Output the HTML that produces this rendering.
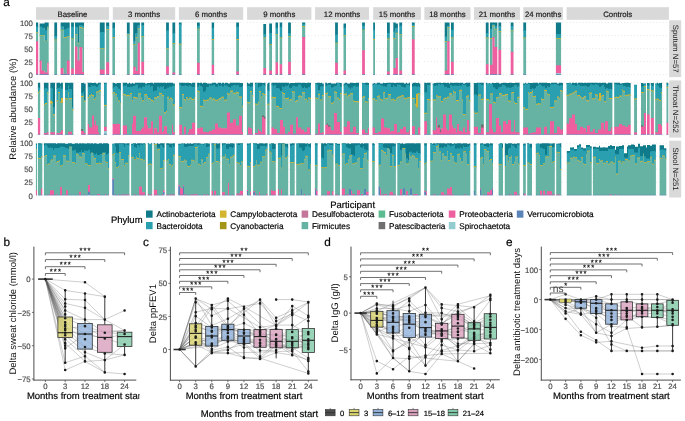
<!DOCTYPE html><html><head><meta charset="utf-8"><style>html,body{margin:0;padding:0;background:#fff;}svg{display:block;will-change:transform;}text{font-family:"Liberation Sans", sans-serif;text-rendering:geometricPrecision;paint-order:stroke;stroke-width:0.18px;}</style></head><body>
<svg width="685" height="421" viewBox="0 0 685 421">
<rect width="685" height="421" fill="#fff"/>
<text x="3.20" y="6.30" font-size="11.80" fill="#000" stroke="#000" text-anchor="start">a</text>
<rect x="36.00" y="7.2" width="73.00" height="12.6" fill="#D9D9D9"/>
<text x="72.50" y="16.60" font-size="7.80" fill="#1A1A1A" stroke="#1A1A1A" text-anchor="middle">Baseline</text>
<rect x="112.80" y="7.2" width="62.40" height="12.6" fill="#D9D9D9"/>
<text x="144.00" y="16.60" font-size="7.80" fill="#1A1A1A" stroke="#1A1A1A" text-anchor="middle">3 months</text>
<rect x="178.90" y="7.2" width="64.30" height="12.6" fill="#D9D9D9"/>
<text x="211.05" y="16.60" font-size="7.80" fill="#1A1A1A" stroke="#1A1A1A" text-anchor="middle">6 months</text>
<rect x="247.10" y="7.2" width="64.30" height="12.6" fill="#D9D9D9"/>
<text x="279.25" y="16.60" font-size="7.80" fill="#1A1A1A" stroke="#1A1A1A" text-anchor="middle">9 months</text>
<rect x="315.10" y="7.2" width="53.90" height="12.6" fill="#D9D9D9"/>
<text x="342.05" y="16.60" font-size="7.80" fill="#1A1A1A" stroke="#1A1A1A" text-anchor="middle">12 months</text>
<rect x="373.20" y="7.2" width="47.70" height="12.6" fill="#D9D9D9"/>
<text x="397.05" y="16.60" font-size="7.80" fill="#1A1A1A" stroke="#1A1A1A" text-anchor="middle">15 months</text>
<rect x="424.40" y="7.2" width="46.10" height="12.6" fill="#D9D9D9"/>
<text x="447.45" y="16.60" font-size="7.80" fill="#1A1A1A" stroke="#1A1A1A" text-anchor="middle">18 months</text>
<rect x="474.00" y="7.2" width="45.90" height="12.6" fill="#D9D9D9"/>
<text x="496.95" y="16.60" font-size="7.80" fill="#1A1A1A" stroke="#1A1A1A" text-anchor="middle">21 months</text>
<rect x="523.30" y="7.2" width="39.60" height="12.6" fill="#D9D9D9"/>
<text x="543.10" y="16.60" font-size="7.80" fill="#1A1A1A" stroke="#1A1A1A" text-anchor="middle">24 months</text>
<rect x="566.60" y="7.2" width="102.30" height="12.6" fill="#D9D9D9"/>
<text x="617.75" y="16.60" font-size="7.80" fill="#1A1A1A" stroke="#1A1A1A" text-anchor="middle">Controls</text>
<path d="M36.0 74.70H109.0M112.8 74.70H175.2M178.9 74.70H243.2M247.1 74.70H311.4M315.1 74.70H369.0M373.2 74.70H420.9M424.4 74.70H470.5M474.0 74.70H519.9M523.3 74.70H562.9M566.6 74.70H668.9M36.0 61.65H109.0M112.8 61.65H175.2M178.9 61.65H243.2M247.1 61.65H311.4M315.1 61.65H369.0M373.2 61.65H420.9M424.4 61.65H470.5M474.0 61.65H519.9M523.3 61.65H562.9M566.6 61.65H668.9M36.0 48.60H109.0M112.8 48.60H175.2M178.9 48.60H243.2M247.1 48.60H311.4M315.1 48.60H369.0M373.2 48.60H420.9M424.4 48.60H470.5M474.0 48.60H519.9M523.3 48.60H562.9M566.6 48.60H668.9M36.0 35.55H109.0M112.8 35.55H175.2M178.9 35.55H243.2M247.1 35.55H311.4M315.1 35.55H369.0M373.2 35.55H420.9M424.4 35.55H470.5M474.0 35.55H519.9M523.3 35.55H562.9M566.6 35.55H668.9M36.0 22.50H109.0M112.8 22.50H175.2M178.9 22.50H243.2M247.1 22.50H311.4M315.1 22.50H369.0M373.2 22.50H420.9M424.4 22.50H470.5M474.0 22.50H519.9M523.3 22.50H562.9M566.6 22.50H668.9M36.0 134.80H109.0M112.8 134.80H175.2M178.9 134.80H243.2M247.1 134.80H311.4M315.1 134.80H369.0M373.2 134.80H420.9M424.4 134.80H470.5M474.0 134.80H519.9M523.3 134.80H562.9M566.6 134.80H668.9M36.0 121.80H109.0M112.8 121.80H175.2M178.9 121.80H243.2M247.1 121.80H311.4M315.1 121.80H369.0M373.2 121.80H420.9M424.4 121.80H470.5M474.0 121.80H519.9M523.3 121.80H562.9M566.6 121.80H668.9M36.0 108.80H109.0M112.8 108.80H175.2M178.9 108.80H243.2M247.1 108.80H311.4M315.1 108.80H369.0M373.2 108.80H420.9M424.4 108.80H470.5M474.0 108.80H519.9M523.3 108.80H562.9M566.6 108.80H668.9M36.0 95.80H109.0M112.8 95.80H175.2M178.9 95.80H243.2M247.1 95.80H311.4M315.1 95.80H369.0M373.2 95.80H420.9M424.4 95.80H470.5M474.0 95.80H519.9M523.3 95.80H562.9M566.6 95.80H668.9M36.0 82.80H109.0M112.8 82.80H175.2M178.9 82.80H243.2M247.1 82.80H311.4M315.1 82.80H369.0M373.2 82.80H420.9M424.4 82.80H470.5M474.0 82.80H519.9M523.3 82.80H562.9M566.6 82.80H668.9M36.0 195.30H109.0M112.8 195.30H175.2M178.9 195.30H243.2M247.1 195.30H311.4M315.1 195.30H369.0M373.2 195.30H420.9M424.4 195.30H470.5M474.0 195.30H519.9M523.3 195.30H562.9M566.6 195.30H668.9M36.0 182.28H109.0M112.8 182.28H175.2M178.9 182.28H243.2M247.1 182.28H311.4M315.1 182.28H369.0M373.2 182.28H420.9M424.4 182.28H470.5M474.0 182.28H519.9M523.3 182.28H562.9M566.6 182.28H668.9M36.0 169.25H109.0M112.8 169.25H175.2M178.9 169.25H243.2M247.1 169.25H311.4M315.1 169.25H369.0M373.2 169.25H420.9M424.4 169.25H470.5M474.0 169.25H519.9M523.3 169.25H562.9M566.6 169.25H668.9M36.0 156.22H109.0M112.8 156.22H175.2M178.9 156.22H243.2M247.1 156.22H311.4M315.1 156.22H369.0M373.2 156.22H420.9M424.4 156.22H470.5M474.0 156.22H519.9M523.3 156.22H562.9M566.6 156.22H668.9M36.0 143.20H109.0M112.8 143.20H175.2M178.9 143.20H243.2M247.1 143.20H311.4M315.1 143.20H369.0M373.2 143.20H420.9M424.4 143.20H470.5M474.0 143.20H519.9M523.3 143.20H562.9M566.6 143.20H668.9" stroke="#D0D0D0" stroke-width="0.6" stroke-dasharray="0.8 2.4" fill="none"/>
<path fill="#0F7B8A" d="M36.00 22.50H38.20V27.28H36.00ZM39.60 23.54H41.70V27.28H39.60ZM41.70 23.54H44.50V28.32H41.70ZM44.50 22.50H47.30V30.93H44.50ZM47.30 22.50H48.70V26.75H47.30ZM54.30 22.50H57.10V36.67H54.30ZM60.60 22.50H63.40V26.75H60.60ZM63.40 22.50H66.90V29.89H63.40ZM66.90 22.50H69.70V28.32H66.90ZM71.10 22.50H73.90V27.28H71.10ZM75.00 22.50H77.40V27.28H75.00ZM77.40 22.50H79.50V42.94H77.40ZM79.50 22.50H82.30V25.71H79.50ZM82.30 22.50H84.00V26.75H82.30ZM99.80 22.50H104.70V32.50H99.80ZM106.10 22.50H109.20V26.75H106.10ZM112.40 22.50H115.00V28.32H112.40ZM126.90 22.50H129.70V33.54H126.90ZM133.20 22.50H135.70V41.37H133.20ZM135.70 22.50H137.80V33.54H135.70ZM137.80 22.50H139.90V25.71H137.80ZM141.30 22.50H144.10V25.71H141.30ZM166.10 22.50H168.90V30.93H166.10ZM172.40 22.50H175.20V33.54H172.40ZM178.90 22.50H181.60V24.67H178.90ZM197.00 22.50H199.80V26.23H197.00ZM211.70 22.50H214.10V28.32H211.70ZM236.20 22.50H239.00V27.28H236.20ZM263.30 24.07H266.10V34.58H263.30ZM269.20 23.54H272.00V33.54H269.20ZM275.50 22.50H278.00V28.32H275.50ZM279.70 22.50H282.20V27.28H279.70ZM288.10 22.50H290.90V33.54H288.10ZM302.10 22.50H305.20V24.67H302.10ZM335.10 22.50H337.90V35.11H335.10ZM343.50 23.54H346.00V28.32H343.50ZM362.10 22.50H364.90V26.23H362.10ZM373.20 22.50H375.00V30.41H373.20ZM387.00 22.50H389.80V33.54H387.00ZM393.30 22.50H395.70V31.97H393.30ZM395.70 23.54H397.90V28.32H395.70ZM399.30 22.50H402.10V26.23H399.30ZM411.90 22.50H414.70V25.19H411.90ZM444.70 22.50H447.20V37.19H444.70ZM447.20 22.50H449.60V26.23H447.20ZM451.00 22.50H453.80V30.41H451.00ZM485.80 22.50H488.60V33.54H485.80ZM490.00 22.50H492.50V29.36H490.00ZM492.50 22.50H494.50V24.67H492.50ZM494.50 22.50H497.30V26.75H494.50ZM498.40 22.50H501.20V26.75H498.40ZM510.70 22.50H513.50V26.75H510.70ZM523.30 22.50H526.10V30.93H523.30ZM555.90 22.50H561.10V34.58H555.90ZM37.90 82.80H39.00V87.95H37.90ZM39.00 82.80H40.20V88.26H39.00ZM43.90 82.80H45.00V89.77H43.90ZM45.00 82.80H47.00V88.72H45.00ZM47.00 82.80H48.50V89.67H47.00ZM50.30 82.80H52.00V88.04H50.30ZM52.00 82.80H53.00V89.05H52.00ZM53.00 82.80H55.00V107.94H53.00ZM56.50 82.80H58.00V88.97H56.50ZM58.00 82.80H60.00V88.27H58.00ZM60.00 83.40H61.00V86.81H60.00ZM61.00 82.80H62.90V89.03H61.00ZM65.00 82.80H66.00V90.35H65.00ZM66.00 82.80H68.00V90.51H66.00ZM68.00 83.10H69.00V85.95H68.00ZM69.00 82.80H71.00V89.80H69.00ZM71.00 82.80H72.00V89.52H71.00ZM72.00 82.80H73.30V107.72H72.00ZM81.10 83.10H83.00V93.51H81.10ZM83.00 82.80H84.00V92.06H83.00ZM84.00 83.40H85.70V100.46H84.00ZM87.70 82.80H89.00V87.32H87.70ZM89.00 82.80H91.00V87.65H89.00ZM91.00 82.80H92.00V85.78H91.00ZM92.00 83.10H94.00V86.71H92.00ZM94.00 82.80H95.00V86.06H94.00ZM95.00 82.80H96.00V86.56H95.00ZM96.00 83.40H98.00V87.51H96.00ZM98.00 82.80H99.00V85.59H98.00ZM99.00 82.80H100.80V84.65H99.00ZM104.00 82.80H105.00V84.72H104.00ZM105.00 82.80H106.80V83.92H105.00ZM112.60 82.80H114.00V88.41H112.60ZM114.00 83.10H115.00V87.38H114.00ZM115.00 83.40H117.00V86.69H115.00ZM117.00 83.10H118.00V87.69H117.00ZM118.00 83.10H120.00V89.27H118.00ZM120.00 83.10H120.90V90.86H120.00ZM122.80 82.80H124.00V86.46H122.80ZM124.00 82.80H126.00V86.31H124.00ZM126.00 82.80H127.00V85.33H126.00ZM127.00 83.40H129.00V87.64H127.00ZM129.00 82.80H130.00V87.53H129.00ZM130.00 83.40H132.00V87.33H130.00ZM132.00 83.10H133.00V87.42H132.00ZM133.00 83.40H135.00V86.58H133.00ZM135.00 82.80H136.00V85.89H135.00ZM136.00 82.80H138.00V85.47H136.00ZM138.00 82.80H139.00V89.09H138.00ZM139.00 82.80H141.00V88.10H139.00ZM141.00 82.80H142.00V89.12H141.00ZM142.00 82.80H144.00V87.05H142.00ZM144.00 82.80H145.00V87.81H144.00ZM145.00 83.40H147.00V85.28H145.00ZM147.00 83.10H148.00V86.04H147.00ZM148.00 83.10H150.00V85.33H148.00ZM150.00 82.80H151.00V87.44H150.00ZM151.00 82.80H153.00V86.84H151.00ZM153.00 83.40H154.00V92.04H153.00ZM154.00 82.80H156.00V91.18H154.00ZM156.00 82.80H157.00V91.10H156.00ZM157.00 82.80H159.00V87.17H157.00ZM159.00 82.80H160.00V88.11H159.00ZM160.00 82.80H162.00V87.05H160.00ZM162.00 82.80H163.00V87.50H162.00ZM163.00 82.80H164.00V86.79H163.00ZM164.00 82.80H166.00V89.51H164.00ZM166.00 83.10H167.00V89.29H166.00ZM167.00 82.80H169.00V88.45H167.00ZM169.00 82.80H170.00V87.19H169.00ZM170.00 82.80H172.00V87.42H170.00ZM172.00 82.80H173.00V86.39H172.00ZM173.00 83.40H174.90V86.07H173.00ZM179.20 82.80H181.00V85.20H179.20ZM181.00 82.80H182.00V86.74H181.00ZM182.00 82.80H184.00V86.78H182.00ZM184.00 82.80H185.00V86.41H184.00ZM185.00 83.10H186.00V85.96H185.00ZM186.00 82.80H188.00V86.76H186.00ZM188.00 82.80H189.00V87.00H188.00ZM189.00 83.10H191.00V86.02H189.00ZM191.00 83.40H192.00V87.15H191.00ZM192.00 82.80H194.00V87.60H192.00ZM194.00 82.80H195.20V87.15H194.00ZM197.10 82.80H199.00V87.07H197.10ZM199.00 83.10H200.00V85.44H199.00ZM200.00 82.80H202.00V86.86H200.00ZM202.00 83.40H203.00V87.68H202.00ZM203.00 82.80H205.00V92.36H203.00ZM205.00 82.80H206.00V91.30H205.00ZM206.00 83.10H207.00V87.50H206.00ZM207.00 83.40H209.00V87.72H207.00ZM209.00 83.40H210.00V85.34H209.00ZM210.00 83.40H212.00V85.98H210.00ZM212.00 82.80H213.00V86.03H212.00ZM213.00 82.80H215.00V85.37H213.00ZM215.00 82.80H216.00V87.11H215.00ZM216.00 83.40H218.00V87.45H216.00ZM218.00 82.80H219.00V85.14H218.00ZM219.00 82.80H221.00V86.71H219.00ZM221.00 83.40H222.00V85.76H221.00ZM222.00 82.80H224.00V87.05H222.00ZM224.00 83.40H225.00V85.45H224.00ZM225.00 82.80H227.00V86.19H225.00ZM227.00 83.10H228.00V86.25H227.00ZM228.00 83.40H230.00V87.78H228.00ZM230.00 82.80H231.00V88.36H230.00ZM231.00 82.80H233.00V86.69H231.00ZM233.00 82.80H234.00V85.71H233.00ZM234.00 82.80H236.00V85.48H234.00ZM236.00 82.80H237.00V86.30H236.00ZM237.00 82.80H239.00V85.74H237.00ZM239.00 82.80H240.00V87.65H239.00ZM240.00 83.10H242.00V87.80H240.00ZM242.00 83.10H243.00V86.75H242.00ZM246.90 82.80H248.00V86.65H246.90ZM248.00 83.40H250.00V86.63H248.00ZM250.00 82.80H252.00V87.29H250.00ZM252.00 82.80H253.10V86.71H252.00ZM254.90 82.80H256.00V84.77H254.90ZM256.00 82.80H258.00V83.77H256.00ZM258.00 82.80H259.00V88.00H258.00ZM259.00 82.80H261.00V87.01H259.00ZM261.00 82.80H262.00V86.67H261.00ZM262.00 83.10H264.00V85.12H262.00ZM264.00 82.80H265.50V86.19H264.00ZM267.20 83.40H268.00V90.69H267.20ZM268.00 82.80H269.60V90.91H268.00ZM271.40 82.80H273.00V85.17H271.40ZM273.00 82.80H274.00V86.78H273.00ZM274.00 82.80H276.00V85.50H274.00ZM276.00 82.80H277.00V88.77H276.00ZM277.00 82.80H279.00V88.69H277.00ZM279.00 82.80H280.00V89.24H279.00ZM280.00 82.80H282.00V91.28H280.00ZM282.00 82.80H283.00V86.83H282.00ZM283.00 82.80H285.00V87.56H283.00ZM285.00 82.80H286.00V86.11H285.00ZM286.00 82.80H288.00V86.78H286.00ZM288.00 82.80H289.00V85.05H288.00ZM289.00 83.40H290.00V88.18H289.00ZM290.00 83.10H292.00V88.75H290.00ZM292.00 83.10H293.00V86.90H292.00ZM293.00 83.10H295.00V86.38H293.00ZM295.00 82.80H296.00V87.14H295.00ZM296.00 82.80H298.00V87.15H296.00ZM298.00 82.80H299.00V85.04H298.00ZM299.00 82.80H301.00V85.13H299.00ZM301.00 83.10H302.00V86.49H301.00ZM302.00 82.80H304.00V88.60H302.00ZM304.00 82.80H305.00V87.42H304.00ZM305.00 83.10H307.00V88.57H305.00ZM307.00 82.80H308.00V88.97H307.00ZM308.00 82.80H310.00V87.64H308.00ZM310.00 82.80H311.00V85.70H310.00ZM315.20 83.10H317.00V84.25H315.20ZM317.00 82.80H318.00V85.34H317.00ZM318.00 82.80H320.00V90.72H318.00ZM320.00 83.10H321.00V87.26H320.00ZM321.00 82.80H322.00V86.90H321.00ZM322.00 83.40H323.80V86.89H322.00ZM325.20 82.80H327.00V86.59H325.20ZM327.00 83.40H328.00V85.73H327.00ZM328.00 83.10H330.00V85.23H328.00ZM330.00 82.80H331.00V85.47H330.00ZM331.00 83.40H333.00V88.01H331.00ZM333.00 83.40H334.00V87.54H333.00ZM334.00 83.40H336.00V86.80H334.00ZM336.00 82.80H337.00V86.30H336.00ZM337.00 82.80H339.00V83.72H337.00ZM339.00 82.80H340.00V84.46H339.00ZM340.00 83.10H341.80V87.08H340.00ZM343.60 83.40H345.00V86.09H343.60ZM345.00 82.80H347.00V85.16H345.00ZM347.00 83.40H348.00V86.59H347.00ZM348.00 83.40H350.00V88.01H348.00ZM350.00 82.80H351.00V89.63H350.00ZM351.00 82.80H353.00V88.22H351.00ZM353.00 83.10H354.00V86.54H353.00ZM354.00 83.10H356.00V86.33H354.00ZM356.00 82.80H357.00V87.81H356.00ZM357.00 82.80H359.00V87.12H357.00ZM362.00 82.80H363.00V83.93H362.00ZM363.00 83.10H365.00V84.22H363.00ZM365.00 82.80H366.00V85.12H365.00ZM366.00 82.80H368.00V85.64H366.00ZM368.00 83.10H369.00V85.27H368.00ZM372.50 83.40H374.00V85.79H372.50ZM374.00 83.10H375.00V84.64H374.00ZM375.00 83.40H377.00V84.62H375.00ZM377.00 82.80H378.00V85.65H377.00ZM378.00 82.80H380.00V85.21H378.00ZM380.00 83.40H381.00V85.80H380.00ZM381.00 83.40H383.00V86.13H381.00ZM383.00 82.80H384.00V86.90H383.00ZM384.00 83.10H385.00V86.74H384.00ZM385.00 83.10H387.00V87.28H385.00ZM387.00 82.80H388.00V85.15H387.00ZM388.00 82.80H390.00V84.32H388.00ZM390.00 82.80H391.00V84.59H390.00ZM391.00 82.80H393.00V87.69H391.00ZM393.00 82.80H394.00V85.84H393.00ZM394.00 83.10H396.00V87.00H394.00ZM396.00 82.80H397.00V87.37H396.00ZM397.00 82.80H398.00V85.12H397.00ZM398.00 82.80H400.00V85.34H398.00ZM400.00 82.80H401.00V85.71H400.00ZM401.00 82.80H403.00V87.33H401.00ZM403.00 82.80H404.00V87.78H403.00ZM404.00 83.40H406.00V87.98H404.00ZM406.00 82.80H407.00V85.23H406.00ZM407.00 83.40H409.00V85.74H407.00ZM409.00 82.80H410.00V86.33H409.00ZM412.00 83.40H413.00V87.43H412.00ZM413.00 82.80H415.00V86.95H413.00ZM415.00 82.80H416.00V86.91H415.00ZM416.00 83.10H418.00V87.26H416.00ZM418.00 82.80H419.00V86.55H418.00ZM419.00 83.40H420.30V87.48H419.00ZM424.20 82.80H426.00V92.63H424.20ZM426.00 83.10H427.00V93.11H426.00ZM427.00 82.80H429.00V85.76H427.00ZM429.00 82.80H430.60V85.82H429.00ZM432.70 83.40H434.00V85.05H432.70ZM434.00 83.10H436.00V86.65H434.00ZM436.00 82.80H437.00V85.76H436.00ZM437.00 82.80H438.00V86.28H437.00ZM438.00 82.80H440.00V84.74H438.00ZM440.00 82.80H441.00V85.61H440.00ZM441.00 83.10H443.00V84.62H441.00ZM443.00 82.80H444.00V85.56H443.00ZM444.00 82.80H446.00V87.33H444.00ZM446.00 83.10H447.00V87.47H446.00ZM447.00 82.80H449.00V88.43H447.00ZM449.00 83.40H450.00V88.53H449.00ZM450.00 82.80H452.00V85.50H450.00ZM452.00 82.80H453.00V86.51H452.00ZM453.00 83.10H454.00V86.72H453.00ZM454.00 82.80H456.00V86.21H454.00ZM456.00 82.80H457.00V86.37H456.00ZM457.00 82.80H459.00V86.86H457.00ZM459.00 83.10H460.00V85.95H459.00ZM460.00 82.80H462.00V86.40H460.00ZM462.00 82.80H463.00V84.81H462.00ZM463.00 83.40H465.00V85.51H463.00ZM465.00 83.10H466.00V85.02H465.00ZM466.00 82.80H467.00V86.91H466.00ZM467.00 82.80H469.00V87.30H467.00ZM469.00 82.80H470.30V86.82H469.00ZM473.80 83.10H475.00V95.16H473.80ZM475.00 83.10H477.00V95.16H475.00ZM477.00 82.80H478.00V96.24H477.00ZM478.00 82.80H480.00V84.07H478.00ZM480.00 82.80H481.00V84.75H480.00ZM481.00 82.80H482.00V85.45H481.00ZM482.00 82.80H483.80V85.50H482.00ZM485.90 82.80H487.00V85.01H485.90ZM487.00 83.40H489.00V84.30H487.00ZM489.00 83.10H490.00V84.00H489.00ZM490.00 83.40H492.00V84.50H490.00ZM492.00 82.80H493.00V84.95H492.00ZM493.00 83.10H495.00V87.90H493.00ZM495.00 83.10H496.00V89.34H495.00ZM496.00 82.80H498.00V89.97H496.00ZM498.00 82.80H499.00V88.18H498.00ZM499.00 83.40H501.00V87.84H499.00ZM501.00 83.10H502.00V87.18H501.00ZM502.00 83.10H503.00V85.02H502.00ZM503.00 82.80H505.00V85.94H503.00ZM505.00 82.80H506.00V86.68H505.00ZM506.00 83.10H508.00V88.20H506.00ZM508.00 83.10H509.00V87.94H508.00ZM509.00 82.80H511.00V88.42H509.00ZM511.00 82.80H512.00V88.01H511.00ZM512.00 83.10H514.00V87.29H512.00ZM514.00 83.10H515.00V85.78H514.00ZM515.00 82.80H517.00V85.84H515.00ZM517.00 82.80H518.00V87.68H517.00ZM518.00 82.80H519.60V86.44H518.00ZM523.10 83.40H525.00V85.28H523.10ZM525.00 82.80H526.00V84.29H525.00ZM526.00 83.40H528.00V85.03H526.00ZM528.00 82.80H529.00V84.15H528.00ZM529.00 83.10H530.00V84.66H529.00ZM530.00 83.10H532.00V89.78H530.00ZM532.00 83.10H533.00V88.86H532.00ZM533.00 82.80H535.00V89.39H533.00ZM535.00 82.80H536.00V88.49H535.00ZM536.00 82.80H538.00V86.74H536.00ZM538.00 83.40H539.00V85.45H538.00ZM539.00 82.80H541.00V85.15H539.00ZM541.00 82.80H542.00V86.21H541.00ZM542.00 82.80H544.00V86.96H542.00ZM544.00 82.80H545.00V86.57H544.00ZM545.00 82.80H547.00V88.57H545.00ZM547.00 83.10H548.00V86.68H547.00ZM548.00 83.10H550.00V87.87H548.00ZM550.00 83.40H551.00V85.79H550.00ZM551.00 82.80H553.00V84.97H551.00ZM553.00 82.80H554.00V85.14H553.00ZM554.00 82.80H556.00V84.87H554.00ZM556.00 82.80H557.00V84.94H556.00ZM557.00 83.40H559.00V85.84H557.00ZM559.00 82.80H560.00V86.82H559.00ZM560.00 82.80H562.00V85.92H560.00ZM562.00 83.10H563.00V85.92H562.00ZM566.50 83.10H568.00V84.14H566.50ZM568.00 83.10H569.00V84.00H568.00ZM569.00 82.80H571.00V83.74H569.00ZM571.00 83.40H572.00V84.92H571.00ZM572.00 82.80H574.00V85.54H572.00ZM574.00 83.10H575.00V85.34H574.00ZM575.00 82.80H577.00V86.32H575.00ZM577.00 83.40H578.00V85.09H577.00ZM578.00 82.80H580.00V85.46H578.00ZM580.00 82.80H581.00V86.62H580.00ZM581.00 82.80H583.00V86.82H581.00ZM583.00 83.10H584.00V86.80H583.00ZM584.00 82.80H586.00V86.46H584.00ZM586.00 83.10H587.00V86.53H586.00ZM587.00 82.80H589.00V87.85H587.00ZM589.00 82.80H590.00V86.59H589.00ZM590.00 82.80H592.00V84.92H590.00ZM592.00 82.80H593.00V85.24H592.00ZM593.00 82.80H595.00V85.57H593.00ZM595.00 82.80H596.00V84.36H595.00ZM596.00 82.80H598.00V85.18H596.00ZM598.00 83.10H599.00V85.71H598.00ZM599.00 82.80H601.00V87.51H599.00ZM601.00 83.10H602.00V86.50H601.00ZM602.00 82.80H604.00V85.81H602.00ZM604.00 82.80H605.00V87.71H604.00ZM605.00 82.80H606.00V89.81H605.00ZM606.00 83.40H608.00V88.53H606.00ZM608.00 82.80H609.00V89.81H608.00ZM609.00 82.80H611.00V89.43H609.00ZM611.00 82.80H612.40V89.61H611.00ZM614.20 82.80H616.00V84.70H614.20ZM616.00 82.80H617.00V85.04H616.00ZM617.00 82.80H619.00V85.00H617.00ZM619.00 82.80H620.00V85.52H619.00ZM620.00 83.40H622.00V85.50H620.00ZM622.00 83.10H623.00V84.11H622.00ZM623.00 83.10H625.00V86.73H623.00ZM625.00 82.80H626.00V86.93H625.00ZM626.00 82.80H628.00V87.63H626.00ZM628.00 82.80H629.00V87.10H628.00ZM629.00 83.10H630.70V87.60H629.00ZM634.10 84.82H636.00V85.72H634.10ZM636.00 84.82H637.00V85.72H636.00ZM641.00 83.10H643.00V87.20H641.00ZM643.00 83.40H644.00V86.44H643.00ZM644.00 83.40H646.00V84.30H644.00ZM647.00 83.10H648.00V86.04H647.00ZM648.00 83.10H649.70V86.11H648.00ZM650.80 83.10H652.00V85.29H650.80ZM652.00 83.10H653.90V86.78H652.00ZM655.20 83.40H657.00V84.41H655.20ZM657.00 82.80H658.00V85.94H657.00ZM658.00 83.40H659.00V85.98H658.00ZM659.00 83.10H661.00V88.12H659.00ZM661.00 82.80H662.10V88.58H661.00ZM666.50 82.80H668.30V85.11H666.50ZM35.90 143.50H37.00V145.42H35.90ZM37.90 143.20H39.00V144.40H37.90ZM39.00 143.20H41.00V144.98H39.00ZM41.00 143.50H42.30V144.74H41.00ZM43.90 143.20H45.00V146.36H43.90ZM45.00 143.20H47.00V145.41H45.00ZM47.00 143.20H48.00V146.98H47.00ZM48.00 143.20H50.00V148.24H48.00ZM50.00 143.20H51.00V148.07H50.00ZM51.00 143.20H53.00V148.25H51.00ZM53.00 143.20H54.00V150.63H53.00ZM54.00 143.20H56.00V148.63H54.00ZM56.00 143.80H57.00V148.56H56.00ZM57.00 143.20H59.00V148.51H57.00ZM59.00 143.20H60.00V148.03H59.00ZM60.00 143.20H62.00V147.34H60.00ZM62.00 143.20H63.00V146.89H62.00ZM63.00 143.20H65.00V147.63H63.00ZM65.00 143.80H66.00V148.26H65.00ZM66.00 143.80H68.00V148.57H66.00ZM68.00 143.20H69.00V149.83H68.00ZM69.00 143.20H71.00V147.41H69.00ZM71.00 143.20H72.00V147.32H71.00ZM72.00 143.80H74.00V151.14H72.00ZM74.00 143.80H75.00V150.76H74.00ZM75.00 143.20H76.00V150.31H75.00ZM76.00 143.20H78.00V153.22H76.00ZM78.00 143.80H79.00V153.28H78.00ZM79.00 143.20H81.00V152.62H79.00ZM81.00 143.50H82.00V150.90H81.00ZM82.00 143.20H84.00V152.71H82.00ZM84.00 143.50H85.00V150.53H84.00ZM85.00 143.50H87.00V151.27H85.00ZM87.00 143.20H88.00V151.25H87.00ZM88.00 143.20H90.00V150.41H88.00ZM90.00 143.50H91.00V153.92H90.00ZM91.00 143.20H93.00V153.23H91.00ZM93.00 143.80H94.00V153.85H93.00ZM94.00 143.20H96.00V154.92H94.00ZM96.00 143.50H97.00V153.80H96.00ZM97.00 143.80H99.00V155.81H97.00ZM99.00 143.20H100.00V155.56H99.00ZM100.00 143.20H102.00V154.82H100.00ZM102.00 143.80H103.00V152.90H102.00ZM103.00 143.20H105.00V152.94H103.00ZM105.00 143.20H106.00V152.89H105.00ZM106.00 143.20H108.00V154.90H106.00ZM108.00 143.80H109.10V153.71H108.00ZM112.20 143.80H114.00V144.70H112.20ZM114.00 143.50H115.00V144.40H114.00ZM115.00 143.20H116.00V147.02H115.00ZM116.00 143.20H118.00V153.29H116.00ZM118.00 143.20H119.00V153.64H118.00ZM119.00 143.20H121.00V144.56H119.00ZM121.00 143.20H122.00V144.10H121.00ZM122.00 143.20H124.00V144.96H122.00ZM124.00 143.20H125.00V147.83H124.00ZM125.00 143.50H127.00V145.22H125.00ZM127.00 143.20H128.00V145.49H127.00ZM128.00 143.20H129.40V145.64H128.00ZM131.10 143.80H133.00V145.31H131.10ZM133.00 143.20H134.00V144.10H133.00ZM134.00 143.20H136.00V147.69H134.00ZM136.00 143.80H137.00V148.47H136.00ZM137.00 143.20H139.00V145.52H137.00ZM139.00 143.20H140.00V147.19H139.00ZM140.00 143.20H142.00V145.10H140.00ZM142.00 143.50H143.00V145.96H142.00ZM143.00 143.20H145.00V144.30H143.00ZM145.00 143.80H146.00V144.70H145.00ZM147.80 143.20H149.00V144.10H147.80ZM149.00 143.80H151.00V144.70H149.00ZM151.00 143.20H152.20V144.62H151.00ZM153.80 143.20H155.00V144.10H153.80ZM155.00 143.80H157.00V144.70H155.00ZM157.00 143.20H158.00V148.35H157.00ZM158.00 143.80H160.00V148.11H158.00ZM160.00 143.20H162.00V145.78H160.00ZM162.00 143.20H163.00V147.11H162.00ZM163.00 143.20H164.60V147.99H163.00ZM166.20 143.20H168.00V145.25H166.20ZM168.00 143.20H169.00V145.64H168.00ZM169.00 143.50H171.00V147.79H169.00ZM171.00 143.50H172.00V148.87H171.00ZM172.00 143.50H173.00V145.57H172.00ZM173.00 143.20H174.90V147.01H173.00ZM178.20 143.80H180.00V145.06H178.20ZM180.00 143.80H181.00V145.13H180.00ZM181.00 143.50H183.00V144.40H181.00ZM183.00 143.50H184.00V144.51H183.00ZM184.00 143.20H185.00V147.32H184.00ZM185.00 143.80H187.00V147.53H185.00ZM187.00 143.20H188.00V147.11H187.00ZM188.00 143.50H190.00V146.62H188.00ZM190.00 143.20H191.00V146.73H190.00ZM191.00 143.80H193.00V146.87H191.00ZM193.00 143.20H194.00V146.14H193.00ZM194.00 143.20H195.00V145.22H194.00ZM195.00 143.20H197.00V144.72H195.00ZM197.00 143.20H198.00V145.67H197.00ZM198.00 143.20H200.00V145.20H198.00ZM200.00 143.50H201.00V145.02H200.00ZM201.00 143.80H203.00V144.70H201.00ZM203.00 143.80H204.00V145.82H203.00ZM204.00 143.50H206.00V144.40H204.00ZM206.00 143.20H207.00V147.62H206.00ZM207.00 143.20H208.00V147.79H207.00ZM208.00 143.50H209.90V147.03H208.00ZM211.50 143.20H213.00V144.66H211.50ZM213.00 143.20H214.00V144.46H213.00ZM214.00 143.50H216.00V144.69H214.00ZM216.00 143.20H217.00V149.20H216.00ZM217.00 143.50H219.00V149.17H217.00ZM219.00 143.20H220.20V148.43H219.00ZM221.90 143.20H223.00V146.32H221.90ZM223.00 143.20H225.00V145.08H223.00ZM225.00 143.20H226.00V144.48H225.00ZM226.00 143.80H228.00V149.45H226.00ZM228.00 143.50H229.00V149.48H228.00ZM229.00 143.80H230.00V147.66H229.00ZM230.00 143.20H232.00V147.67H230.00ZM232.00 143.20H233.00V148.60H232.00ZM233.00 143.50H234.70V147.33H233.00ZM236.40 143.50H238.00V144.40H236.40ZM238.00 143.20H240.00V145.63H238.00ZM240.00 143.20H241.00V144.82H240.00ZM241.00 143.20H243.00V144.34H241.00ZM246.90 143.50H248.00V145.48H246.90ZM248.00 143.50H250.00V145.12H248.00ZM250.00 143.20H251.00V144.10H250.00ZM253.10 143.20H255.00V144.10H253.10ZM255.00 143.20H256.00V145.21H255.00ZM256.00 143.20H257.00V145.08H256.00ZM257.00 143.80H259.00V149.77H257.00ZM259.00 143.20H260.00V148.98H259.00ZM260.00 143.20H262.00V146.78H260.00ZM262.00 143.20H263.00V146.46H262.00ZM263.00 143.50H265.00V146.43H263.00ZM265.00 143.20H266.00V147.15H265.00ZM266.00 143.20H267.60V146.23H266.00ZM269.20 143.80H271.00V144.70H269.20ZM271.00 143.20H272.00V144.68H271.00ZM272.00 143.20H274.00V149.77H272.00ZM274.00 143.80H275.80V149.25H274.00ZM277.90 143.20H279.00V145.10H277.90ZM279.00 143.20H281.00V144.10H279.00ZM281.00 143.20H282.00V156.09H281.00ZM282.00 143.20H284.00V145.21H282.00ZM284.00 143.20H285.00V144.21H284.00ZM285.00 143.80H287.00V147.07H285.00ZM287.00 143.80H288.20V148.20H287.00ZM289.90 143.50H292.00V146.34H289.90ZM292.00 143.20H293.00V145.63H292.00ZM293.00 143.20H294.70V145.23H293.00ZM296.20 143.50H298.00V144.40H296.20ZM298.00 143.20H299.00V144.42H298.00ZM299.00 143.20H301.00V148.03H299.00ZM301.00 143.20H302.00V148.30H301.00ZM302.00 143.20H304.00V151.32H302.00ZM304.00 143.20H305.00V150.70H304.00ZM305.00 143.50H307.00V147.06H305.00ZM307.00 143.20H308.00V145.03H307.00ZM308.00 143.80H310.00V147.07H308.00ZM310.00 143.20H311.00V148.23H310.00ZM314.90 143.20H316.00V144.90H314.90ZM316.00 143.20H317.60V145.39H316.00ZM321.10 143.20H323.00V158.33H321.10ZM323.00 143.50H324.00V159.13H323.00ZM324.00 143.20H326.00V146.38H324.00ZM326.00 143.80H327.00V146.34H326.00ZM327.00 143.20H329.00V144.31H327.00ZM329.00 143.20H330.00V145.14H329.00ZM330.00 143.20H332.00V145.63H330.00ZM332.00 143.20H333.50V145.35H332.00ZM335.10 143.20H337.00V144.10H335.10ZM337.00 143.80H338.00V145.78H337.00ZM338.00 143.80H340.00V145.64H338.00ZM341.80 143.20H343.00V144.70H341.80ZM343.00 143.20H345.00V144.10H343.00ZM345.00 143.20H346.00V144.92H345.00ZM346.00 143.50H348.00V147.96H346.00ZM348.00 143.20H349.00V149.04H348.00ZM349.00 143.80H351.00V148.88H349.00ZM351.00 143.20H352.00V155.05H351.00ZM352.00 143.20H354.00V155.44H352.00ZM354.00 143.20H355.00V156.68H354.00ZM355.00 143.20H357.00V146.03H355.00ZM357.00 143.20H358.00V145.77H357.00ZM358.00 143.20H360.00V145.46H358.00ZM360.00 143.80H361.00V147.64H360.00ZM361.00 143.20H363.00V148.47H361.00ZM363.00 143.80H364.00V146.94H363.00ZM364.00 143.20H366.00V149.97H364.00ZM366.00 143.20H367.00V151.06H366.00ZM367.00 143.20H368.60V150.55H367.00ZM372.20 143.20H374.00V145.56H372.20ZM374.00 143.80H374.80V145.31H374.00ZM378.50 143.20H380.00V144.12H378.50ZM380.00 143.20H381.00V144.10H380.00ZM381.00 143.20H383.00V144.10H381.00ZM383.00 143.50H384.00V148.08H383.00ZM384.00 143.20H386.00V148.42H384.00ZM386.00 143.20H387.00V148.58H386.00ZM387.00 143.20H389.00V148.83H387.00ZM389.00 143.20H390.00V149.55H389.00ZM390.00 143.20H392.00V153.62H390.00ZM392.00 143.20H393.00V146.92H392.00ZM393.00 143.20H394.00V147.12H393.00ZM394.00 143.50H395.90V146.39H394.00ZM397.30 143.20H399.00V144.15H397.30ZM399.00 143.20H400.00V144.12H399.00ZM400.00 143.50H402.00V150.84H400.00ZM402.00 143.20H403.00V148.73H402.00ZM403.00 143.80H405.00V148.50H403.00ZM405.00 143.50H406.00V148.77H405.00ZM406.00 143.20H408.00V158.91H406.00ZM408.00 143.20H409.00V160.62H408.00ZM409.00 143.20H410.00V152.85H409.00ZM410.00 143.20H412.00V152.11H410.00ZM412.00 143.20H413.00V153.50H412.00ZM413.00 143.20H415.00V153.01H413.00ZM415.00 143.50H416.00V153.73H415.00ZM416.00 143.20H418.00V151.98H416.00ZM418.00 143.20H419.00V153.58H418.00ZM419.00 143.20H420.70V153.71H419.00ZM424.20 143.20H426.00V145.93H424.20ZM426.00 143.20H426.90V145.67H426.00ZM430.20 143.20H432.00V144.10H430.20ZM432.00 143.80H433.00V145.22H432.00ZM433.00 143.20H435.00V145.49H433.00ZM435.00 143.50H436.00V144.53H435.00ZM436.00 143.20H438.00V144.22H436.00ZM438.00 143.20H439.00V145.18H438.00ZM439.00 143.20H441.00V148.44H439.00ZM441.00 143.20H442.00V147.96H441.00ZM442.00 143.20H444.00V148.30H442.00ZM444.00 143.20H445.00V146.62H444.00ZM445.00 143.50H447.00V147.55H445.00ZM447.00 143.20H448.00V145.20H447.00ZM448.00 143.20H450.00V145.56H448.00ZM450.00 143.20H451.00V147.05H450.00ZM451.00 143.20H452.00V146.33H451.00ZM452.00 143.80H454.00V145.99H452.00ZM454.00 143.20H455.00V145.11H454.00ZM455.00 143.50H457.00V149.44H455.00ZM457.00 143.20H458.00V148.06H457.00ZM458.00 143.20H460.00V149.02H458.00ZM460.00 143.20H461.00V147.80H460.00ZM461.00 143.50H463.00V149.09H461.00ZM463.00 143.20H464.00V146.44H463.00ZM464.00 143.20H466.00V147.55H464.00ZM466.00 143.20H467.00V147.56H466.00ZM467.00 143.80H469.00V147.20H467.00ZM469.00 143.50H470.30V145.72H469.00ZM473.80 143.20H475.00V145.27H473.80ZM475.00 143.20H476.50V145.25H475.00ZM480.00 143.50H481.00V145.41H480.00ZM481.00 143.20H483.00V145.04H481.00ZM483.00 143.80H484.00V144.83H483.00ZM484.00 143.80H486.00V146.65H484.00ZM486.00 143.20H487.00V147.02H486.00ZM487.00 143.20H489.00V147.69H487.00ZM489.00 143.80H490.00V145.19H489.00ZM490.00 143.20H492.00V146.14H490.00ZM492.00 143.50H493.00V145.61H492.00ZM498.60 143.80H500.00V144.70H498.60ZM500.00 143.20H502.00V144.10H500.00ZM502.00 143.50H503.00V148.43H502.00ZM504.80 143.20H506.00V155.38H504.80ZM506.00 143.80H508.00V155.94H506.00ZM508.00 143.20H509.00V149.86H508.00ZM509.00 143.20H511.00V148.39H509.00ZM511.00 143.20H512.00V145.06H511.00ZM512.00 143.80H514.00V145.98H512.00ZM514.00 143.50H515.00V147.17H514.00ZM515.00 143.80H517.00V148.50H515.00ZM517.00 143.20H518.00V145.10H517.00ZM518.00 143.20H519.60V145.50H518.00ZM523.10 143.80H524.00V146.21H523.10ZM524.00 143.50H525.80V145.71H524.00ZM527.20 143.20H529.00V144.10H527.20ZM529.00 143.80H530.00V144.73H529.00ZM530.00 143.80H532.00V148.26H530.00ZM535.80 143.80H537.00V144.70H535.80ZM537.00 143.50H539.00V144.41H537.00ZM539.00 143.80H540.00V144.70H539.00ZM540.00 143.50H542.00V148.42H540.00ZM542.00 143.20H543.00V148.59H542.00ZM543.00 143.20H545.00V149.62H543.00ZM545.00 143.20H546.00V155.59H545.00ZM546.00 143.20H547.00V155.21H546.00ZM547.00 143.20H549.00V146.71H547.00ZM549.00 143.50H550.00V146.15H549.00ZM550.00 143.50H552.00V145.10H550.00ZM552.00 143.50H553.00V147.88H552.00ZM553.00 143.20H554.80V147.49H553.00ZM556.20 143.80H558.00V144.70H556.20ZM558.00 143.50H560.00V145.01H558.00ZM560.00 143.20H561.30V147.34H560.00ZM566.80 151.02H568.00V153.46H566.80ZM568.00 151.02H570.00V153.33H568.00ZM570.00 147.44H571.00V149.86H570.00ZM571.00 147.44H573.00V150.28H571.00ZM573.00 147.16H574.00V149.90H573.00ZM574.00 148.95H576.00V151.42H574.00ZM576.00 148.95H577.00V151.22H576.00ZM577.00 145.23H579.00V147.91H577.00ZM579.00 144.13H580.00V146.33H579.00ZM580.00 144.13H581.00V146.94H580.00ZM581.00 147.44H583.00V149.65H581.00ZM583.00 148.26H584.00V150.97H583.00ZM584.00 148.26H586.00V151.05H584.00ZM586.00 144.96H587.00V147.29H586.00ZM587.00 144.96H589.00V147.50H587.00ZM589.00 144.96H590.00V147.21H589.00ZM590.00 146.34H591.70V148.84H590.00ZM592.90 146.75H594.00V149.65H592.90ZM594.00 146.75H596.00V149.32H594.00ZM596.00 147.16H597.00V149.24H596.00ZM597.00 147.16H599.00V149.85H597.00ZM599.00 145.65H600.00V151.84H599.00ZM600.00 147.44H602.00V151.69H600.00ZM602.00 147.44H603.00V151.46H602.00ZM603.00 147.16H605.00V151.53H603.00ZM605.00 147.44H606.00V151.43H605.00ZM606.00 147.44H608.00V151.70H606.00ZM608.00 146.06H609.00V149.87H608.00ZM609.00 146.06H610.00V149.67H609.00ZM610.00 145.23H612.00V149.49H610.00ZM612.00 146.06H613.00V149.80H612.00ZM613.00 146.06H615.00V149.47H613.00ZM615.00 149.64H616.00V154.58H615.00ZM616.00 146.47H618.00V154.90H616.00ZM618.00 146.47H619.00V154.95H618.00ZM619.00 146.06H621.00V149.59H619.00ZM621.00 146.06H622.00V149.45H621.00ZM622.00 145.23H624.00V149.24H622.00ZM624.00 153.36H625.00V157.99H624.00ZM625.00 153.36H627.00V158.42H625.00ZM627.00 146.47H628.00V158.43H627.00ZM628.00 145.23H630.00V149.37H628.00ZM630.00 145.23H631.00V149.61H630.00ZM631.00 144.55H632.00V149.36H631.00ZM632.00 144.55H634.00V149.85H632.00ZM634.00 144.96H635.00V153.09H634.00ZM635.00 146.75H637.00V153.07H635.00ZM637.00 146.75H638.00V153.30H637.00ZM638.00 143.86H640.00V148.27H638.00ZM640.00 146.34H641.00V156.54H640.00ZM641.00 146.34H643.00V156.53H641.00ZM643.00 145.23H644.00V154.33H643.00ZM644.00 145.23H646.00V157.11H644.00ZM646.00 147.44H647.00V159.26H646.00ZM647.00 144.96H649.00V159.20H647.00ZM649.00 144.96H650.00V159.27H649.00ZM650.00 145.65H652.00V151.98H650.00ZM652.00 144.55H653.00V151.84H652.00ZM653.00 144.55H654.00V151.54H653.00ZM654.00 144.55H655.90V151.88H654.00ZM659.60 145.23H661.00V150.38H659.60ZM661.00 145.23H662.00V150.18H661.00ZM662.00 145.23H664.00V150.10H662.00ZM664.00 148.26H665.00V150.74H664.00ZM665.00 148.26H666.30V151.00H665.00Z"/>
<path fill="#2A9FB0" d="M36.00 26.68H38.20V32.91H36.00ZM39.60 26.68H41.70V35.52H39.60ZM41.70 27.72H44.50V35.52H41.70ZM44.50 30.33H47.30V41.27H44.50ZM47.30 26.15H48.70V28.22H47.30ZM54.30 36.07H57.10V40.22H54.30ZM60.60 26.15H63.40V30.30H60.60ZM63.40 29.29H66.90V37.61H63.40ZM66.90 27.72H69.70V36.57H66.90ZM71.10 26.68H73.90V39.18H71.10ZM75.00 26.68H77.40V34.48H75.00ZM77.40 42.34H79.50V43.35H77.40ZM79.50 25.11H82.30V27.69H79.50ZM82.30 26.15H84.00V28.74H82.30ZM99.80 31.90H104.70V48.57H99.80ZM106.10 26.15H109.20V29.78H106.10ZM112.40 27.72H115.00V37.61H112.40ZM126.90 32.94H129.70V34.48H126.90ZM133.20 40.77H135.70V44.92H133.20ZM135.70 32.94H137.80V37.61H135.70ZM137.80 25.11H139.90V28.74H137.80ZM141.30 25.11H144.10V36.57H141.30ZM166.10 30.33H168.90V48.57H166.10ZM172.40 32.94H175.20V43.88H172.40ZM178.90 24.07H181.60V44.40H178.90ZM197.00 25.63H199.80V29.26H197.00ZM211.70 27.72H214.10V39.70H211.70ZM236.20 26.68H239.00V39.70H236.20ZM263.30 33.98H266.10V38.13H263.30ZM269.20 32.94H272.00V44.92H269.20ZM275.50 27.72H278.00V34.48H275.50ZM279.70 26.68H282.20V38.13H279.70ZM288.10 32.94H290.90V36.57H288.10ZM302.10 24.07H305.20V26.65H302.10ZM335.10 34.51H337.90V43.35H335.10ZM343.50 27.72H346.00V35.52H343.50ZM362.10 25.63H364.90V30.30H362.10ZM373.20 29.81H375.00V39.70H373.20ZM387.00 32.94H389.80V39.18H387.00ZM393.30 31.37H395.70V38.66H393.30ZM395.70 27.72H397.90V33.44H395.70ZM399.30 25.63H402.10V34.48H399.30ZM411.90 24.59H414.70V26.65H411.90ZM444.70 36.59H447.20V41.79H444.70ZM447.20 25.63H449.60V27.69H447.20ZM451.00 29.81H453.80V38.13H451.00ZM485.80 32.94H488.60V38.13H485.80ZM490.00 28.76H492.50V38.66H490.00ZM492.50 24.07H494.50V26.13H492.50ZM494.50 26.15H497.30V29.26H494.50ZM498.40 26.15H501.20V31.87H498.40ZM510.70 26.15H513.50V30.83H510.70ZM523.30 30.33H526.10V38.13H523.30ZM555.90 33.98H561.10V38.66H555.90ZM37.90 87.35H39.00V92.74H37.90ZM39.00 87.66H40.20V91.30H39.00ZM43.90 89.17H45.00V104.54H43.90ZM45.00 88.12H47.00V103.64H45.00ZM47.00 89.07H48.50V92.95H47.00ZM50.30 87.44H52.00V101.27H50.30ZM52.00 88.45H53.00V102.56H52.00ZM53.00 107.34H55.00V114.87H53.00ZM56.50 88.37H58.00V100.90H56.50ZM58.00 87.67H60.00V92.56H58.00ZM60.00 86.21H61.00V102.02H60.00ZM61.00 88.43H62.90V98.52H61.00ZM65.00 89.75H66.00V98.68H65.00ZM66.00 89.91H68.00V99.00H66.00ZM68.00 85.35H69.00V92.99H68.00ZM69.00 89.20H71.00V98.84H69.00ZM71.00 88.92H72.00V98.56H71.00ZM72.00 107.12H73.30V109.92H72.00ZM81.10 92.91H83.00V96.48H81.10ZM83.00 91.46H84.00V96.04H83.00ZM84.00 99.86H85.70V101.10H84.00ZM87.70 86.72H89.00V97.54H87.70ZM89.00 87.05H91.00V95.89H89.00ZM91.00 85.18H92.00V94.50H91.00ZM92.00 86.11H94.00V95.58H92.00ZM94.00 85.46H95.00V99.63H94.00ZM95.00 85.96H96.00V98.17H95.00ZM96.00 86.91H98.00V92.13H96.00ZM98.00 84.99H99.00V91.67H98.00ZM99.00 84.05H100.80V90.52H99.00ZM104.00 84.12H105.00V105.28H104.00ZM105.00 83.32H106.80V105.54H105.00ZM112.60 87.81H114.00V93.21H112.60ZM114.00 86.78H115.00V92.69H114.00ZM115.00 86.09H117.00V94.39H115.00ZM117.00 87.09H118.00V98.12H117.00ZM118.00 88.67H120.00V101.08H118.00ZM120.00 90.26H120.90V103.79H120.00ZM122.80 85.86H124.00V94.18H122.80ZM124.00 85.71H126.00V94.73H124.00ZM126.00 84.73H127.00V95.78H126.00ZM127.00 87.04H129.00V95.23H127.00ZM129.00 86.93H130.00V95.76H129.00ZM130.00 86.73H132.00V93.64H130.00ZM132.00 86.82H133.00V100.93H132.00ZM133.00 85.98H135.00V97.34H133.00ZM135.00 85.29H136.00V97.49H135.00ZM136.00 84.87H138.00V98.18H136.00ZM138.00 88.49H139.00V94.11H138.00ZM139.00 87.50H141.00V93.93H139.00ZM141.00 88.52H142.00V98.26H141.00ZM142.00 86.45H144.00V100.89H142.00ZM144.00 87.21H145.00V94.98H144.00ZM145.00 84.68H147.00V94.54H145.00ZM147.00 85.44H148.00V96.95H147.00ZM148.00 84.73H150.00V98.58H148.00ZM150.00 86.84H151.00V99.29H150.00ZM151.00 86.24H153.00V100.30H151.00ZM153.00 91.44H154.00V101.42H153.00ZM154.00 90.58H156.00V97.94H154.00ZM156.00 90.50H157.00V97.84H156.00ZM157.00 86.57H159.00V96.81H157.00ZM159.00 87.51H160.00V93.44H159.00ZM160.00 86.45H162.00V93.61H160.00ZM162.00 86.90H163.00V95.27H162.00ZM163.00 86.19H164.00V95.64H163.00ZM164.00 88.91H166.00V112.80H164.00ZM166.00 88.69H167.00V111.59H166.00ZM167.00 87.85H169.00V97.43H167.00ZM169.00 86.59H170.00V99.65H169.00ZM170.00 86.82H172.00V98.24H170.00ZM172.00 85.79H173.00V99.78H172.00ZM173.00 85.47H174.90V104.97H173.00ZM179.20 84.60H181.00V107.66H179.20ZM181.00 86.14H182.00V107.84H181.00ZM182.00 86.18H184.00V94.72H182.00ZM184.00 85.81H185.00V99.59H184.00ZM185.00 85.36H186.00V100.21H185.00ZM186.00 86.16H188.00V97.89H186.00ZM188.00 86.40H189.00V99.49H188.00ZM189.00 85.42H191.00V98.02H189.00ZM191.00 86.55H192.00V98.31H191.00ZM192.00 87.00H194.00V99.70H192.00ZM194.00 86.55H195.20V98.09H194.00ZM197.10 86.47H199.00V91.36H197.10ZM199.00 84.84H200.00V92.12H199.00ZM200.00 86.26H202.00V106.38H200.00ZM202.00 87.08H203.00V106.73H202.00ZM203.00 91.76H205.00V100.35H203.00ZM205.00 90.70H206.00V100.95H205.00ZM206.00 86.90H207.00V100.54H206.00ZM207.00 87.12H209.00V100.14H207.00ZM209.00 84.74H210.00V98.28H209.00ZM210.00 85.38H212.00V98.10H210.00ZM212.00 85.43H213.00V99.76H212.00ZM213.00 84.77H215.00V99.04H213.00ZM215.00 86.51H216.00V100.37H215.00ZM216.00 86.85H218.00V100.32H216.00ZM218.00 84.54H219.00V99.53H218.00ZM219.00 86.11H221.00V98.53H219.00ZM221.00 85.16H222.00V97.44H221.00ZM222.00 86.45H224.00V97.42H222.00ZM224.00 84.85H225.00V100.45H224.00ZM225.00 85.59H227.00V100.19H225.00ZM227.00 85.65H228.00V93.39H227.00ZM228.00 87.18H230.00V94.00H228.00ZM230.00 87.76H231.00V91.32H230.00ZM231.00 86.09H233.00V91.19H231.00ZM233.00 85.11H234.00V93.20H233.00ZM234.00 84.88H236.00V93.26H234.00ZM236.00 85.70H237.00V92.47H236.00ZM237.00 85.14H239.00V92.73H237.00ZM239.00 87.05H240.00V96.93H239.00ZM240.00 87.20H242.00V97.05H240.00ZM242.00 86.15H243.00V106.42H242.00ZM246.90 86.05H248.00V102.47H246.90ZM248.00 86.03H250.00V102.87H248.00ZM250.00 86.69H252.00V91.70H250.00ZM252.00 86.11H253.10V95.87H252.00ZM254.90 84.17H256.00V104.22H254.90ZM256.00 83.17H258.00V104.43H256.00ZM258.00 87.40H259.00V102.43H258.00ZM259.00 86.41H261.00V91.63H259.00ZM261.00 86.07H262.00V97.14H261.00ZM262.00 84.52H264.00V93.96H262.00ZM264.00 85.59H265.50V94.60H264.00ZM267.20 90.09H268.00V104.52H267.20ZM268.00 90.31H269.60V104.04H268.00ZM271.40 84.57H273.00V97.39H271.40ZM273.00 86.18H274.00V97.74H273.00ZM274.00 84.90H276.00V97.70H274.00ZM276.00 88.17H277.00V106.39H276.00ZM277.00 88.09H279.00V106.60H277.00ZM279.00 88.64H280.00V108.05H279.00ZM280.00 90.68H282.00V108.58H280.00ZM282.00 86.23H283.00V92.64H282.00ZM283.00 86.96H285.00V93.59H283.00ZM285.00 85.51H286.00V98.55H285.00ZM286.00 86.18H288.00V98.51H286.00ZM288.00 84.45H289.00V98.13H288.00ZM289.00 87.58H290.00V100.36H289.00ZM290.00 88.15H292.00V99.85H290.00ZM292.00 86.30H293.00V91.57H292.00ZM293.00 85.78H295.00V92.09H293.00ZM295.00 86.54H296.00V101.76H295.00ZM296.00 86.55H298.00V100.80H296.00ZM298.00 84.44H299.00V96.70H298.00ZM299.00 84.53H301.00V96.02H299.00ZM301.00 85.89H302.00V96.75H301.00ZM302.00 88.00H304.00V92.86H302.00ZM304.00 86.82H305.00V92.63H304.00ZM305.00 87.97H307.00V99.45H305.00ZM307.00 88.37H308.00V101.05H307.00ZM308.00 87.04H310.00V98.12H308.00ZM310.00 85.10H311.00V98.66H310.00ZM315.20 83.65H317.00V98.21H315.20ZM317.00 84.74H318.00V98.48H317.00ZM318.00 90.12H320.00V94.37H318.00ZM320.00 86.66H321.00V100.42H320.00ZM321.00 86.30H322.00V99.95H321.00ZM322.00 86.29H323.80V95.52H322.00ZM325.20 85.99H327.00V93.64H325.20ZM327.00 85.13H328.00V93.20H327.00ZM328.00 84.63H330.00V96.94H328.00ZM330.00 84.87H331.00V96.76H330.00ZM331.00 87.41H333.00V103.24H331.00ZM333.00 86.94H334.00V102.43H333.00ZM334.00 86.20H336.00V92.12H334.00ZM336.00 85.70H337.00V92.54H336.00ZM337.00 83.12H339.00V98.21H337.00ZM339.00 83.86H340.00V99.65H339.00ZM340.00 86.48H341.80V93.48H340.00ZM343.60 85.49H345.00V94.37H343.60ZM345.00 84.56H347.00V94.00H345.00ZM347.00 85.99H348.00V96.80H347.00ZM348.00 87.41H350.00V95.42H348.00ZM350.00 89.03H351.00V93.89H350.00ZM351.00 87.62H353.00V93.76H351.00ZM353.00 85.94H354.00V100.95H353.00ZM354.00 85.73H356.00V101.64H354.00ZM356.00 87.21H357.00V101.84H356.00ZM357.00 86.52H359.00V101.82H357.00ZM362.00 83.33H363.00V97.72H362.00ZM363.00 83.62H365.00V96.79H363.00ZM365.00 84.52H366.00V101.97H365.00ZM366.00 85.04H368.00V102.00H366.00ZM368.00 84.67H369.00V98.84H368.00ZM372.50 85.19H374.00V99.09H372.50ZM374.00 84.04H375.00V98.79H374.00ZM375.00 84.02H377.00V100.36H375.00ZM377.00 85.05H378.00V96.64H377.00ZM378.00 84.61H380.00V96.12H378.00ZM380.00 85.20H381.00V99.19H380.00ZM381.00 85.53H383.00V100.11H381.00ZM383.00 86.30H384.00V93.03H383.00ZM384.00 86.14H385.00V92.52H384.00ZM385.00 86.68H387.00V98.51H385.00ZM387.00 84.55H388.00V98.07H387.00ZM388.00 83.72H390.00V94.63H388.00ZM390.00 83.99H391.00V94.63H390.00ZM391.00 87.09H393.00V99.94H391.00ZM393.00 85.24H394.00V99.18H393.00ZM394.00 86.40H396.00V100.41H394.00ZM396.00 86.77H397.00V98.91H396.00ZM397.00 84.52H398.00V97.84H397.00ZM398.00 84.74H400.00V97.05H398.00ZM400.00 85.11H401.00V96.72H400.00ZM401.00 86.73H403.00V95.92H401.00ZM403.00 87.18H404.00V95.96H403.00ZM404.00 87.38H406.00V98.29H404.00ZM406.00 84.63H407.00V98.92H406.00ZM407.00 85.14H409.00V97.93H407.00ZM409.00 85.73H410.00V97.49H409.00ZM412.00 86.83H413.00V98.28H412.00ZM413.00 86.35H415.00V98.53H413.00ZM415.00 86.31H416.00V104.25H415.00ZM416.00 86.66H418.00V94.38H416.00ZM418.00 85.95H419.00V93.62H418.00ZM419.00 86.88H420.30V94.05H419.00ZM424.20 92.03H426.00V113.29H424.20ZM426.00 92.51H427.00V113.25H426.00ZM427.00 85.16H429.00V99.60H427.00ZM429.00 85.22H430.60V99.97H429.00ZM432.70 84.45H434.00V99.78H432.70ZM434.00 86.05H436.00V100.08H434.00ZM436.00 85.16H437.00V95.93H436.00ZM437.00 85.68H438.00V96.13H437.00ZM438.00 84.14H440.00V96.90H438.00ZM440.00 85.01H441.00V96.84H440.00ZM441.00 84.02H443.00V101.48H441.00ZM443.00 84.96H444.00V99.47H443.00ZM444.00 86.73H446.00V98.28H444.00ZM446.00 86.87H447.00V98.29H446.00ZM447.00 87.83H449.00V97.34H447.00ZM449.00 87.93H450.00V93.97H449.00ZM450.00 84.90H452.00V93.85H450.00ZM452.00 85.91H453.00V96.18H452.00ZM453.00 86.12H454.00V91.32H453.00ZM454.00 85.61H456.00V92.47H454.00ZM456.00 85.77H457.00V100.51H456.00ZM457.00 86.26H459.00V100.48H457.00ZM459.00 85.35H460.00V90.95H459.00ZM460.00 85.80H462.00V90.30H460.00ZM462.00 84.21H463.00V100.09H462.00ZM463.00 84.91H465.00V114.61H463.00ZM465.00 84.42H466.00V115.07H465.00ZM466.00 86.31H467.00V96.79H466.00ZM467.00 86.70H469.00V96.05H467.00ZM469.00 86.22H470.30V100.92H469.00ZM473.80 94.56H475.00V111.98H473.80ZM475.00 94.56H477.00V113.38H475.00ZM477.00 95.64H478.00V113.00H477.00ZM478.00 83.47H480.00V95.06H478.00ZM480.00 84.15H481.00V95.16H480.00ZM481.00 84.85H482.00V99.58H481.00ZM482.00 84.90H483.80V99.14H482.00ZM485.90 84.41H487.00V99.63H485.90ZM487.00 83.70H489.00V99.76H487.00ZM489.00 83.40H490.00V100.95H489.00ZM490.00 83.90H492.00V94.18H490.00ZM492.00 84.35H493.00V93.97H492.00ZM493.00 87.30H495.00V102.29H493.00ZM495.00 88.74H496.00V102.95H495.00ZM496.00 89.37H498.00V97.90H496.00ZM498.00 87.58H499.00V97.23H498.00ZM499.00 87.24H501.00V93.79H499.00ZM501.00 86.58H502.00V93.94H501.00ZM502.00 84.42H503.00V95.59H502.00ZM503.00 85.34H505.00V95.44H503.00ZM505.00 86.08H506.00V94.86H505.00ZM506.00 87.60H508.00V94.52H506.00ZM508.00 87.34H509.00V100.97H508.00ZM509.00 87.82H511.00V101.44H509.00ZM511.00 87.41H512.00V93.09H511.00ZM512.00 86.69H514.00V92.60H512.00ZM514.00 85.18H515.00V102.27H514.00ZM515.00 85.24H517.00V103.53H515.00ZM517.00 87.08H518.00V97.93H517.00ZM518.00 85.84H519.60V97.29H518.00ZM523.10 84.68H525.00V107.79H523.10ZM525.00 83.69H526.00V109.24H525.00ZM526.00 84.43H528.00V109.23H526.00ZM528.00 83.55H529.00V92.59H528.00ZM529.00 84.06H530.00V93.74H529.00ZM530.00 89.18H532.00V92.48H530.00ZM532.00 88.26H533.00V91.40H532.00ZM533.00 88.79H535.00V96.64H533.00ZM535.00 87.89H536.00V96.32H535.00ZM536.00 86.14H538.00V104.34H536.00ZM538.00 84.85H539.00V103.71H538.00ZM539.00 84.55H541.00V103.99H539.00ZM541.00 85.61H542.00V98.86H541.00ZM542.00 86.36H544.00V99.69H542.00ZM544.00 85.97H545.00V90.24H544.00ZM545.00 87.97H547.00V90.49H545.00ZM547.00 86.08H548.00V94.22H547.00ZM548.00 87.27H550.00V94.96H548.00ZM550.00 85.19H551.00V107.74H550.00ZM551.00 84.37H553.00V107.63H551.00ZM553.00 84.54H554.00V107.27H553.00ZM554.00 84.27H556.00V101.15H554.00ZM556.00 84.34H557.00V101.21H556.00ZM557.00 85.24H559.00V97.00H557.00ZM559.00 86.22H560.00V98.33H559.00ZM560.00 85.32H562.00V90.87H560.00ZM562.00 85.32H563.00V91.44H562.00ZM566.50 83.54H568.00V95.39H566.50ZM568.00 83.40H569.00V95.45H568.00ZM569.00 83.14H571.00V94.32H569.00ZM571.00 84.32H572.00V94.16H571.00ZM572.00 84.94H574.00V93.17H572.00ZM574.00 84.74H575.00V92.17H574.00ZM575.00 85.72H577.00V91.35H575.00ZM577.00 84.49H578.00V95.89H577.00ZM578.00 84.86H580.00V95.54H578.00ZM580.00 86.02H581.00V96.75H580.00ZM581.00 86.22H583.00V98.04H581.00ZM583.00 86.20H584.00V97.81H583.00ZM584.00 85.86H586.00V96.82H584.00ZM586.00 85.93H587.00V100.35H586.00ZM587.00 87.25H589.00V100.76H587.00ZM589.00 85.99H590.00V93.61H589.00ZM590.00 84.32H592.00V93.21H590.00ZM592.00 84.64H593.00V99.17H592.00ZM593.00 84.97H595.00V98.58H593.00ZM595.00 83.76H596.00V94.62H595.00ZM596.00 84.58H598.00V95.00H596.00ZM598.00 85.11H599.00V99.78H598.00ZM599.00 86.91H601.00V93.69H599.00ZM601.00 85.90H602.00V96.27H601.00ZM602.00 85.21H604.00V95.53H602.00ZM604.00 87.11H605.00V101.88H604.00ZM605.00 89.21H606.00V101.77H605.00ZM606.00 87.93H608.00V91.46H606.00ZM608.00 89.21H609.00V92.04H608.00ZM609.00 88.83H611.00V98.70H609.00ZM611.00 89.01H612.40V98.57H611.00ZM614.20 84.10H616.00V97.61H614.20ZM616.00 84.44H617.00V97.01H616.00ZM617.00 84.40H619.00V97.50H617.00ZM619.00 84.92H620.00V96.37H619.00ZM620.00 84.90H622.00V95.98H620.00ZM622.00 83.51H623.00V90.10H622.00ZM623.00 86.13H625.00V91.35H623.00ZM625.00 86.33H626.00V95.51H625.00ZM626.00 87.03H628.00V95.38H626.00ZM628.00 86.50H629.00V95.04H628.00ZM629.00 87.00H630.70V94.92H629.00ZM634.10 85.12H636.00V99.10H634.10ZM636.00 85.12H637.00V98.76H636.00ZM641.00 86.60H643.00V92.51H641.00ZM643.00 85.84H644.00V92.59H643.00ZM644.00 83.70H646.00V86.61H644.00ZM647.00 85.44H648.00V89.68H647.00ZM648.00 85.51H649.70V89.80H648.00ZM650.80 84.69H652.00V90.66H650.80ZM652.00 86.18H653.90V91.09H652.00ZM655.20 83.81H657.00V99.60H655.20ZM657.00 85.34H658.00V98.89H657.00ZM658.00 85.38H659.00V99.58H658.00ZM659.00 87.52H661.00V100.53H659.00ZM661.00 87.98H662.10V92.59H661.00ZM666.50 84.51H668.30V87.36H666.50ZM35.90 144.82H37.00V149.83H35.90ZM37.90 143.80H39.00V158.42H37.90ZM39.00 144.38H41.00V158.84H39.00ZM41.00 144.14H42.30V157.17H41.00ZM43.90 145.76H45.00V156.53H43.90ZM45.00 144.81H47.00V155.61H45.00ZM47.00 146.38H48.00V164.94H47.00ZM48.00 147.64H50.00V164.01H48.00ZM50.00 147.47H51.00V161.28H50.00ZM51.00 147.65H53.00V160.10H51.00ZM53.00 150.03H54.00V155.99H53.00ZM54.00 148.03H56.00V156.10H54.00ZM56.00 147.96H57.00V162.29H56.00ZM57.00 147.91H59.00V161.57H57.00ZM59.00 147.43H60.00V160.90H59.00ZM60.00 146.74H62.00V166.21H60.00ZM62.00 146.29H63.00V165.41H62.00ZM63.00 147.03H65.00V155.64H63.00ZM65.00 147.66H66.00V156.14H65.00ZM66.00 147.97H68.00V161.28H66.00ZM68.00 149.23H69.00V161.28H68.00ZM69.00 146.81H71.00V147.41H69.00ZM71.00 146.72H72.00V147.32H71.00ZM72.00 150.54H74.00V162.54H72.00ZM74.00 150.16H75.00V162.61H74.00ZM75.00 149.71H76.00V163.89H75.00ZM76.00 152.62H78.00V154.44H76.00ZM78.00 152.68H79.00V155.09H78.00ZM79.00 152.02H81.00V157.10H79.00ZM81.00 150.30H82.00V157.59H81.00ZM82.00 152.11H84.00V153.83H82.00ZM84.00 149.93H85.00V153.98H84.00ZM85.00 150.67H87.00V163.95H85.00ZM87.00 150.65H88.00V164.25H87.00ZM88.00 149.81H90.00V165.68H88.00ZM90.00 153.32H91.00V165.64H90.00ZM91.00 152.63H93.00V153.23H91.00ZM93.00 153.25H94.00V156.96H93.00ZM94.00 154.32H96.00V158.49H94.00ZM96.00 153.20H97.00V163.67H96.00ZM97.00 155.21H99.00V163.90H97.00ZM99.00 154.96H100.00V163.16H99.00ZM100.00 154.22H102.00V163.74H100.00ZM102.00 152.30H103.00V154.30H102.00ZM103.00 152.34H105.00V153.83H103.00ZM105.00 152.29H106.00V161.80H105.00ZM106.00 154.30H108.00V162.90H106.00ZM108.00 153.11H109.10V168.52H108.00ZM112.20 144.10H114.00V154.96H112.20ZM114.00 143.80H115.00V153.66H114.00ZM115.00 146.42H116.00V162.63H115.00ZM116.00 152.69H118.00V167.94H116.00ZM118.00 153.04H119.00V166.79H118.00ZM119.00 143.96H121.00V152.64H119.00ZM121.00 143.50H122.00V159.84H121.00ZM122.00 144.36H124.00V159.58H122.00ZM124.00 147.23H125.00V165.53H124.00ZM125.00 144.62H127.00V163.30H125.00ZM127.00 144.89H128.00V163.33H127.00ZM128.00 145.04H129.40V155.81H128.00ZM131.10 144.71H133.00V157.26H131.10ZM133.00 143.50H134.00V157.50H133.00ZM134.00 147.09H136.00V159.91H134.00ZM136.00 147.87H137.00V157.36H136.00ZM137.00 144.92H139.00V158.48H137.00ZM139.00 146.59H140.00V153.61H139.00ZM140.00 144.50H142.00V159.35H140.00ZM142.00 145.36H143.00V159.78H142.00ZM143.00 143.70H145.00V160.30H143.00ZM145.00 144.10H146.00V145.36H145.00ZM147.80 143.50H149.00V164.69H147.80ZM149.00 144.10H151.00V164.20H149.00ZM151.00 144.02H152.20V164.56H151.00ZM153.80 143.50H155.00V144.81H153.80ZM155.00 144.10H157.00V144.92H155.00ZM157.00 147.75H158.00V150.19H157.00ZM158.00 147.51H160.00V149.61H158.00ZM160.00 145.18H162.00V168.95H160.00ZM162.00 146.51H163.00V168.38H162.00ZM163.00 147.39H164.60V160.59H163.00ZM166.20 144.65H168.00V161.00H166.20ZM168.00 145.04H169.00V159.87H168.00ZM169.00 147.19H171.00V164.58H169.00ZM171.00 148.27H172.00V166.34H171.00ZM172.00 144.97H173.00V165.23H172.00ZM173.00 146.41H174.90V155.40H173.00ZM178.20 144.46H180.00V156.52H178.20ZM180.00 144.53H181.00V156.96H180.00ZM181.00 143.80H183.00V161.78H181.00ZM183.00 143.91H184.00V161.46H183.00ZM184.00 146.72H185.00V160.10H184.00ZM185.00 146.93H187.00V161.10H185.00ZM187.00 146.51H188.00V165.98H187.00ZM188.00 146.02H190.00V166.70H188.00ZM190.00 146.13H191.00V165.46H190.00ZM191.00 146.27H193.00V160.26H191.00ZM193.00 145.54H194.00V160.87H193.00ZM194.00 144.62H195.00V161.24H194.00ZM195.00 144.12H197.00V147.55H195.00ZM197.00 145.07H198.00V147.12H197.00ZM198.00 144.60H200.00V164.27H198.00ZM200.00 144.42H201.00V165.33H200.00ZM201.00 144.10H203.00V160.12H201.00ZM203.00 145.22H204.00V164.05H203.00ZM204.00 143.80H206.00V162.79H204.00ZM206.00 147.02H207.00V157.71H206.00ZM207.00 147.19H208.00V157.51H207.00ZM208.00 146.43H209.90V154.26H208.00ZM211.50 144.06H213.00V163.73H211.50ZM213.00 143.86H214.00V162.88H213.00ZM214.00 144.09H216.00V144.97H214.00ZM216.00 148.60H217.00V161.65H216.00ZM217.00 148.57H219.00V161.77H217.00ZM219.00 147.83H220.20V162.69H219.00ZM221.90 145.72H223.00V157.61H221.90ZM223.00 144.48H225.00V157.12H223.00ZM225.00 143.88H226.00V155.21H225.00ZM226.00 148.85H228.00V159.16H226.00ZM228.00 148.88H229.00V159.57H228.00ZM229.00 147.06H230.00V164.78H229.00ZM230.00 147.07H232.00V157.35H230.00ZM232.00 148.00H233.00V156.57H232.00ZM233.00 146.73H234.70V155.28H233.00ZM236.40 143.80H238.00V162.83H236.40ZM238.00 145.03H240.00V163.24H238.00ZM240.00 144.22H241.00V166.02H240.00ZM241.00 143.74H243.00V162.02H241.00ZM246.90 144.88H248.00V166.29H246.90ZM248.00 144.52H250.00V166.85H248.00ZM250.00 143.50H251.00V162.80H250.00ZM253.10 143.50H255.00V166.53H253.10ZM255.00 144.61H256.00V165.25H255.00ZM256.00 144.48H257.00V161.22H256.00ZM257.00 149.17H259.00V165.42H257.00ZM259.00 148.38H260.00V165.20H259.00ZM260.00 146.18H262.00V162.34H260.00ZM262.00 145.86H263.00V157.00H262.00ZM263.00 145.83H265.00V156.86H263.00ZM265.00 146.55H266.00V150.94H265.00ZM266.00 145.63H267.60V149.32H266.00ZM269.20 144.10H271.00V152.19H269.20ZM271.00 144.08H272.00V153.47H271.00ZM272.00 149.17H274.00V161.68H272.00ZM274.00 148.65H275.80V161.99H274.00ZM277.90 144.50H279.00V158.66H277.90ZM279.00 143.50H281.00V158.47H279.00ZM281.00 155.49H282.00V168.08H281.00ZM282.00 144.61H284.00V145.21H282.00ZM284.00 143.61H285.00V144.21H284.00ZM285.00 146.47H287.00V157.99H285.00ZM287.00 147.60H288.20V156.42H287.00ZM289.90 145.74H292.00V162.70H289.90ZM292.00 145.03H293.00V162.87H292.00ZM293.00 144.63H294.70V162.54H293.00ZM296.20 143.80H298.00V164.86H296.20ZM298.00 143.82H299.00V164.52H298.00ZM299.00 147.43H301.00V164.18H299.00ZM301.00 147.70H302.00V163.63H301.00ZM302.00 150.72H304.00V163.96H302.00ZM304.00 150.10H305.00V159.51H304.00ZM305.00 146.46H307.00V156.31H305.00ZM307.00 144.43H308.00V156.74H307.00ZM308.00 146.47H310.00V170.15H308.00ZM310.00 147.63H311.00V164.71H310.00ZM314.90 144.30H316.00V165.80H314.90ZM316.00 144.79H317.60V165.43H316.00ZM321.10 157.73H323.00V167.61H321.10ZM323.00 158.53H324.00V168.13H323.00ZM324.00 145.78H326.00V167.72H324.00ZM326.00 145.74H327.00V167.81H326.00ZM327.00 143.71H329.00V151.04H327.00ZM329.00 144.54H330.00V149.98H329.00ZM330.00 145.03H332.00V150.69H330.00ZM332.00 144.75H333.50V155.31H332.00ZM335.10 143.50H337.00V164.29H335.10ZM337.00 145.18H338.00V164.06H337.00ZM338.00 145.04H340.00V165.64H338.00ZM341.80 144.10H343.00V154.38H341.80ZM343.00 143.50H345.00V154.00H343.00ZM345.00 144.32H346.00V164.66H345.00ZM346.00 147.36H348.00V163.89H346.00ZM348.00 148.44H349.00V160.07H348.00ZM349.00 148.28H351.00V156.08H349.00ZM351.00 154.45H352.00V155.87H351.00ZM352.00 154.84H354.00V164.08H352.00ZM354.00 156.08H355.00V163.54H354.00ZM355.00 145.43H357.00V163.05H355.00ZM357.00 145.17H358.00V159.29H357.00ZM358.00 144.86H360.00V158.46H358.00ZM360.00 147.04H361.00V168.75H360.00ZM361.00 147.87H363.00V168.65H361.00ZM363.00 146.34H364.00V158.52H363.00ZM364.00 149.37H366.00V153.75H364.00ZM366.00 150.46H367.00V153.03H366.00ZM367.00 149.95H368.60V160.42H367.00ZM372.20 144.96H374.00V161.49H372.20ZM374.00 144.71H374.80V161.71H374.00ZM378.50 143.52H380.00V165.46H378.50ZM380.00 143.50H381.00V165.37H380.00ZM381.00 143.50H383.00V150.74H381.00ZM383.00 147.48H384.00V151.51H383.00ZM384.00 147.82H386.00V152.54H384.00ZM386.00 147.98H387.00V155.64H386.00ZM387.00 148.23H389.00V148.83H387.00ZM389.00 148.95H390.00V149.55H389.00ZM390.00 153.02H392.00V166.51H390.00ZM392.00 146.32H393.00V155.72H392.00ZM393.00 146.52H394.00V155.46H393.00ZM394.00 145.79H395.90V166.59H394.00ZM397.30 143.55H399.00V165.73H397.30ZM399.00 143.52H400.00V165.43H399.00ZM400.00 150.24H402.00V161.98H400.00ZM402.00 148.13H403.00V148.73H402.00ZM403.00 147.90H405.00V148.68H403.00ZM405.00 148.17H406.00V154.36H405.00ZM406.00 158.31H408.00V164.06H406.00ZM408.00 160.02H409.00V163.37H408.00ZM409.00 152.25H410.00V154.40H409.00ZM410.00 151.51H412.00V157.08H410.00ZM412.00 152.90H413.00V155.65H412.00ZM413.00 152.41H415.00V156.28H413.00ZM415.00 153.13H416.00V158.31H415.00ZM416.00 151.38H418.00V158.90H416.00ZM418.00 152.98H419.00V168.89H418.00ZM419.00 153.11H420.70V161.55H419.00ZM424.20 145.33H426.00V163.91H424.20ZM426.00 145.07H426.90V162.78H426.00ZM430.20 143.50H432.00V161.34H430.20ZM432.00 144.62H433.00V161.05H432.00ZM433.00 144.89H435.00V152.66H433.00ZM435.00 143.93H436.00V152.95H435.00ZM436.00 143.62H438.00V146.66H436.00ZM438.00 144.58H439.00V145.28H438.00ZM439.00 147.84H441.00V152.01H439.00ZM441.00 147.36H442.00V160.57H441.00ZM442.00 147.70H444.00V154.09H442.00ZM444.00 146.02H445.00V156.72H444.00ZM445.00 146.95H447.00V157.09H445.00ZM447.00 144.60H448.00V151.82H447.00ZM448.00 144.96H450.00V160.54H448.00ZM450.00 146.45H451.00V153.52H450.00ZM451.00 145.73H452.00V153.52H451.00ZM452.00 145.39H454.00V156.64H452.00ZM454.00 144.51H455.00V162.25H454.00ZM455.00 148.84H457.00V163.41H455.00ZM457.00 147.46H458.00V154.85H457.00ZM458.00 148.42H460.00V154.42H458.00ZM460.00 147.20H461.00V158.50H460.00ZM461.00 148.49H463.00V162.05H461.00ZM463.00 145.84H464.00V152.02H463.00ZM464.00 146.95H466.00V151.91H464.00ZM466.00 146.96H467.00V154.83H466.00ZM467.00 146.60H469.00V164.75H467.00ZM469.00 145.12H470.30V151.83H469.00ZM473.80 144.67H475.00V166.69H473.80ZM475.00 144.65H476.50V166.94H475.00ZM480.00 144.81H481.00V158.67H480.00ZM481.00 144.44H483.00V157.68H481.00ZM483.00 144.23H484.00V164.96H483.00ZM484.00 146.05H486.00V149.52H484.00ZM486.00 146.42H487.00V150.93H486.00ZM487.00 147.09H489.00V151.62H487.00ZM489.00 144.59H490.00V160.49H489.00ZM490.00 145.54H492.00V159.72H490.00ZM492.00 145.01H493.00V164.08H492.00ZM498.60 144.10H500.00V164.29H498.60ZM500.00 143.50H502.00V164.89H500.00ZM502.00 147.83H503.00V148.76H502.00ZM504.80 154.78H506.00V166.62H504.80ZM506.00 155.34H508.00V156.19H506.00ZM508.00 149.26H509.00V161.33H508.00ZM509.00 147.79H511.00V157.74H509.00ZM511.00 144.46H512.00V156.34H511.00ZM512.00 145.38H514.00V164.57H512.00ZM514.00 146.57H515.00V162.44H514.00ZM515.00 147.90H517.00V157.30H515.00ZM517.00 144.50H518.00V156.93H517.00ZM518.00 144.90H519.60V164.15H518.00ZM523.10 145.61H524.00V165.35H523.10ZM524.00 145.11H525.80V165.64H524.00ZM527.20 143.50H529.00V163.12H527.20ZM529.00 144.13H530.00V163.41H529.00ZM530.00 147.66H532.00V164.75H530.00ZM535.80 144.10H537.00V153.80H535.80ZM537.00 143.81H539.00V153.27H537.00ZM539.00 144.10H540.00V155.78H539.00ZM540.00 147.82H542.00V165.82H540.00ZM542.00 147.99H543.00V165.91H542.00ZM543.00 149.02H545.00V163.66H543.00ZM545.00 154.99H546.00V157.27H545.00ZM546.00 154.61H547.00V156.97H546.00ZM547.00 146.11H549.00V157.07H547.00ZM549.00 145.55H550.00V146.77H549.00ZM550.00 144.50H552.00V146.68H550.00ZM552.00 147.28H553.00V162.63H552.00ZM553.00 146.89H554.80V161.74H553.00ZM556.20 144.10H558.00V152.36H556.20ZM558.00 144.41H560.00V152.84H558.00ZM560.00 146.74H561.30V169.78H560.00ZM566.80 152.86H568.00V163.20H566.80ZM568.00 152.73H570.00V163.17H568.00ZM570.00 149.26H571.00V158.21H570.00ZM571.00 149.68H573.00V158.31H571.00ZM573.00 149.30H574.00V157.22H573.00ZM574.00 150.82H576.00V157.95H574.00ZM576.00 150.62H577.00V157.79H576.00ZM577.00 147.31H579.00V160.30H577.00ZM579.00 145.73H580.00V161.37H579.00ZM580.00 146.34H581.00V161.64H580.00ZM581.00 149.05H583.00V157.56H581.00ZM583.00 150.37H584.00V164.21H583.00ZM584.00 150.45H586.00V164.55H584.00ZM586.00 146.69H587.00V155.10H586.00ZM587.00 146.90H589.00V151.24H587.00ZM589.00 146.61H590.00V151.19H589.00ZM590.00 148.24H591.70V162.71H590.00ZM592.90 149.05H594.00V157.35H592.90ZM594.00 148.72H596.00V157.24H594.00ZM596.00 148.64H597.00V163.29H596.00ZM597.00 149.25H599.00V163.58H597.00ZM599.00 151.24H600.00V159.53H599.00ZM600.00 151.09H602.00V161.06H600.00ZM602.00 150.86H603.00V160.97H602.00ZM603.00 150.93H605.00V163.27H603.00ZM605.00 150.83H606.00V163.24H605.00ZM606.00 151.10H608.00V161.59H606.00ZM608.00 149.27H609.00V164.28H608.00ZM609.00 149.07H610.00V164.18H609.00ZM610.00 148.89H612.00V162.26H610.00ZM612.00 149.20H613.00V162.06H612.00ZM613.00 148.87H615.00V163.24H613.00ZM615.00 153.98H616.00V157.39H615.00ZM616.00 154.30H618.00V174.04H616.00ZM618.00 154.35H619.00V161.27H618.00ZM619.00 148.99H621.00V161.40H619.00ZM621.00 148.85H622.00V163.39H621.00ZM622.00 148.64H624.00V162.19H622.00ZM624.00 157.39H625.00V162.17H624.00ZM625.00 157.82H627.00V159.71H625.00ZM627.00 157.83H628.00V159.67H627.00ZM628.00 148.77H630.00V161.13H628.00ZM630.00 149.01H631.00V156.17H630.00ZM631.00 148.76H632.00V156.09H631.00ZM632.00 149.25H634.00V155.50H632.00ZM634.00 152.49H635.00V155.46H634.00ZM635.00 152.47H637.00V164.11H635.00ZM637.00 152.70H638.00V158.12H637.00ZM638.00 147.67H640.00V158.10H638.00ZM640.00 155.94H641.00V161.74H640.00ZM641.00 155.93H643.00V161.44H641.00ZM643.00 153.73H644.00V154.33H643.00ZM644.00 156.51H646.00V162.56H644.00ZM646.00 158.66H647.00V162.92H646.00ZM647.00 158.60H649.00V161.74H647.00ZM649.00 158.67H650.00V161.78H649.00ZM650.00 151.38H652.00V157.41H650.00ZM652.00 151.24H653.00V164.16H652.00ZM653.00 150.94H654.00V164.31H653.00ZM654.00 151.28H655.90V160.25H654.00ZM659.60 149.78H661.00V158.07H659.60ZM661.00 149.58H662.00V158.56H661.00ZM662.00 149.50H664.00V156.18H662.00ZM664.00 150.14H665.00V156.43H664.00ZM665.00 150.40H666.30V159.22H665.00Z"/>
<path fill="#D2B42E" d="M36.00 32.31H38.20V33.54H36.00ZM39.60 34.92H41.70V36.15H39.60ZM41.70 34.92H44.50V36.15H41.70ZM44.50 40.67H47.30V41.89H44.50ZM47.30 27.62H48.70V28.84H47.30ZM54.30 39.62H57.10V40.85H54.30ZM60.60 29.70H63.40V30.93H60.60ZM63.40 37.01H66.90V38.24H63.40ZM66.90 35.97H69.70V37.19H66.90ZM71.10 38.58H73.90V39.80H71.10ZM75.00 33.88H77.40V35.11H75.00ZM77.40 42.75H79.50V43.98H77.40ZM79.50 27.09H82.30V28.32H79.50ZM82.30 28.14H84.00V29.36H82.30ZM99.80 47.97H104.70V49.20H99.80ZM106.10 29.18H109.20V30.41H106.10ZM112.40 37.01H115.00V38.24H112.40ZM126.90 33.88H129.70V35.11H126.90ZM133.20 44.32H135.70V45.55H133.20ZM135.70 37.01H137.80V38.24H135.70ZM137.80 28.14H139.90V29.36H137.80ZM141.30 35.97H144.10V37.19H141.30ZM166.10 47.97H168.90V49.20H166.10ZM172.40 43.28H175.20V44.50H172.40ZM178.90 43.80H181.60V45.02H178.90ZM197.00 28.66H199.80V29.89H197.00ZM211.70 39.10H214.10V40.33H211.70ZM236.20 39.10H239.00V40.33H236.20ZM263.30 37.53H266.10V38.76H263.30ZM269.20 44.32H272.00V45.55H269.20ZM275.50 33.88H278.00V35.11H275.50ZM279.70 37.53H282.20V38.76H279.70ZM288.10 35.97H290.90V37.19H288.10ZM302.10 26.05H305.20V27.28H302.10ZM335.10 42.75H337.90V43.98H335.10ZM343.50 34.92H346.00V36.15H343.50ZM362.10 29.70H364.90V30.93H362.10ZM373.20 39.10H375.00V40.33H373.20ZM387.00 38.58H389.80V39.80H387.00ZM393.30 38.06H395.70V39.28H393.30ZM395.70 32.84H397.90V34.06H395.70ZM399.30 33.88H402.10V35.11H399.30ZM411.90 26.05H414.70V27.28H411.90ZM444.70 41.19H447.20V42.41H444.70ZM447.20 27.09H449.60V28.32H447.20ZM451.00 37.53H453.80V38.76H451.00ZM485.80 37.53H488.60V38.76H485.80ZM490.00 38.06H492.50V39.28H490.00ZM492.50 25.53H494.50V26.75H492.50ZM494.50 28.66H497.30V29.89H494.50ZM498.40 31.27H501.20V32.50H498.40ZM510.70 30.23H513.50V31.45H510.70ZM523.30 37.53H526.10V38.76H523.30ZM555.90 38.06H561.10V39.28H555.90ZM37.90 92.14H39.00V93.74H37.90ZM39.00 90.70H40.20V92.30H39.00ZM43.90 103.94H45.00V105.54H43.90ZM45.00 103.04H47.00V104.64H45.00ZM47.00 92.35H48.50V93.95H47.00ZM50.30 100.67H52.00V104.30H50.30ZM52.00 101.96H53.00V103.56H52.00ZM53.00 114.27H55.00V115.87H53.00ZM56.50 100.30H58.00V101.90H56.50ZM58.00 91.96H60.00V93.56H58.00ZM60.00 101.42H61.00V103.02H60.00ZM61.00 97.92H62.90V103.34H61.00ZM65.00 98.08H66.00V99.68H65.00ZM66.00 98.40H68.00V100.00H66.00ZM68.00 92.39H69.00V93.99H68.00ZM69.00 98.24H71.00V99.84H69.00ZM71.00 97.96H72.00V99.56H71.00ZM72.00 109.32H73.30V110.92H72.00ZM81.10 95.88H83.00V97.48H81.10ZM83.00 95.44H84.00V97.04H83.00ZM84.00 100.50H85.70V102.10H84.00ZM87.70 96.94H89.00V98.54H87.70ZM89.00 95.29H91.00V96.89H89.00ZM91.00 93.90H92.00V95.50H91.00ZM92.00 94.98H94.00V96.58H92.00ZM94.00 99.03H95.00V100.63H94.00ZM95.00 97.57H96.00V99.17H95.00ZM96.00 91.53H98.00V93.13H96.00ZM98.00 91.07H99.00V92.67H98.00ZM99.00 89.92H100.80V91.52H99.00ZM104.00 104.68H105.00V106.28H104.00ZM105.00 104.94H106.80V106.54H105.00ZM112.60 92.61H114.00V94.21H112.60ZM114.00 92.09H115.00V93.69H114.00ZM115.00 93.79H117.00V95.39H115.00ZM117.00 97.52H118.00V99.12H117.00ZM118.00 100.48H120.00V102.08H118.00ZM120.00 103.19H120.90V104.79H120.00ZM122.80 93.58H124.00V95.18H122.80ZM124.00 94.13H126.00V95.73H124.00ZM126.00 95.18H127.00V96.78H126.00ZM127.00 94.63H129.00V96.23H127.00ZM129.00 95.16H130.00V96.76H129.00ZM130.00 93.04H132.00V94.64H130.00ZM132.00 100.33H133.00V101.93H132.00ZM133.00 96.74H135.00V98.34H133.00ZM135.00 96.89H136.00V98.49H135.00ZM136.00 97.58H138.00V99.18H136.00ZM138.00 93.51H139.00V95.11H138.00ZM139.00 93.33H141.00V94.93H139.00ZM141.00 97.66H142.00V99.26H141.00ZM142.00 100.29H144.00V101.89H142.00ZM144.00 94.38H145.00V95.98H144.00ZM145.00 93.94H147.00V95.54H145.00ZM147.00 96.35H148.00V97.95H147.00ZM148.00 97.98H150.00V99.58H148.00ZM150.00 98.69H151.00V100.29H150.00ZM151.00 99.70H153.00V101.30H151.00ZM153.00 100.82H154.00V102.42H153.00ZM154.00 97.34H156.00V98.94H154.00ZM156.00 97.24H157.00V98.84H156.00ZM157.00 96.21H159.00V97.81H157.00ZM159.00 92.84H160.00V94.44H159.00ZM160.00 93.01H162.00V94.61H160.00ZM162.00 94.67H163.00V96.27H162.00ZM163.00 95.04H164.00V96.64H163.00ZM164.00 112.20H166.00V113.80H164.00ZM166.00 110.99H167.00V112.59H166.00ZM167.00 96.83H169.00V98.43H167.00ZM169.00 99.05H170.00V100.65H169.00ZM170.00 97.64H172.00V99.24H170.00ZM172.00 99.18H173.00V100.78H172.00ZM173.00 104.37H174.90V105.97H173.00ZM179.20 107.06H181.00V108.66H179.20ZM181.00 107.24H182.00V108.84H181.00ZM182.00 94.12H184.00V95.72H182.00ZM184.00 98.99H185.00V100.59H184.00ZM185.00 99.61H186.00V101.21H185.00ZM186.00 97.29H188.00V98.89H186.00ZM188.00 98.89H189.00V100.49H188.00ZM189.00 97.42H191.00V99.02H189.00ZM191.00 97.71H192.00V99.31H191.00ZM192.00 99.10H194.00V100.70H192.00ZM194.00 97.49H195.20V99.09H194.00ZM197.10 90.76H199.00V92.36H197.10ZM199.00 91.52H200.00V93.12H199.00ZM200.00 105.78H202.00V107.38H200.00ZM202.00 106.13H203.00V107.73H202.00ZM203.00 99.75H205.00V101.35H203.00ZM205.00 100.35H206.00V101.95H205.00ZM206.00 99.94H207.00V101.54H206.00ZM207.00 99.54H209.00V101.14H207.00ZM209.00 97.68H210.00V99.28H209.00ZM210.00 97.50H212.00V99.10H210.00ZM212.00 99.16H213.00V100.76H212.00ZM213.00 98.44H215.00V100.04H213.00ZM215.00 99.77H216.00V101.37H215.00ZM216.00 99.72H218.00V101.32H216.00ZM218.00 98.93H219.00V100.53H218.00ZM219.00 97.93H221.00V99.53H219.00ZM221.00 96.84H222.00V98.44H221.00ZM222.00 96.82H224.00V98.42H222.00ZM224.00 99.85H225.00V101.45H224.00ZM225.00 99.59H227.00V101.19H225.00ZM227.00 92.79H228.00V94.39H227.00ZM228.00 93.40H230.00V95.00H228.00ZM230.00 90.72H231.00V92.32H230.00ZM231.00 90.59H233.00V92.19H231.00ZM233.00 92.60H234.00V94.20H233.00ZM234.00 92.66H236.00V94.26H234.00ZM236.00 91.87H237.00V93.47H236.00ZM237.00 92.13H239.00V93.73H237.00ZM239.00 96.33H240.00V97.93H239.00ZM240.00 96.45H242.00V98.05H240.00ZM242.00 105.82H243.00V107.42H242.00ZM246.90 101.87H248.00V103.47H246.90ZM248.00 102.27H250.00V103.87H248.00ZM250.00 91.10H252.00V92.70H250.00ZM252.00 95.27H253.10V96.87H252.00ZM254.90 103.62H256.00V105.22H254.90ZM256.00 103.83H258.00V105.43H256.00ZM258.00 101.83H259.00V103.43H258.00ZM259.00 91.03H261.00V92.63H259.00ZM261.00 96.54H262.00V98.14H261.00ZM262.00 93.36H264.00V94.96H262.00ZM264.00 94.00H265.50V95.60H264.00ZM267.20 103.92H268.00V105.52H267.20ZM268.00 103.44H269.60V105.04H268.00ZM271.40 96.79H273.00V98.39H271.40ZM273.00 97.14H274.00V98.74H273.00ZM274.00 97.10H276.00V98.70H274.00ZM276.00 105.79H277.00V107.39H276.00ZM277.00 106.00H279.00V107.60H277.00ZM279.00 107.45H280.00V109.05H279.00ZM280.00 107.98H282.00V109.58H280.00ZM282.00 92.04H283.00V93.64H282.00ZM283.00 92.99H285.00V94.59H283.00ZM285.00 97.95H286.00V99.55H285.00ZM286.00 97.91H288.00V99.51H286.00ZM288.00 97.53H289.00V99.13H288.00ZM289.00 99.76H290.00V101.36H289.00ZM290.00 99.25H292.00V100.85H290.00ZM292.00 90.97H293.00V92.57H292.00ZM293.00 91.49H295.00V93.09H293.00ZM295.00 101.16H296.00V102.76H295.00ZM296.00 100.20H298.00V101.80H296.00ZM298.00 96.10H299.00V97.70H298.00ZM299.00 95.42H301.00V97.02H299.00ZM301.00 96.15H302.00V97.75H301.00ZM302.00 92.26H304.00V93.86H302.00ZM304.00 92.03H305.00V93.63H304.00ZM305.00 98.85H307.00V100.45H305.00ZM307.00 100.45H308.00V102.05H307.00ZM308.00 97.52H310.00V99.12H308.00ZM310.00 98.06H311.00V99.66H310.00ZM315.20 97.61H317.00V99.21H315.20ZM317.00 97.88H318.00V99.48H317.00ZM318.00 93.77H320.00V95.37H318.00ZM320.00 99.82H321.00V101.42H320.00ZM321.00 99.35H322.00V100.95H321.00ZM322.00 94.92H323.80V96.52H322.00ZM325.20 93.04H327.00V94.64H325.20ZM327.00 92.60H328.00V94.20H327.00ZM328.00 96.34H330.00V97.94H328.00ZM330.00 96.16H331.00V97.76H330.00ZM331.00 102.64H333.00V104.24H331.00ZM333.00 101.83H334.00V103.43H333.00ZM334.00 91.52H336.00V93.12H334.00ZM336.00 91.94H337.00V93.54H336.00ZM337.00 97.61H339.00V99.21H337.00ZM339.00 99.05H340.00V100.65H339.00ZM340.00 92.88H341.80V94.48H340.00ZM343.60 93.77H345.00V95.37H343.60ZM345.00 93.40H347.00V95.00H345.00ZM347.00 96.20H348.00V97.80H347.00ZM348.00 94.82H350.00V96.42H348.00ZM350.00 93.29H351.00V94.89H350.00ZM351.00 93.16H353.00V94.76H351.00ZM353.00 100.35H354.00V101.95H353.00ZM354.00 101.04H356.00V102.64H354.00ZM356.00 101.24H357.00V102.84H356.00ZM357.00 101.22H359.00V102.82H357.00ZM362.00 97.12H363.00V98.72H362.00ZM363.00 96.19H365.00V97.79H363.00ZM365.00 101.37H366.00V102.97H365.00ZM366.00 101.40H368.00V103.00H366.00ZM368.00 98.24H369.00V99.84H368.00ZM372.50 98.49H374.00V100.09H372.50ZM374.00 98.19H375.00V99.79H374.00ZM375.00 99.76H377.00V101.36H375.00ZM377.00 96.04H378.00V97.64H377.00ZM378.00 95.52H380.00V97.12H378.00ZM380.00 98.59H381.00V100.19H380.00ZM381.00 99.51H383.00V101.11H381.00ZM383.00 92.43H384.00V94.03H383.00ZM384.00 91.92H385.00V93.52H384.00ZM385.00 97.91H387.00V99.51H385.00ZM387.00 97.47H388.00V99.07H387.00ZM388.00 94.03H390.00V95.63H388.00ZM390.00 94.03H391.00V95.63H390.00ZM391.00 99.34H393.00V100.94H391.00ZM393.00 98.58H394.00V100.18H393.00ZM394.00 99.81H396.00V101.41H394.00ZM396.00 98.31H397.00V99.91H396.00ZM397.00 97.24H398.00V98.84H397.00ZM398.00 96.45H400.00V98.05H398.00ZM400.00 96.12H401.00V97.72H400.00ZM401.00 95.32H403.00V96.92H401.00ZM403.00 95.36H404.00V96.96H403.00ZM404.00 97.69H406.00V99.29H404.00ZM406.00 98.32H407.00V99.92H406.00ZM407.00 97.33H409.00V98.93H407.00ZM409.00 96.89H410.00V98.49H409.00ZM412.00 97.68H413.00V99.28H412.00ZM413.00 97.93H415.00V99.53H413.00ZM415.00 103.65H416.00V105.25H415.00ZM416.00 93.78H418.00V108.16H416.00ZM418.00 93.02H419.00V94.62H418.00ZM419.00 93.45H420.30V95.05H419.00ZM424.20 112.69H426.00V114.29H424.20ZM426.00 112.65H427.00V114.25H426.00ZM427.00 99.00H429.00V100.60H427.00ZM429.00 99.37H430.60V100.97H429.00ZM432.70 99.18H434.00V100.78H432.70ZM434.00 99.48H436.00V101.08H434.00ZM436.00 95.33H437.00V96.93H436.00ZM437.00 95.53H438.00V97.13H437.00ZM438.00 96.30H440.00V97.90H438.00ZM440.00 96.24H441.00V97.84H440.00ZM441.00 100.88H443.00V102.48H441.00ZM443.00 98.87H444.00V100.47H443.00ZM444.00 97.68H446.00V99.28H444.00ZM446.00 97.69H447.00V99.29H446.00ZM447.00 96.74H449.00V98.34H447.00ZM449.00 93.37H450.00V94.97H449.00ZM450.00 93.25H452.00V94.85H450.00ZM452.00 95.58H453.00V97.18H452.00ZM453.00 90.72H454.00V92.32H453.00ZM454.00 91.87H456.00V93.47H454.00ZM456.00 99.91H457.00V101.51H456.00ZM457.00 99.88H459.00V101.48H457.00ZM459.00 90.35H460.00V91.95H459.00ZM460.00 89.70H462.00V91.30H460.00ZM462.00 99.49H463.00V101.09H462.00ZM463.00 114.01H465.00V115.61H463.00ZM465.00 114.47H466.00V116.07H465.00ZM466.00 96.19H467.00V97.79H466.00ZM467.00 95.45H469.00V97.05H467.00ZM469.00 100.32H470.30V101.92H469.00ZM473.80 111.38H475.00V112.98H473.80ZM475.00 112.78H477.00V114.38H475.00ZM477.00 112.40H478.00V114.00H477.00ZM478.00 94.46H480.00V96.06H478.00ZM480.00 94.56H481.00V96.16H480.00ZM481.00 98.98H482.00V100.58H481.00ZM482.00 98.54H483.80V100.14H482.00ZM485.90 99.03H487.00V100.63H485.90ZM487.00 99.16H489.00V100.76H487.00ZM489.00 100.35H490.00V101.95H489.00ZM490.00 93.58H492.00V95.18H490.00ZM492.00 93.37H493.00V94.97H492.00ZM493.00 101.69H495.00V103.29H493.00ZM495.00 102.35H496.00V103.95H495.00ZM496.00 97.30H498.00V98.90H496.00ZM498.00 96.63H499.00V98.23H498.00ZM499.00 93.19H501.00V94.79H499.00ZM501.00 93.34H502.00V94.94H501.00ZM502.00 94.99H503.00V96.59H502.00ZM503.00 94.84H505.00V96.44H503.00ZM505.00 94.26H506.00V95.86H505.00ZM506.00 93.92H508.00V95.52H506.00ZM508.00 100.37H509.00V101.97H508.00ZM509.00 100.84H511.00V102.44H509.00ZM511.00 92.49H512.00V94.09H511.00ZM512.00 92.00H514.00V93.60H512.00ZM514.00 101.67H515.00V103.27H514.00ZM515.00 102.93H517.00V104.53H515.00ZM517.00 97.33H518.00V98.93H517.00ZM518.00 96.69H519.60V98.29H518.00ZM523.10 107.19H525.00V108.79H523.10ZM525.00 108.64H526.00V110.24H525.00ZM526.00 108.63H528.00V110.23H526.00ZM528.00 91.99H529.00V93.59H528.00ZM529.00 93.14H530.00V94.74H529.00ZM530.00 91.88H532.00V93.48H530.00ZM532.00 90.80H533.00V92.40H532.00ZM533.00 96.04H535.00V97.64H533.00ZM535.00 95.72H536.00V97.32H535.00ZM536.00 103.74H538.00V105.34H536.00ZM538.00 103.11H539.00V104.71H538.00ZM539.00 103.39H541.00V104.99H539.00ZM541.00 98.26H542.00V99.86H541.00ZM542.00 99.09H544.00V100.69H542.00ZM544.00 89.64H545.00V91.24H544.00ZM545.00 89.89H547.00V91.49H545.00ZM547.00 93.62H548.00V95.22H547.00ZM548.00 94.36H550.00V95.96H548.00ZM550.00 107.14H551.00V108.74H550.00ZM551.00 107.03H553.00V108.63H551.00ZM553.00 106.67H554.00V108.27H553.00ZM554.00 100.55H556.00V102.15H554.00ZM556.00 100.61H557.00V102.21H556.00ZM557.00 96.40H559.00V98.00H557.00ZM559.00 97.73H560.00V99.33H559.00ZM560.00 90.27H562.00V91.87H560.00ZM562.00 90.84H563.00V92.44H562.00ZM566.50 94.79H568.00V96.39H566.50ZM568.00 94.85H569.00V96.45H568.00ZM569.00 93.72H571.00V95.32H569.00ZM571.00 93.56H572.00V95.16H571.00ZM572.00 92.57H574.00V94.17H572.00ZM574.00 91.57H575.00V93.17H574.00ZM575.00 90.75H577.00V92.35H575.00ZM577.00 95.29H578.00V96.89H577.00ZM578.00 94.94H580.00V96.54H578.00ZM580.00 96.15H581.00V97.75H580.00ZM581.00 97.44H583.00V99.04H581.00ZM583.00 97.21H584.00V98.81H583.00ZM584.00 96.22H586.00V97.82H584.00ZM586.00 99.75H587.00V101.35H586.00ZM587.00 100.16H589.00V101.76H587.00ZM589.00 93.01H590.00V94.61H589.00ZM590.00 92.61H592.00V94.21H590.00ZM592.00 98.57H593.00V100.17H592.00ZM593.00 97.98H595.00V99.58H593.00ZM595.00 94.02H596.00V95.62H595.00ZM596.00 94.40H598.00V96.00H596.00ZM598.00 99.18H599.00V100.78H598.00ZM599.00 93.09H601.00V101.27H599.00ZM601.00 95.67H602.00V97.27H601.00ZM602.00 94.93H604.00V96.53H602.00ZM604.00 101.28H605.00V102.88H604.00ZM605.00 101.17H606.00V102.77H605.00ZM606.00 90.86H608.00V92.46H606.00ZM608.00 91.44H609.00V93.04H608.00ZM609.00 98.10H611.00V99.70H609.00ZM611.00 97.97H612.40V99.57H611.00ZM614.20 97.01H616.00V98.61H614.20ZM616.00 96.41H617.00V98.01H616.00ZM617.00 96.90H619.00V98.50H617.00ZM619.00 95.77H620.00V97.37H619.00ZM620.00 95.38H622.00V96.98H620.00ZM622.00 89.50H623.00V91.10H622.00ZM623.00 90.75H625.00V92.35H623.00ZM625.00 94.91H626.00V96.51H625.00ZM626.00 94.78H628.00V96.38H626.00ZM628.00 94.44H629.00V96.04H628.00ZM629.00 94.32H630.70V95.92H629.00ZM634.10 98.50H636.00V100.10H634.10ZM636.00 98.16H637.00V99.76H636.00ZM641.00 91.91H643.00V93.51H641.00ZM643.00 91.99H644.00V93.59H643.00ZM644.00 86.01H646.00V87.61H644.00ZM647.00 89.08H648.00V90.68H647.00ZM648.00 89.20H649.70V90.80H648.00ZM650.80 90.06H652.00V91.66H650.80ZM652.00 90.49H653.90V92.09H652.00ZM655.20 99.00H657.00V100.60H655.20ZM657.00 98.29H658.00V99.89H657.00ZM658.00 98.98H659.00V100.58H658.00ZM659.00 99.93H661.00V101.53H659.00ZM661.00 91.99H662.10V93.59H661.00ZM666.50 86.76H668.30V88.36H666.50ZM35.90 149.23H37.00V150.58H35.90ZM37.90 157.82H39.00V159.17H37.90ZM39.00 158.24H41.00V159.59H39.00ZM41.00 156.57H42.30V157.92H41.00ZM43.90 155.93H45.00V157.28H43.90ZM45.00 155.01H47.00V156.36H45.00ZM47.00 164.34H48.00V165.69H47.00ZM48.00 163.41H50.00V164.76H48.00ZM50.00 160.68H51.00V162.03H50.00ZM51.00 159.50H53.00V160.85H51.00ZM53.00 155.39H54.00V156.74H53.00ZM54.00 155.50H56.00V156.85H54.00ZM56.00 161.69H57.00V163.04H56.00ZM57.00 160.97H59.00V162.32H57.00ZM59.00 160.30H60.00V161.65H59.00ZM60.00 165.61H62.00V166.96H60.00ZM62.00 164.81H63.00V166.16H62.00ZM63.00 155.04H65.00V156.39H63.00ZM65.00 155.54H66.00V156.89H65.00ZM66.00 160.68H68.00V162.03H66.00ZM68.00 160.68H69.00V162.03H68.00ZM69.00 146.81H71.00V147.41H69.00ZM71.00 146.72H72.00V147.32H71.00ZM72.00 161.94H74.00V163.29H72.00ZM74.00 162.01H75.00V163.36H74.00ZM75.00 163.29H76.00V164.64H75.00ZM76.00 153.84H78.00V155.19H76.00ZM78.00 154.49H79.00V155.84H78.00ZM79.00 156.50H81.00V157.85H79.00ZM81.00 156.99H82.00V158.34H81.00ZM82.00 153.23H84.00V154.58H82.00ZM84.00 153.38H85.00V154.73H84.00ZM85.00 163.35H87.00V164.70H85.00ZM87.00 163.65H88.00V165.00H87.00ZM88.00 165.08H90.00V166.43H88.00ZM90.00 165.04H91.00V166.39H90.00ZM91.00 152.63H93.00V153.23H91.00ZM93.00 156.36H94.00V157.71H93.00ZM94.00 157.89H96.00V159.24H94.00ZM96.00 163.07H97.00V164.42H96.00ZM97.00 163.30H99.00V164.65H97.00ZM99.00 162.56H100.00V163.91H99.00ZM100.00 163.14H102.00V164.49H100.00ZM102.00 153.70H103.00V155.05H102.00ZM103.00 153.23H105.00V154.58H103.00ZM105.00 161.20H106.00V162.55H105.00ZM106.00 162.30H108.00V163.65H106.00ZM108.00 167.92H109.10V169.27H108.00ZM112.20 154.36H114.00V155.71H112.20ZM114.00 153.06H115.00V154.41H114.00ZM115.00 162.03H116.00V163.38H115.00ZM116.00 167.34H118.00V168.69H116.00ZM118.00 166.19H119.00V167.54H118.00ZM119.00 152.04H121.00V153.39H119.00ZM121.00 159.24H122.00V160.59H121.00ZM122.00 158.98H124.00V160.33H122.00ZM124.00 164.93H125.00V166.28H124.00ZM125.00 162.70H127.00V164.05H125.00ZM127.00 162.73H128.00V164.08H127.00ZM128.00 155.21H129.40V156.56H128.00ZM131.10 156.66H133.00V158.01H131.10ZM133.00 156.90H134.00V158.25H133.00ZM134.00 159.31H136.00V160.66H134.00ZM136.00 156.76H137.00V158.11H136.00ZM137.00 157.88H139.00V159.23H137.00ZM139.00 153.01H140.00V154.36H139.00ZM140.00 158.75H142.00V160.10H140.00ZM142.00 159.18H143.00V160.53H142.00ZM143.00 159.70H145.00V161.05H143.00ZM145.00 144.76H146.00V146.11H145.00ZM147.80 164.09H149.00V165.44H147.80ZM149.00 163.60H151.00V164.95H149.00ZM151.00 163.96H152.20V165.31H151.00ZM153.80 144.21H155.00V145.56H153.80ZM155.00 144.32H157.00V145.67H155.00ZM157.00 149.59H158.00V150.94H157.00ZM158.00 149.01H160.00V150.36H158.00ZM160.00 168.35H162.00V169.70H160.00ZM162.00 167.78H163.00V169.13H162.00ZM163.00 159.99H164.60V161.34H163.00ZM166.20 160.40H168.00V161.75H166.20ZM168.00 159.27H169.00V160.62H168.00ZM169.00 163.98H171.00V165.33H169.00ZM171.00 165.74H172.00V167.09H171.00ZM172.00 164.63H173.00V165.98H172.00ZM173.00 154.80H174.90V156.15H173.00ZM178.20 155.92H180.00V157.27H178.20ZM180.00 156.36H181.00V157.71H180.00ZM181.00 161.18H183.00V162.53H181.00ZM183.00 160.86H184.00V162.21H183.00ZM184.00 159.50H185.00V160.85H184.00ZM185.00 160.50H187.00V161.85H185.00ZM187.00 165.38H188.00V166.73H187.00ZM188.00 166.10H190.00V167.45H188.00ZM190.00 164.86H191.00V166.21H190.00ZM191.00 159.66H193.00V161.01H191.00ZM193.00 160.27H194.00V161.62H193.00ZM194.00 160.64H195.00V161.99H194.00ZM195.00 146.95H197.00V148.30H195.00ZM197.00 146.52H198.00V147.87H197.00ZM198.00 163.67H200.00V165.02H198.00ZM200.00 164.73H201.00V166.08H200.00ZM201.00 159.52H203.00V160.87H201.00ZM203.00 163.45H204.00V164.80H203.00ZM204.00 162.19H206.00V163.54H204.00ZM206.00 157.11H207.00V158.46H206.00ZM207.00 156.91H208.00V158.26H207.00ZM208.00 153.66H209.90V155.01H208.00ZM211.50 163.13H213.00V164.48H211.50ZM213.00 162.28H214.00V163.63H213.00ZM214.00 144.37H216.00V145.72H214.00ZM216.00 161.05H217.00V162.40H216.00ZM217.00 161.17H219.00V162.52H217.00ZM219.00 162.09H220.20V163.44H219.00ZM221.90 157.01H223.00V158.36H221.90ZM223.00 156.52H225.00V157.87H223.00ZM225.00 154.61H226.00V155.96H225.00ZM226.00 158.56H228.00V159.91H226.00ZM228.00 158.97H229.00V160.32H228.00ZM229.00 164.18H230.00V165.53H229.00ZM230.00 156.75H232.00V158.10H230.00ZM232.00 155.97H233.00V157.32H232.00ZM233.00 154.68H234.70V156.03H233.00ZM236.40 162.23H238.00V163.58H236.40ZM238.00 162.64H240.00V163.99H238.00ZM240.00 165.42H241.00V166.77H240.00ZM241.00 161.42H243.00V162.77H241.00ZM246.90 165.69H248.00V167.04H246.90ZM248.00 166.25H250.00V167.60H248.00ZM250.00 162.20H251.00V163.55H250.00ZM253.10 165.93H255.00V167.28H253.10ZM255.00 164.65H256.00V166.00H255.00ZM256.00 160.62H257.00V161.97H256.00ZM257.00 164.82H259.00V166.17H257.00ZM259.00 164.60H260.00V165.95H259.00ZM260.00 161.74H262.00V163.09H260.00ZM262.00 156.40H263.00V157.75H262.00ZM263.00 156.26H265.00V157.61H263.00ZM265.00 150.34H266.00V151.69H265.00ZM266.00 148.72H267.60V150.07H266.00ZM269.20 151.59H271.00V152.94H269.20ZM271.00 152.87H272.00V154.22H271.00ZM272.00 161.08H274.00V162.43H272.00ZM274.00 161.39H275.80V162.74H274.00ZM277.90 158.06H279.00V159.41H277.90ZM279.00 157.87H281.00V159.22H279.00ZM281.00 167.48H282.00V168.83H281.00ZM282.00 144.61H284.00V145.21H282.00ZM284.00 143.61H285.00V144.21H284.00ZM285.00 157.39H287.00V158.74H285.00ZM287.00 155.82H288.20V157.17H287.00ZM289.90 162.10H292.00V163.45H289.90ZM292.00 162.27H293.00V163.62H292.00ZM293.00 161.94H294.70V163.29H293.00ZM296.20 164.26H298.00V165.61H296.20ZM298.00 163.92H299.00V165.27H298.00ZM299.00 163.58H301.00V164.93H299.00ZM301.00 163.03H302.00V164.38H301.00ZM302.00 163.36H304.00V164.71H302.00ZM304.00 158.91H305.00V160.26H304.00ZM305.00 155.71H307.00V157.06H305.00ZM307.00 156.14H308.00V157.49H307.00ZM308.00 169.55H310.00V170.90H308.00ZM310.00 164.11H311.00V165.46H310.00ZM314.90 165.20H316.00V166.55H314.90ZM316.00 164.83H317.60V166.18H316.00ZM321.10 167.01H323.00V168.36H321.10ZM323.00 167.53H324.00V168.88H323.00ZM324.00 167.12H326.00V168.47H324.00ZM326.00 167.21H327.00V168.56H326.00ZM327.00 150.44H329.00V151.79H327.00ZM329.00 149.38H330.00V150.73H329.00ZM330.00 150.09H332.00V151.44H330.00ZM332.00 154.71H333.50V156.06H332.00ZM335.10 163.69H337.00V165.04H335.10ZM337.00 163.46H338.00V164.81H337.00ZM338.00 165.04H340.00V166.39H338.00ZM341.80 153.78H343.00V155.13H341.80ZM343.00 153.40H345.00V154.75H343.00ZM345.00 164.06H346.00V165.41H345.00ZM346.00 163.29H348.00V164.64H346.00ZM348.00 159.47H349.00V160.82H348.00ZM349.00 155.48H351.00V156.83H349.00ZM351.00 155.27H352.00V156.62H351.00ZM352.00 163.48H354.00V164.83H352.00ZM354.00 162.94H355.00V164.29H354.00ZM355.00 162.45H357.00V163.80H355.00ZM357.00 158.69H358.00V160.04H357.00ZM358.00 157.86H360.00V159.21H358.00ZM360.00 168.15H361.00V169.50H360.00ZM361.00 168.05H363.00V169.40H361.00ZM363.00 157.92H364.00V159.27H363.00ZM364.00 153.15H366.00V154.50H364.00ZM366.00 152.43H367.00V153.78H366.00ZM367.00 159.82H368.60V161.17H367.00ZM372.20 160.89H374.00V162.24H372.20ZM374.00 161.11H374.80V162.46H374.00ZM378.50 164.86H380.00V166.21H378.50ZM380.00 164.77H381.00V166.12H380.00ZM381.00 150.14H383.00V151.49H381.00ZM383.00 150.91H384.00V152.26H383.00ZM384.00 151.94H386.00V153.29H384.00ZM386.00 155.04H387.00V156.39H386.00ZM387.00 148.23H389.00V148.83H387.00ZM389.00 148.95H390.00V149.55H389.00ZM390.00 165.91H392.00V167.26H390.00ZM392.00 155.12H393.00V156.47H392.00ZM393.00 154.86H394.00V156.21H393.00ZM394.00 165.99H395.90V167.34H394.00ZM397.30 165.13H399.00V166.48H397.30ZM399.00 164.83H400.00V166.18H399.00ZM400.00 161.38H402.00V162.73H400.00ZM402.00 148.13H403.00V148.73H402.00ZM403.00 148.08H405.00V149.43H403.00ZM405.00 153.76H406.00V155.11H405.00ZM406.00 163.46H408.00V164.81H406.00ZM408.00 162.77H409.00V164.12H408.00ZM409.00 153.80H410.00V155.15H409.00ZM410.00 156.48H412.00V157.83H410.00ZM412.00 155.05H413.00V156.40H412.00ZM413.00 155.68H415.00V157.03H413.00ZM415.00 157.71H416.00V159.06H415.00ZM416.00 158.30H418.00V159.65H416.00ZM418.00 168.29H419.00V169.64H418.00ZM419.00 160.95H420.70V162.30H419.00ZM424.20 163.31H426.00V164.66H424.20ZM426.00 162.18H426.90V163.53H426.00ZM430.20 160.74H432.00V162.09H430.20ZM432.00 160.45H433.00V161.80H432.00ZM433.00 152.06H435.00V153.41H433.00ZM435.00 152.35H436.00V153.70H435.00ZM436.00 146.06H438.00V147.41H436.00ZM438.00 144.68H439.00V146.03H438.00ZM439.00 151.41H441.00V152.76H439.00ZM441.00 159.97H442.00V161.32H441.00ZM442.00 153.49H444.00V154.84H442.00ZM444.00 156.12H445.00V157.47H444.00ZM445.00 156.49H447.00V157.84H445.00ZM447.00 151.22H448.00V152.57H447.00ZM448.00 159.94H450.00V161.29H448.00ZM450.00 152.92H451.00V154.27H450.00ZM451.00 152.92H452.00V154.27H451.00ZM452.00 156.04H454.00V157.39H452.00ZM454.00 161.65H455.00V163.00H454.00ZM455.00 162.81H457.00V164.16H455.00ZM457.00 154.25H458.00V155.60H457.00ZM458.00 153.82H460.00V155.17H458.00ZM460.00 157.90H461.00V159.25H460.00ZM461.00 161.45H463.00V162.80H461.00ZM463.00 151.42H464.00V152.77H463.00ZM464.00 151.31H466.00V152.66H464.00ZM466.00 154.23H467.00V155.58H466.00ZM467.00 164.15H469.00V165.50H467.00ZM469.00 151.23H470.30V152.58H469.00ZM473.80 166.09H475.00V167.44H473.80ZM475.00 166.34H476.50V167.69H475.00ZM480.00 158.07H481.00V159.42H480.00ZM481.00 157.08H483.00V158.43H481.00ZM483.00 164.36H484.00V165.71H483.00ZM484.00 148.92H486.00V150.27H484.00ZM486.00 150.33H487.00V151.68H486.00ZM487.00 151.02H489.00V152.37H487.00ZM489.00 159.89H490.00V161.24H489.00ZM490.00 159.12H492.00V160.47H490.00ZM492.00 163.48H493.00V164.83H492.00ZM498.60 163.69H500.00V165.04H498.60ZM500.00 164.29H502.00V165.64H500.00ZM502.00 148.16H503.00V149.51H502.00ZM504.80 166.02H506.00V167.37H504.80ZM506.00 155.59H508.00V156.94H506.00ZM508.00 160.73H509.00V162.08H508.00ZM509.00 157.14H511.00V158.49H509.00ZM511.00 155.74H512.00V157.09H511.00ZM512.00 163.97H514.00V165.32H512.00ZM514.00 161.84H515.00V163.19H514.00ZM515.00 156.70H517.00V158.05H515.00ZM517.00 156.33H518.00V157.68H517.00ZM518.00 163.55H519.60V164.90H518.00ZM523.10 164.75H524.00V166.10H523.10ZM524.00 165.04H525.80V166.39H524.00ZM527.20 162.52H529.00V163.87H527.20ZM529.00 162.81H530.00V164.16H529.00ZM530.00 164.15H532.00V165.50H530.00ZM535.80 153.20H537.00V154.55H535.80ZM537.00 152.67H539.00V154.02H537.00ZM539.00 155.18H540.00V156.53H539.00ZM540.00 165.22H542.00V166.57H540.00ZM542.00 165.31H543.00V166.66H542.00ZM543.00 163.06H545.00V164.41H543.00ZM545.00 156.67H546.00V158.02H545.00ZM546.00 156.37H547.00V157.72H546.00ZM547.00 156.47H549.00V157.82H547.00ZM549.00 146.17H550.00V147.52H549.00ZM550.00 146.08H552.00V147.43H550.00ZM552.00 162.03H553.00V163.38H552.00ZM553.00 161.14H554.80V162.49H553.00ZM556.20 151.76H558.00V153.11H556.20ZM558.00 152.24H560.00V153.59H558.00ZM560.00 169.18H561.30V170.53H560.00ZM566.80 162.60H568.00V163.95H566.80ZM568.00 162.57H570.00V163.92H568.00ZM570.00 157.61H571.00V158.96H570.00ZM571.00 157.71H573.00V159.06H571.00ZM573.00 156.62H574.00V157.97H573.00ZM574.00 157.35H576.00V158.70H574.00ZM576.00 157.19H577.00V158.54H576.00ZM577.00 159.70H579.00V161.05H577.00ZM579.00 160.77H580.00V162.12H579.00ZM580.00 161.04H581.00V162.39H580.00ZM581.00 156.96H583.00V158.31H581.00ZM583.00 163.61H584.00V164.96H583.00ZM584.00 163.95H586.00V165.30H584.00ZM586.00 154.50H587.00V155.85H586.00ZM587.00 150.64H589.00V151.99H587.00ZM589.00 150.59H590.00V151.94H589.00ZM590.00 162.11H591.70V163.46H590.00ZM592.90 156.75H594.00V158.10H592.90ZM594.00 156.64H596.00V157.99H594.00ZM596.00 162.69H597.00V164.04H596.00ZM597.00 162.98H599.00V164.33H597.00ZM599.00 158.93H600.00V160.28H599.00ZM600.00 160.46H602.00V161.81H600.00ZM602.00 160.37H603.00V161.72H602.00ZM603.00 162.67H605.00V164.02H603.00ZM605.00 162.64H606.00V163.99H605.00ZM606.00 160.99H608.00V162.34H606.00ZM608.00 163.68H609.00V165.03H608.00ZM609.00 163.58H610.00V164.93H609.00ZM610.00 161.66H612.00V163.01H610.00ZM612.00 161.46H613.00V162.81H612.00ZM613.00 162.64H615.00V163.99H613.00ZM615.00 156.79H616.00V158.14H615.00ZM616.00 173.44H618.00V175.04H616.00ZM618.00 160.67H619.00V162.02H618.00ZM619.00 160.80H621.00V162.15H619.00ZM621.00 162.79H622.00V164.14H621.00ZM622.00 161.59H624.00V162.94H622.00ZM624.00 161.57H625.00V162.92H624.00ZM625.00 159.11H627.00V160.46H625.00ZM627.00 159.07H628.00V160.42H627.00ZM628.00 160.53H630.00V161.88H628.00ZM630.00 155.57H631.00V156.92H630.00ZM631.00 155.49H632.00V156.84H631.00ZM632.00 154.90H634.00V156.25H632.00ZM634.00 154.86H635.00V156.21H634.00ZM635.00 163.51H637.00V164.86H635.00ZM637.00 157.52H638.00V158.87H637.00ZM638.00 157.50H640.00V158.85H638.00ZM640.00 161.14H641.00V162.49H640.00ZM641.00 160.84H643.00V162.19H641.00ZM643.00 153.73H644.00V154.33H643.00ZM644.00 161.96H646.00V163.31H644.00ZM646.00 162.32H647.00V163.67H646.00ZM647.00 161.14H649.00V162.49H647.00ZM649.00 161.18H650.00V162.53H649.00ZM650.00 156.81H652.00V158.16H650.00ZM652.00 163.56H653.00V164.91H652.00ZM653.00 163.71H654.00V165.06H653.00ZM654.00 159.65H655.90V161.00H654.00ZM659.60 157.47H661.00V158.82H659.60ZM661.00 157.96H662.00V159.31H661.00ZM662.00 155.58H664.00V156.93H662.00ZM664.00 155.83H665.00V157.18H664.00ZM665.00 158.62H666.30V159.97H665.00Z"/>
<path fill="#A39517" d="M50.30 103.70H52.00V104.30H50.30ZM61.00 102.74H62.90V103.34H61.00ZM416.00 107.56H418.00V108.16H416.00ZM599.00 100.67H601.00V101.27H599.00Z"/>
<path fill="#67B3A3" d="M36.00 32.94H38.20V41.89H36.00ZM39.60 35.55H41.70V61.21H39.60ZM41.70 35.55H44.50V71.12H41.70ZM44.50 41.29H47.30V73.21H44.50ZM47.30 28.24H48.70V63.29H47.30ZM54.30 40.25H57.10V74.67H54.30ZM60.60 30.33H63.40V68.51H60.60ZM63.40 37.64H66.90V74.26H63.40ZM66.90 36.59H69.70V61.21H66.90ZM71.10 39.20H73.90V69.04H71.10ZM75.00 34.51H77.40V47.11H75.00ZM77.40 43.38H79.50V61.21H77.40ZM79.50 27.72H82.30V47.63H79.50ZM82.30 28.76H84.00V72.69H82.30ZM99.80 48.60H104.70V70.08H99.80ZM106.10 29.81H109.20V62.77H106.10ZM112.40 37.64H115.00V74.67H112.40ZM126.90 34.51H129.70V74.70H126.90ZM133.20 44.95H135.70V67.47H133.20ZM135.70 37.64H137.80V71.65H135.70ZM137.80 28.76H139.90V43.46H137.80ZM141.30 36.59H144.10V62.25H141.30ZM166.10 48.60H168.90V66.95H166.10ZM172.40 43.90H175.20V73.21H172.40ZM178.90 44.42H181.60V74.67H178.90ZM197.00 29.29H199.80V63.29H197.00ZM211.70 39.73H214.10V65.38H211.70ZM236.20 39.73H239.00V72.17H236.20ZM263.30 38.16H266.10V68.51H263.30ZM269.20 44.95H272.00V71.12H269.20ZM275.50 34.51H278.00V62.77H275.50ZM279.70 38.16H282.20V64.86H279.70ZM288.10 36.59H290.90V62.25H288.10ZM302.10 26.68H305.20V37.72H302.10ZM335.10 43.38H337.90V63.29H335.10ZM343.50 35.55H346.00V71.12H343.50ZM362.10 30.33H364.90V50.77H362.10ZM373.20 39.73H375.00V74.67H373.20ZM387.00 39.20H389.80V72.17H387.00ZM393.30 38.68H395.70V68.51H393.30ZM395.70 33.46H397.90V58.60H395.70ZM399.30 34.51H402.10V71.12H399.30ZM411.90 26.68H414.70V39.80H411.90ZM444.70 41.81H447.20V71.12H444.70ZM447.20 27.72H449.60V41.89H447.20ZM451.00 38.16H453.80V62.25H451.00ZM485.80 38.16H488.60V64.86H485.80ZM490.00 38.68H492.50V65.38H490.00ZM492.50 26.15H494.50V37.72H492.50ZM494.50 29.29H497.30V47.63H494.50ZM498.40 31.90H501.20V50.24H498.40ZM510.70 30.85H513.50V52.33H510.70ZM523.30 38.16H526.10V74.67H523.30ZM555.90 38.68H561.10V65.90H555.90ZM37.90 93.14H39.00V118.50H37.90ZM39.00 91.70H40.20V118.50H39.00ZM43.90 104.94H45.00V133.66H43.90ZM45.00 104.04H47.00V133.66H45.00ZM47.00 93.35H48.50V132.97H47.00ZM50.30 103.70H52.00V132.97H50.30ZM52.00 102.96H53.00V132.97H52.00ZM53.00 115.27H55.00V132.97H53.00ZM56.50 101.30H58.00V133.66H56.50ZM58.00 92.96H60.00V133.66H58.00ZM60.00 102.42H61.00V132.97H60.00ZM61.00 102.74H62.90V130.90H61.00ZM65.00 99.08H66.00V134.80H65.00ZM66.00 99.40H68.00V134.80H66.00ZM68.00 93.39H69.00V132.28H68.00ZM69.00 99.24H71.00V132.28H69.00ZM71.00 98.96H72.00V132.28H71.00ZM72.00 110.32H73.30V134.80H72.00ZM81.10 96.88H83.00V129.59H81.10ZM83.00 96.44H84.00V131.59H83.00ZM84.00 101.50H85.70V133.66H84.00ZM87.70 97.94H89.00V124.70H87.70ZM89.00 96.29H91.00V128.15H89.00ZM91.00 94.90H92.00V128.15H91.00ZM92.00 95.98H94.00V116.16H92.00ZM94.00 100.03H95.00V125.39H94.00ZM95.00 98.57H96.00V121.26H95.00ZM96.00 92.53H98.00V126.08H96.00ZM98.00 92.07H99.00V132.97H98.00ZM99.00 90.92H100.80V134.80H99.00ZM104.00 105.68H105.00V127.46H104.00ZM105.00 105.94H106.80V127.46H105.00ZM112.60 93.61H114.00V124.70H112.60ZM114.00 93.09H115.00V124.70H114.00ZM115.00 94.79H117.00V124.70H115.00ZM117.00 98.52H118.00V124.01H117.00ZM118.00 101.48H120.00V124.70H118.00ZM120.00 104.19H120.90V134.80H120.00ZM122.80 94.58H124.00V126.08H122.80ZM124.00 95.13H126.00V126.08H124.00ZM126.00 96.18H127.00V126.08H126.00ZM127.00 95.63H129.00V134.80H127.00ZM129.00 96.16H130.00V134.80H129.00ZM130.00 94.04H132.00V134.80H130.00ZM132.00 101.33H133.00V124.01H132.00ZM133.00 97.74H135.00V116.43H133.00ZM135.00 97.89H136.00V116.43H135.00ZM136.00 98.58H138.00V131.59H136.00ZM138.00 94.51H139.00V131.59H138.00ZM139.00 94.33H141.00V131.59H139.00ZM141.00 98.66H142.00V129.53H141.00ZM142.00 101.29H144.00V128.15H142.00ZM144.00 95.38H145.00V117.81H144.00ZM145.00 94.94H147.00V117.81H145.00ZM147.00 97.35H148.00V126.08H147.00ZM148.00 98.98H150.00V128.84H148.00ZM150.00 99.69H151.00V128.84H150.00ZM151.00 100.70H153.00V121.95H151.00ZM153.00 101.82H154.00V134.35H153.00ZM154.00 98.34H156.00V128.84H154.00ZM156.00 98.24H157.00V128.84H156.00ZM157.00 97.21H159.00V132.97H157.00ZM159.00 93.84H160.00V116.43H159.00ZM160.00 94.01H162.00V116.43H160.00ZM162.00 95.67H163.00V132.97H162.00ZM163.00 96.04H164.00V131.59H163.00ZM164.00 113.20H166.00V126.77H164.00ZM166.00 111.99H167.00V126.77H166.00ZM167.00 97.83H169.00V134.35H167.00ZM169.00 100.05H170.00V134.80H169.00ZM170.00 98.64H172.00V134.80H170.00ZM172.00 100.18H173.00V125.39H172.00ZM173.00 105.37H174.90V132.97H173.00ZM179.20 108.06H181.00V125.39H179.20ZM181.00 108.24H182.00V125.39H181.00ZM182.00 95.12H184.00V134.80H182.00ZM184.00 99.99H185.00V127.46H184.00ZM185.00 100.61H186.00V127.46H185.00ZM186.00 98.29H188.00V134.80H186.00ZM188.00 99.89H189.00V132.97H188.00ZM189.00 98.42H191.00V129.53H189.00ZM191.00 98.71H192.00V129.53H191.00ZM192.00 100.10H194.00V123.32H192.00ZM194.00 98.49H195.20V123.32H194.00ZM197.10 91.76H199.00V128.84H197.10ZM199.00 92.52H200.00V128.84H199.00ZM200.00 106.78H202.00V128.15H200.00ZM202.00 107.13H203.00V128.15H202.00ZM203.00 100.75H205.00V132.28H203.00ZM205.00 101.35H206.00V132.28H205.00ZM206.00 100.94H207.00V132.97H206.00ZM207.00 100.54H209.00V132.97H207.00ZM209.00 98.68H210.00V131.59H209.00ZM210.00 98.50H212.00V131.59H210.00ZM212.00 100.16H213.00V130.21H212.00ZM213.00 99.44H215.00V130.21H213.00ZM215.00 100.77H216.00V124.01H215.00ZM216.00 100.72H218.00V124.01H216.00ZM218.00 99.93H219.00V128.15H218.00ZM219.00 98.93H221.00V128.15H219.00ZM221.00 97.84H222.00V128.84H221.00ZM222.00 97.82H224.00V128.84H222.00ZM224.00 100.85H225.00V128.84H224.00ZM225.00 100.59H227.00V128.84H225.00ZM227.00 93.79H228.00V112.99H227.00ZM228.00 94.40H230.00V112.99H228.00ZM230.00 91.72H231.00V123.32H230.00ZM231.00 91.59H233.00V123.32H231.00ZM233.00 93.60H234.00V119.88H233.00ZM234.00 93.66H236.00V119.88H234.00ZM236.00 92.87H237.00V126.08H236.00ZM237.00 93.13H239.00V126.08H237.00ZM239.00 97.33H240.00V116.43H239.00ZM240.00 97.45H242.00V116.43H240.00ZM242.00 106.82H243.00V132.97H242.00ZM246.90 102.87H248.00V134.80H246.90ZM248.00 103.27H250.00V128.15H248.00ZM250.00 92.10H252.00V128.84H250.00ZM252.00 96.27H253.10V134.35H252.00ZM254.90 104.62H256.00V133.66H254.90ZM256.00 104.83H258.00V133.66H256.00ZM258.00 102.83H259.00V129.53H258.00ZM259.00 92.03H261.00V131.59H259.00ZM261.00 97.54H262.00V132.97H261.00ZM262.00 94.36H264.00V115.81H262.00ZM264.00 95.00H265.50V117.19H264.00ZM267.20 104.92H268.00V134.80H267.20ZM268.00 104.44H269.60V134.80H268.00ZM271.40 97.79H273.00V128.15H271.40ZM273.00 98.14H274.00V128.15H273.00ZM274.00 98.10H276.00V129.53H274.00ZM276.00 106.79H277.00V129.53H276.00ZM277.00 107.00H279.00V133.66H277.00ZM279.00 108.45H280.00V133.66H279.00ZM280.00 108.98H282.00V120.57H280.00ZM282.00 93.04H283.00V120.57H282.00ZM283.00 93.99H285.00V127.46H283.00ZM285.00 98.95H286.00V134.35H285.00ZM286.00 98.91H288.00V134.35H286.00ZM288.00 98.53H289.00V132.28H288.00ZM289.00 100.76H290.00V132.28H289.00ZM290.00 100.25H292.00V125.39H290.00ZM292.00 91.97H293.00V125.39H292.00ZM293.00 92.49H295.00V134.35H293.00ZM295.00 102.16H296.00V134.35H295.00ZM296.00 101.20H298.00V117.81H296.00ZM298.00 97.10H299.00V128.15H298.00ZM299.00 96.42H301.00V128.15H299.00ZM301.00 97.15H302.00V130.21H301.00ZM302.00 93.26H304.00V130.21H302.00ZM304.00 93.03H305.00V132.28H304.00ZM305.00 99.85H307.00V132.28H305.00ZM307.00 101.45H308.00V128.15H307.00ZM308.00 98.52H310.00V128.15H308.00ZM310.00 99.06H311.00V134.35H310.00ZM315.20 98.61H317.00V134.35H315.20ZM317.00 98.88H318.00V134.35H317.00ZM318.00 94.77H320.00V124.01H318.00ZM320.00 100.82H321.00V133.66H320.00ZM321.00 100.35H322.00V133.66H321.00ZM322.00 95.92H323.80V132.97H322.00ZM325.20 94.04H327.00V125.39H325.20ZM327.00 93.60H328.00V123.89H327.00ZM328.00 97.34H330.00V125.96H328.00ZM330.00 97.16H331.00V127.46H330.00ZM331.00 103.64H333.00V130.90H331.00ZM333.00 102.83H334.00V130.90H333.00ZM334.00 92.52H336.00V113.68H334.00ZM336.00 92.94H337.00V113.68H336.00ZM337.00 98.61H339.00V122.63H337.00ZM339.00 100.05H340.00V122.63H339.00ZM340.00 93.88H341.80V132.28H340.00ZM343.60 94.77H345.00V127.46H343.60ZM345.00 94.40H347.00V127.46H345.00ZM347.00 97.20H348.00V121.95H347.00ZM348.00 95.82H350.00V121.95H348.00ZM350.00 94.29H351.00V132.97H350.00ZM351.00 94.16H353.00V132.97H351.00ZM353.00 101.35H354.00V127.46H353.00ZM354.00 102.04H356.00V127.46H354.00ZM356.00 102.24H357.00V133.66H356.00ZM357.00 102.22H359.00V133.66H357.00ZM362.00 98.12H363.00V130.21H362.00ZM363.00 97.19H365.00V130.21H363.00ZM365.00 102.37H366.00V133.66H365.00ZM366.00 102.40H368.00V133.66H366.00ZM368.00 99.24H369.00V128.84H368.00ZM372.50 99.49H374.00V128.15H372.50ZM374.00 99.19H375.00V128.15H374.00ZM375.00 100.76H377.00V133.66H375.00ZM377.00 97.04H378.00V133.66H377.00ZM378.00 96.52H380.00V132.28H378.00ZM380.00 99.59H381.00V132.28H380.00ZM381.00 100.51H383.00V119.19H381.00ZM383.00 93.43H384.00V119.19H383.00ZM384.00 92.92H385.00V128.15H384.00ZM385.00 98.91H387.00V128.15H385.00ZM387.00 98.47H388.00V128.84H387.00ZM388.00 95.03H390.00V128.84H388.00ZM390.00 95.03H391.00V132.28H390.00ZM391.00 100.34H393.00V131.59H391.00ZM393.00 99.58H394.00V131.59H393.00ZM394.00 100.81H396.00V124.70H394.00ZM396.00 99.31H397.00V124.70H396.00ZM397.00 98.24H398.00V132.97H397.00ZM398.00 97.45H400.00V132.97H398.00ZM400.00 97.12H401.00V129.53H400.00ZM401.00 96.32H403.00V129.53H401.00ZM403.00 96.36H404.00V127.46H403.00ZM404.00 98.69H406.00V127.46H404.00ZM406.00 99.32H407.00V132.97H406.00ZM407.00 98.33H409.00V132.97H407.00ZM409.00 97.89H410.00V130.90H409.00ZM412.00 98.68H413.00V126.77H412.00ZM413.00 98.93H415.00V126.77H413.00ZM415.00 104.65H416.00V134.80H415.00ZM416.00 107.56H418.00V134.80H416.00ZM418.00 94.02H419.00V128.15H418.00ZM419.00 94.45H420.30V128.15H419.00ZM424.20 113.69H426.00V121.95H424.20ZM426.00 113.65H427.00V121.95H426.00ZM427.00 100.00H429.00V134.80H427.00ZM429.00 100.37H430.60V134.80H429.00ZM432.70 100.18H434.00V130.90H432.70ZM434.00 100.48H436.00V130.90H434.00ZM436.00 96.33H437.00V117.81H436.00ZM437.00 96.53H438.00V128.15H437.00ZM438.00 97.30H440.00V125.65H438.00ZM440.00 97.24H441.00V130.47H440.00ZM441.00 101.88H443.00V128.84H441.00ZM443.00 99.87H444.00V115.05H443.00ZM444.00 98.68H446.00V115.05H444.00ZM446.00 98.69H447.00V128.84H446.00ZM447.00 97.74H449.00V130.90H447.00ZM449.00 94.37H450.00V115.05H449.00ZM450.00 94.25H452.00V115.05H450.00ZM452.00 96.58H453.00V126.08H452.00ZM453.00 91.72H454.00V128.84H453.00ZM454.00 92.87H456.00V128.84H454.00ZM456.00 100.91H457.00V132.97H456.00ZM457.00 100.88H459.00V124.70H457.00ZM459.00 91.35H460.00V131.59H459.00ZM460.00 90.70H462.00V131.59H460.00ZM462.00 100.49H463.00V132.97H462.00ZM463.00 115.01H465.00V128.15H463.00ZM465.00 115.47H466.00V132.97H465.00ZM466.00 97.19H467.00V132.97H466.00ZM467.00 96.45H469.00V120.57H467.00ZM469.00 101.32H470.30V131.59H469.00ZM473.80 112.38H475.00V127.46H473.80ZM475.00 113.78H477.00V127.46H475.00ZM477.00 113.40H478.00V127.46H477.00ZM478.00 95.46H480.00V133.66H478.00ZM480.00 95.56H481.00V133.66H480.00ZM481.00 99.98H482.00V125.15H481.00ZM482.00 99.54H483.80V125.15H482.00ZM485.90 100.03H487.00V132.97H485.90ZM487.00 100.16H489.00V132.97H487.00ZM489.00 101.35H490.00V104.72H489.00ZM490.00 94.58H492.00V104.72H490.00ZM492.00 94.37H493.00V129.53H492.00ZM493.00 102.69H495.00V132.97H493.00ZM495.00 103.35H496.00V132.97H495.00ZM496.00 98.30H498.00V118.50H496.00ZM498.00 97.63H499.00V118.50H498.00ZM499.00 94.19H501.00V126.08H499.00ZM501.00 94.34H502.00V132.97H501.00ZM502.00 95.99H503.00V132.97H502.00ZM503.00 95.84H505.00V121.95H503.00ZM505.00 95.26H506.00V121.95H505.00ZM506.00 94.92H508.00V124.70H506.00ZM508.00 101.37H509.00V120.57H508.00ZM509.00 101.84H511.00V120.57H509.00ZM511.00 93.49H512.00V132.28H511.00ZM512.00 93.00H514.00V132.28H512.00ZM514.00 102.67H515.00V120.57H514.00ZM515.00 103.93H517.00V132.97H515.00ZM517.00 98.33H518.00V132.97H517.00ZM518.00 97.69H519.60V132.97H518.00ZM523.10 108.19H525.00V128.15H523.10ZM525.00 109.64H526.00V128.15H525.00ZM526.00 109.63H528.00V128.15H526.00ZM528.00 92.99H529.00V134.35H528.00ZM529.00 94.14H530.00V134.35H529.00ZM530.00 92.88H532.00V133.66H530.00ZM532.00 91.80H533.00V133.66H532.00ZM533.00 97.04H535.00V132.97H533.00ZM535.00 96.72H536.00V132.97H535.00ZM536.00 104.74H538.00V128.15H536.00ZM538.00 104.11H539.00V128.15H538.00ZM539.00 104.39H541.00V128.15H539.00ZM541.00 99.26H542.00V134.80H541.00ZM542.00 100.09H544.00V134.80H542.00ZM544.00 90.64H545.00V127.46H544.00ZM545.00 90.89H547.00V127.46H545.00ZM547.00 94.62H548.00V134.35H547.00ZM548.00 95.36H550.00V134.35H548.00ZM550.00 108.14H551.00V121.95H550.00ZM551.00 108.03H553.00V121.95H551.00ZM553.00 107.67H554.00V121.95H553.00ZM554.00 101.55H556.00V133.66H554.00ZM556.00 101.61H557.00V133.66H556.00ZM557.00 97.40H559.00V127.46H557.00ZM559.00 98.73H560.00V127.46H559.00ZM560.00 91.27H562.00V130.21H560.00ZM562.00 91.84H563.00V130.21H562.00ZM566.50 95.79H568.00V124.01H566.50ZM568.00 95.85H569.00V124.01H568.00ZM569.00 94.72H571.00V118.50H569.00ZM571.00 94.56H572.00V118.50H571.00ZM572.00 93.57H574.00V115.05H572.00ZM574.00 92.57H575.00V115.05H574.00ZM575.00 91.75H577.00V124.70H575.00ZM577.00 96.29H578.00V130.90H577.00ZM578.00 95.94H580.00V130.90H578.00ZM580.00 97.15H581.00V127.46H580.00ZM581.00 98.44H583.00V127.46H581.00ZM583.00 98.21H584.00V128.84H583.00ZM584.00 97.22H586.00V128.84H584.00ZM586.00 100.75H587.00V132.97H586.00ZM587.00 101.16H589.00V126.08H587.00ZM589.00 94.01H590.00V126.08H589.00ZM590.00 93.61H592.00V132.28H590.00ZM592.00 99.57H593.00V132.28H592.00ZM593.00 98.98H595.00V129.53H593.00ZM595.00 95.02H596.00V133.66H595.00ZM596.00 95.40H598.00V133.66H596.00ZM598.00 100.18H599.00V130.21H598.00ZM599.00 100.67H601.00V130.21H599.00ZM601.00 96.67H602.00V123.32H601.00ZM602.00 95.93H604.00V123.32H602.00ZM604.00 102.28H605.00V130.21H604.00ZM605.00 102.17H606.00V121.95H605.00ZM606.00 91.86H608.00V121.95H606.00ZM608.00 92.44H609.00V131.59H608.00ZM609.00 99.10H611.00V131.59H609.00ZM611.00 98.97H612.40V128.15H611.00ZM614.20 98.01H616.00V127.46H614.20ZM616.00 97.41H617.00V127.46H616.00ZM617.00 97.90H619.00V127.46H617.00ZM619.00 96.77H620.00V124.70H619.00ZM620.00 96.38H622.00V124.70H620.00ZM622.00 90.50H623.00V126.08H622.00ZM623.00 91.75H625.00V126.08H623.00ZM625.00 95.91H626.00V127.46H625.00ZM626.00 95.78H628.00V127.46H626.00ZM628.00 95.44H629.00V125.39H628.00ZM629.00 95.32H630.70V125.39H629.00ZM634.10 99.50H636.00V132.97H634.10ZM636.00 99.16H637.00V132.97H636.00ZM641.00 92.91H643.00V125.96H641.00ZM643.00 92.99H644.00V127.46H643.00ZM644.00 87.01H646.00V113.68H644.00ZM647.00 90.08H648.00V115.05H647.00ZM648.00 90.20H649.70V115.05H648.00ZM650.80 91.06H652.00V118.50H650.80ZM652.00 91.49H653.90V118.50H652.00ZM655.20 100.00H657.00V132.97H655.20ZM657.00 99.29H658.00V132.97H657.00ZM658.00 99.98H659.00V124.70H658.00ZM659.00 100.93H661.00V124.70H659.00ZM661.00 92.99H662.10V126.08H661.00ZM666.50 87.76H668.30V123.32H666.50ZM35.90 149.98H37.00V190.92H35.90ZM37.90 158.57H39.00V195.30H37.90ZM39.00 158.99H41.00V195.30H39.00ZM41.00 157.32H42.30V188.99H41.00ZM43.90 156.68H45.00V195.30H43.90ZM45.00 155.76H47.00V195.30H45.00ZM47.00 165.09H48.00V195.30H47.00ZM48.00 164.16H50.00V194.98H48.00ZM50.00 161.43H51.00V190.92H50.00ZM51.00 160.25H53.00V190.92H51.00ZM53.00 156.14H54.00V190.92H53.00ZM54.00 156.25H56.00V195.30H54.00ZM56.00 162.44H57.00V194.50H56.00ZM57.00 161.72H59.00V195.30H57.00ZM59.00 161.05H60.00V195.30H59.00ZM60.00 166.36H62.00V187.54H60.00ZM62.00 165.56H63.00V195.30H62.00ZM63.00 155.79H65.00V195.30H63.00ZM65.00 156.29H66.00V194.98H65.00ZM66.00 161.43H68.00V190.92H66.00ZM68.00 161.43H69.00V195.30H68.00ZM69.00 146.81H71.00V195.30H69.00ZM71.00 146.72H72.00V195.30H71.00ZM72.00 162.69H74.00V195.30H72.00ZM74.00 162.76H75.00V195.30H74.00ZM75.00 164.04H76.00V195.30H75.00ZM76.00 154.59H78.00V195.30H76.00ZM78.00 155.24H79.00V195.30H78.00ZM79.00 157.25H81.00V192.36H79.00ZM81.00 157.74H82.00V195.30H81.00ZM82.00 153.98H84.00V195.30H82.00ZM84.00 154.13H85.00V194.98H84.00ZM85.00 164.10H87.00V195.30H85.00ZM87.00 164.40H88.00V195.30H87.00ZM88.00 165.83H90.00V185.61H88.00ZM90.00 165.79H91.00V195.30H90.00ZM91.00 152.63H93.00V195.30H91.00ZM93.00 157.11H94.00V195.30H93.00ZM94.00 158.64H96.00V195.30H94.00ZM96.00 163.82H97.00V195.30H96.00ZM97.00 164.05H99.00V194.50H97.00ZM99.00 163.31H100.00V194.50H99.00ZM100.00 163.89H102.00V195.30H100.00ZM102.00 154.45H103.00V195.30H102.00ZM103.00 153.98H105.00V195.30H103.00ZM105.00 161.95H106.00V194.50H105.00ZM106.00 163.05H108.00V195.30H106.00ZM108.00 168.67H109.10V194.98H108.00ZM112.20 155.11H114.00V178.86H112.20ZM114.00 153.81H115.00V195.30H114.00ZM115.00 162.78H116.00V194.98H115.00ZM116.00 168.09H118.00V195.30H116.00ZM118.00 166.94H119.00V194.98H118.00ZM119.00 152.79H121.00V195.30H119.00ZM121.00 159.99H122.00V194.98H121.00ZM122.00 159.73H124.00V194.98H122.00ZM124.00 165.68H125.00V194.98H124.00ZM125.00 163.45H127.00V194.98H125.00ZM127.00 163.48H128.00V194.98H127.00ZM128.00 155.96H129.40V194.98H128.00ZM131.10 157.41H133.00V195.30H131.10ZM133.00 157.65H134.00V195.30H133.00ZM134.00 160.06H136.00V194.98H134.00ZM136.00 157.51H137.00V195.30H136.00ZM137.00 158.63H139.00V195.30H137.00ZM139.00 153.76H140.00V187.06H139.00ZM140.00 159.50H142.00V187.06H140.00ZM142.00 159.93H143.00V192.85H142.00ZM143.00 160.45H145.00V192.85H143.00ZM145.00 145.51H146.00V195.30H145.00ZM147.80 164.84H149.00V194.50H147.80ZM149.00 164.35H151.00V195.30H149.00ZM151.00 164.71H152.20V194.50H151.00ZM153.80 144.96H155.00V190.43H153.80ZM155.00 145.07H157.00V190.43H155.00ZM157.00 150.34H158.00V194.98H157.00ZM158.00 149.76H160.00V195.30H158.00ZM160.00 169.10H162.00V195.30H160.00ZM162.00 168.53H163.00V194.50H162.00ZM163.00 160.74H164.60V190.92H163.00ZM166.20 161.15H168.00V194.98H166.20ZM168.00 160.02H169.00V195.30H168.00ZM169.00 164.73H171.00V194.98H169.00ZM171.00 166.49H172.00V194.98H171.00ZM172.00 165.38H173.00V194.98H172.00ZM173.00 155.55H174.90V194.98H173.00ZM178.20 156.67H180.00V185.74H178.20ZM180.00 157.11H181.00V188.02H180.00ZM181.00 161.93H183.00V188.99H181.00ZM183.00 161.61H184.00V185.74H183.00ZM184.00 160.25H185.00V194.98H184.00ZM185.00 161.25H187.00V194.98H185.00ZM187.00 166.13H188.00V195.30H187.00ZM188.00 166.85H190.00V195.30H188.00ZM190.00 165.61H191.00V194.98H190.00ZM191.00 160.41H193.00V194.98H191.00ZM193.00 161.02H194.00V194.98H193.00ZM194.00 161.39H195.00V194.50H194.00ZM195.00 147.70H197.00V194.50H195.00ZM197.00 147.27H198.00V194.98H197.00ZM198.00 164.42H200.00V195.30H198.00ZM200.00 165.48H201.00V195.30H200.00ZM201.00 160.27H203.00V195.30H201.00ZM203.00 164.20H204.00V194.98H203.00ZM204.00 162.94H206.00V194.98H204.00ZM206.00 157.86H207.00V195.30H206.00ZM207.00 157.66H208.00V194.50H207.00ZM208.00 154.41H209.90V195.30H208.00ZM211.50 163.88H213.00V191.40H211.50ZM213.00 163.03H214.00V195.30H213.00ZM214.00 145.12H216.00V191.40H214.00ZM216.00 161.80H217.00V195.30H216.00ZM217.00 161.92H219.00V195.30H217.00ZM219.00 162.84H220.20V195.30H219.00ZM221.90 157.76H223.00V192.85H221.90ZM223.00 157.27H225.00V192.85H223.00ZM225.00 155.36H226.00V195.30H225.00ZM226.00 159.31H228.00V195.30H226.00ZM228.00 159.72H229.00V183.69H228.00ZM229.00 164.93H230.00V195.30H229.00ZM230.00 157.50H232.00V195.30H230.00ZM232.00 156.72H233.00V194.98H232.00ZM233.00 155.43H234.70V195.30H233.00ZM236.40 162.98H238.00V194.02H236.40ZM238.00 163.39H240.00V194.02H238.00ZM240.00 166.17H241.00V191.40H240.00ZM241.00 162.17H243.00V191.40H241.00ZM246.90 166.44H248.00V190.56H246.90ZM248.00 167.00H250.00V195.30H248.00ZM250.00 162.95H251.00V192.36H250.00ZM253.10 166.68H255.00V191.94H253.10ZM255.00 165.40H256.00V194.02H255.00ZM256.00 161.37H257.00V195.30H256.00ZM257.00 165.57H259.00V195.30H257.00ZM259.00 165.35H260.00V192.85H259.00ZM260.00 162.49H262.00V195.30H260.00ZM262.00 157.15H263.00V195.30H262.00ZM263.00 157.01H265.00V195.30H263.00ZM265.00 151.09H266.00V195.30H265.00ZM266.00 149.47H267.60V194.50H266.00ZM269.20 152.34H271.00V195.30H269.20ZM271.00 153.62H272.00V190.43H271.00ZM272.00 161.83H274.00V191.40H272.00ZM274.00 162.14H275.80V191.40H274.00ZM277.90 158.81H279.00V189.95H277.90ZM279.00 158.62H281.00V195.30H279.00ZM281.00 168.23H282.00V189.95H281.00ZM282.00 144.61H284.00V195.30H282.00ZM284.00 143.61H285.00V195.30H284.00ZM285.00 158.14H287.00V195.30H285.00ZM287.00 156.57H288.20V195.30H287.00ZM289.90 162.85H292.00V195.30H289.90ZM292.00 163.02H293.00V195.30H292.00ZM293.00 162.69H294.70V195.30H293.00ZM296.20 165.01H298.00V195.30H296.20ZM298.00 164.67H299.00V195.30H298.00ZM299.00 164.33H301.00V195.30H299.00ZM301.00 163.78H302.00V189.50H301.00ZM302.00 164.11H304.00V195.30H302.00ZM304.00 159.66H305.00V194.50H304.00ZM305.00 156.46H307.00V195.30H305.00ZM307.00 156.89H308.00V195.30H307.00ZM308.00 170.30H310.00V195.30H308.00ZM310.00 164.86H311.00V195.30H310.00ZM314.90 165.95H316.00V189.19H314.90ZM316.00 165.58H317.60V191.40H316.00ZM321.10 167.76H323.00V195.30H321.10ZM323.00 168.28H324.00V195.30H323.00ZM324.00 167.87H326.00V195.30H324.00ZM326.00 167.96H327.00V195.30H326.00ZM327.00 151.19H329.00V191.88H327.00ZM329.00 150.13H330.00V191.88H329.00ZM330.00 150.84H332.00V195.30H330.00ZM332.00 155.46H333.50V191.88H332.00ZM335.10 164.44H337.00V194.98H335.10ZM337.00 164.21H338.00V194.98H337.00ZM338.00 165.79H340.00V195.30H338.00ZM341.80 154.53H343.00V188.99H341.80ZM343.00 154.15H345.00V188.99H343.00ZM345.00 164.81H346.00V195.30H345.00ZM346.00 164.04H348.00V194.98H346.00ZM348.00 160.22H349.00V194.98H348.00ZM349.00 156.23H351.00V189.50H349.00ZM351.00 156.02H352.00V191.40H351.00ZM352.00 164.23H354.00V194.50H352.00ZM354.00 163.69H355.00V194.50H354.00ZM355.00 163.20H357.00V195.30H355.00ZM357.00 159.44H358.00V190.92H357.00ZM358.00 158.61H360.00V190.92H358.00ZM360.00 168.90H361.00V195.30H360.00ZM361.00 168.80H363.00V194.50H361.00ZM363.00 158.67H364.00V195.30H363.00ZM364.00 153.90H366.00V189.50H364.00ZM366.00 153.18H367.00V192.36H366.00ZM367.00 160.57H368.60V192.36H367.00ZM372.20 161.64H374.00V195.30H372.20ZM374.00 161.86H374.80V195.30H374.00ZM378.50 165.61H380.00V187.43H378.50ZM380.00 165.52H381.00V189.47H380.00ZM381.00 150.89H383.00V194.98H381.00ZM383.00 151.66H384.00V194.98H383.00ZM384.00 152.69H386.00V194.50H384.00ZM386.00 155.79H387.00V194.50H386.00ZM387.00 148.23H389.00V195.30H387.00ZM389.00 148.95H390.00V194.02H389.00ZM390.00 166.66H392.00V192.36H390.00ZM392.00 155.87H393.00V192.36H392.00ZM393.00 155.61H394.00V194.98H393.00ZM394.00 166.74H395.90V194.98H394.00ZM397.30 165.88H399.00V195.30H397.30ZM399.00 165.58H400.00V195.30H399.00ZM400.00 162.13H402.00V189.95H400.00ZM402.00 148.13H403.00V195.30H402.00ZM403.00 148.83H405.00V188.81H403.00ZM405.00 154.51H406.00V195.30H405.00ZM406.00 164.21H408.00V191.88H406.00ZM408.00 163.52H409.00V195.30H408.00ZM409.00 154.55H410.00V195.30H409.00ZM410.00 157.23H412.00V188.81H410.00ZM412.00 155.80H413.00V195.30H412.00ZM413.00 156.43H415.00V194.50H413.00ZM415.00 158.46H416.00V194.50H415.00ZM416.00 159.05H418.00V194.50H416.00ZM418.00 169.04H419.00V195.30H418.00ZM419.00 161.70H420.70V195.30H419.00ZM424.20 164.06H426.00V191.25H424.20ZM426.00 162.93H426.90V192.36H426.00ZM430.20 161.49H432.00V195.30H430.20ZM432.00 161.20H433.00V195.30H432.00ZM433.00 152.81H435.00V194.98H433.00ZM435.00 153.10H436.00V194.98H435.00ZM436.00 146.81H438.00V195.30H436.00ZM438.00 145.43H439.00V195.30H438.00ZM439.00 152.16H441.00V195.30H439.00ZM441.00 160.72H442.00V192.85H441.00ZM442.00 154.24H444.00V192.85H442.00ZM444.00 156.87H445.00V194.98H444.00ZM445.00 157.24H447.00V194.98H445.00ZM447.00 151.97H448.00V188.99H447.00ZM448.00 160.69H450.00V188.99H448.00ZM450.00 153.67H451.00V187.54H450.00ZM451.00 153.67H452.00V187.54H451.00ZM452.00 156.79H454.00V194.98H452.00ZM454.00 162.40H455.00V195.30H454.00ZM455.00 163.56H457.00V195.30H455.00ZM457.00 155.00H458.00V195.30H457.00ZM458.00 154.57H460.00V195.30H458.00ZM460.00 158.65H461.00V195.30H460.00ZM461.00 162.20H463.00V195.30H461.00ZM463.00 152.17H464.00V195.30H463.00ZM464.00 152.06H466.00V194.98H464.00ZM466.00 154.98H467.00V195.30H466.00ZM467.00 164.90H469.00V195.30H467.00ZM469.00 151.98H470.30V195.30H469.00ZM473.80 166.84H475.00V191.56H473.80ZM475.00 167.09H476.50V195.30H475.00ZM480.00 158.82H481.00V189.19H480.00ZM481.00 157.83H483.00V195.30H481.00ZM483.00 165.11H484.00V194.98H483.00ZM484.00 149.67H486.00V195.30H484.00ZM486.00 151.08H487.00V195.30H486.00ZM487.00 151.77H489.00V192.85H487.00ZM489.00 160.64H490.00V192.85H489.00ZM490.00 159.87H492.00V190.92H490.00ZM492.00 164.23H493.00V189.19H492.00ZM498.60 164.44H500.00V195.30H498.60ZM500.00 165.04H502.00V195.30H500.00ZM502.00 148.91H503.00V195.30H502.00ZM504.80 166.77H506.00V195.30H504.80ZM506.00 156.34H508.00V195.30H506.00ZM508.00 161.48H509.00V195.30H508.00ZM509.00 157.89H511.00V194.98H509.00ZM511.00 156.49H512.00V194.98H511.00ZM512.00 164.72H514.00V195.30H512.00ZM514.00 162.59H515.00V192.36H514.00ZM515.00 157.45H517.00V192.36H515.00ZM517.00 157.08H518.00V195.30H517.00ZM518.00 164.30H519.60V194.98H518.00ZM523.10 165.50H524.00V194.31H523.10ZM524.00 165.79H525.80V194.31H524.00ZM527.20 163.27H529.00V195.30H527.20ZM529.00 163.56H530.00V195.30H529.00ZM530.00 164.90H532.00V195.30H530.00ZM535.80 153.95H537.00V195.30H535.80ZM537.00 153.42H539.00V195.30H537.00ZM539.00 155.93H540.00V195.30H539.00ZM540.00 165.97H542.00V191.40H540.00ZM542.00 166.06H543.00V195.30H542.00ZM543.00 163.81H545.00V191.40H543.00ZM545.00 157.42H546.00V194.98H545.00ZM546.00 157.12H547.00V194.98H546.00ZM547.00 157.22H549.00V191.88H547.00ZM549.00 146.92H550.00V191.88H549.00ZM550.00 146.83H552.00V191.88H550.00ZM552.00 162.78H553.00V194.98H552.00ZM553.00 161.89H554.80V194.98H553.00ZM556.20 152.51H558.00V194.98H556.20ZM558.00 152.99H560.00V194.98H558.00ZM560.00 169.93H561.30V195.30H560.00ZM566.80 163.35H568.00V195.30H566.80ZM568.00 163.32H570.00V195.30H568.00ZM570.00 158.36H571.00V195.30H570.00ZM571.00 158.46H573.00V195.30H571.00ZM573.00 157.37H574.00V195.30H573.00ZM574.00 158.10H576.00V195.30H574.00ZM576.00 157.94H577.00V195.30H576.00ZM577.00 160.45H579.00V195.30H577.00ZM579.00 161.52H580.00V195.30H579.00ZM580.00 161.79H581.00V195.30H580.00ZM581.00 157.71H583.00V195.30H581.00ZM583.00 164.36H584.00V195.30H583.00ZM584.00 164.70H586.00V195.30H584.00ZM586.00 155.25H587.00V195.30H586.00ZM587.00 151.39H589.00V195.30H587.00ZM589.00 151.34H590.00V195.30H589.00ZM590.00 162.86H591.70V195.30H590.00ZM592.90 157.50H594.00V195.30H592.90ZM594.00 157.39H596.00V195.30H594.00ZM596.00 163.44H597.00V195.30H596.00ZM597.00 163.73H599.00V195.30H597.00ZM599.00 159.68H600.00V195.30H599.00ZM600.00 161.21H602.00V195.30H600.00ZM602.00 161.12H603.00V195.30H602.00ZM603.00 163.42H605.00V195.30H603.00ZM605.00 163.39H606.00V195.30H605.00ZM606.00 161.74H608.00V195.30H606.00ZM608.00 164.43H609.00V195.30H608.00ZM609.00 164.33H610.00V194.98H609.00ZM610.00 162.41H612.00V194.98H610.00ZM612.00 162.21H613.00V195.30H612.00ZM613.00 163.39H615.00V195.30H613.00ZM615.00 157.54H616.00V194.98H615.00ZM616.00 174.44H618.00V195.30H616.00ZM618.00 161.42H619.00V194.98H618.00ZM619.00 161.55H621.00V195.30H619.00ZM621.00 163.54H622.00V195.30H621.00ZM622.00 162.34H624.00V195.30H622.00ZM624.00 162.32H625.00V195.30H624.00ZM625.00 159.86H627.00V195.30H625.00ZM627.00 159.82H628.00V195.30H627.00ZM628.00 161.28H630.00V195.30H628.00ZM630.00 156.32H631.00V195.30H630.00ZM631.00 156.24H632.00V195.30H631.00ZM632.00 155.65H634.00V195.30H632.00ZM634.00 155.61H635.00V195.30H634.00ZM635.00 164.26H637.00V195.30H635.00ZM637.00 158.27H638.00V195.30H637.00ZM638.00 158.25H640.00V195.30H638.00ZM640.00 161.89H641.00V195.30H640.00ZM641.00 161.59H643.00V195.30H641.00ZM643.00 153.73H644.00V195.30H643.00ZM644.00 162.71H646.00V195.30H644.00ZM646.00 163.07H647.00V195.30H646.00ZM647.00 161.89H649.00V195.30H647.00ZM649.00 161.93H650.00V195.30H649.00ZM650.00 157.56H652.00V195.30H650.00ZM652.00 164.31H653.00V195.30H652.00ZM653.00 164.46H654.00V195.30H653.00ZM654.00 160.40H655.90V195.30H654.00ZM659.60 158.22H661.00V195.30H659.60ZM661.00 158.71H662.00V195.30H661.00ZM662.00 156.33H664.00V195.30H662.00ZM664.00 156.58H665.00V195.30H664.00ZM665.00 159.37H666.30V195.30H665.00Z"/>
<path fill="#6F6F6F" d="M81.10 128.99H83.00V131.59H81.10ZM262.00 115.21H264.00V117.81H262.00ZM264.00 116.59H265.50V119.19H264.00ZM327.00 123.29H328.00V125.39H327.00ZM328.00 125.36H330.00V127.46H328.00ZM438.00 125.05H440.00V128.15H438.00ZM440.00 129.87H441.00V132.97H440.00ZM481.00 124.55H482.00V128.15H481.00ZM482.00 124.55H483.80V128.15H482.00ZM641.00 125.36H643.00V127.46H641.00Z"/>
<path fill="#EE5FA0" d="M36.00 41.29H38.20V74.67H36.00ZM39.60 60.61H41.70V74.67H39.60ZM41.70 70.52H44.50V74.67H41.70ZM44.50 72.61H47.30V74.67H44.50ZM47.30 62.69H48.70V74.67H47.30ZM60.60 67.91H63.40V74.67H60.60ZM63.40 73.66H66.90V74.67H63.40ZM66.90 60.61H69.70V74.67H66.90ZM71.10 68.44H73.90V74.67H71.10ZM75.00 46.51H77.40V74.67H75.00ZM77.40 60.61H79.50V74.67H77.40ZM79.50 47.03H82.30V74.67H79.50ZM82.30 72.09H84.00V74.67H82.30ZM99.80 69.48H104.70V74.67H99.80ZM106.10 62.17H109.20V74.67H106.10ZM126.90 74.18H129.70V74.70H126.90ZM133.20 66.87H135.70V74.67H133.20ZM135.70 71.05H137.80V74.67H135.70ZM137.80 42.86H139.90V74.67H137.80ZM141.30 61.65H144.10V74.67H141.30ZM166.10 66.35H168.90V74.67H166.10ZM172.40 72.61H175.20V74.67H172.40ZM197.00 62.69H199.80V74.67H197.00ZM211.70 64.78H214.10V74.67H211.70ZM236.20 71.57H239.00V74.67H236.20ZM263.30 67.91H266.10V74.67H263.30ZM269.20 70.52H272.00V74.67H269.20ZM275.50 62.17H278.00V74.67H275.50ZM279.70 64.26H282.20V74.67H279.70ZM288.10 61.65H290.90V74.67H288.10ZM302.10 37.12H305.20V74.67H302.10ZM335.10 62.69H337.90V74.67H335.10ZM343.50 70.52H346.00V74.67H343.50ZM362.10 50.17H364.90V74.67H362.10ZM387.00 71.57H389.80V74.67H387.00ZM393.30 67.91H395.70V74.67H393.30ZM395.70 58.00H397.90V74.67H395.70ZM399.30 70.52H402.10V74.67H399.30ZM411.90 39.20H414.70V74.67H411.90ZM444.70 70.52H447.20V74.67H444.70ZM447.20 41.29H449.60V74.67H447.20ZM451.00 61.65H453.80V74.67H451.00ZM485.80 64.26H488.60V74.67H485.80ZM490.00 64.78H492.50V74.67H490.00ZM492.50 37.12H494.50V74.67H492.50ZM494.50 47.03H497.30V74.67H494.50ZM498.40 49.64H501.20V74.67H498.40ZM510.70 51.73H513.50V74.67H510.70ZM555.90 65.30H561.10V73.73H555.90ZM37.90 117.90H39.00V134.80H37.90ZM39.00 117.90H40.20V134.80H39.00ZM43.90 133.06H45.00V134.80H43.90ZM45.00 133.06H47.00V134.80H45.00ZM47.00 132.37H48.50V134.80H47.00ZM50.30 132.37H52.00V134.80H50.30ZM52.00 132.37H53.00V134.80H52.00ZM53.00 132.37H55.00V134.80H53.00ZM56.50 133.06H58.00V134.80H56.50ZM58.00 133.06H60.00V134.80H58.00ZM60.00 132.37H61.00V134.80H60.00ZM61.00 130.30H62.90V134.80H61.00ZM68.00 131.68H69.00V134.80H68.00ZM69.00 131.68H71.00V134.80H69.00ZM71.00 131.68H72.00V134.80H71.00ZM81.10 130.99H83.00V134.80H81.10ZM83.00 130.99H84.00V134.80H83.00ZM84.00 133.06H85.70V134.80H84.00ZM87.70 124.10H89.00V134.80H87.70ZM89.00 127.55H91.00V134.80H89.00ZM91.00 127.55H92.00V134.80H91.00ZM92.00 115.56H94.00V134.80H92.00ZM94.00 124.79H95.00V134.80H94.00ZM95.00 120.66H96.00V134.80H95.00ZM96.00 125.48H98.00V134.80H96.00ZM98.00 132.37H99.00V134.80H98.00ZM104.00 126.86H105.00V131.59H104.00ZM105.00 126.86H106.80V131.59H105.00ZM112.60 124.10H114.00V134.80H112.60ZM114.00 124.10H115.00V134.80H114.00ZM115.00 124.10H117.00V134.80H115.00ZM117.00 123.41H118.00V134.80H117.00ZM118.00 124.10H120.00V134.80H118.00ZM122.80 125.48H124.00V134.80H122.80ZM124.00 125.48H126.00V134.80H124.00ZM126.00 125.48H127.00V134.80H126.00ZM132.00 123.41H133.00V134.80H132.00ZM133.00 115.83H135.00V134.80H133.00ZM135.00 115.83H136.00V134.80H135.00ZM136.00 130.99H138.00V134.80H136.00ZM138.00 130.99H139.00V134.80H138.00ZM139.00 130.99H141.00V134.80H139.00ZM141.00 128.93H142.00V134.80H141.00ZM142.00 127.55H144.00V134.80H142.00ZM144.00 117.21H145.00V134.80H144.00ZM145.00 117.21H147.00V134.80H145.00ZM147.00 125.48H148.00V134.80H147.00ZM148.00 128.24H150.00V134.80H148.00ZM150.00 128.24H151.00V134.80H150.00ZM151.00 121.35H153.00V134.80H151.00ZM153.00 133.75H154.00V134.80H153.00ZM154.00 128.24H156.00V134.80H154.00ZM156.00 128.24H157.00V134.80H156.00ZM157.00 132.37H159.00V134.80H157.00ZM159.00 115.83H160.00V134.80H159.00ZM160.00 115.83H162.00V134.80H160.00ZM162.00 132.37H163.00V134.80H162.00ZM163.00 130.99H164.00V134.80H163.00ZM164.00 126.17H166.00V134.80H164.00ZM166.00 126.17H167.00V134.80H166.00ZM167.00 133.75H169.00V134.80H167.00ZM172.00 124.79H173.00V134.80H172.00ZM173.00 132.37H174.90V134.80H173.00ZM179.20 124.79H181.00V134.80H179.20ZM181.00 124.79H182.00V134.80H181.00ZM184.00 126.86H185.00V134.80H184.00ZM185.00 126.86H186.00V134.80H185.00ZM188.00 132.37H189.00V134.80H188.00ZM189.00 128.93H191.00V134.80H189.00ZM191.00 128.93H192.00V134.80H191.00ZM192.00 122.72H194.00V134.80H192.00ZM194.00 122.72H195.20V134.80H194.00ZM197.10 128.24H199.00V134.80H197.10ZM199.00 128.24H200.00V134.80H199.00ZM200.00 127.55H202.00V134.80H200.00ZM202.00 127.55H203.00V134.80H202.00ZM203.00 131.68H205.00V134.80H203.00ZM205.00 131.68H206.00V134.80H205.00ZM206.00 132.37H207.00V134.80H206.00ZM207.00 132.37H209.00V134.80H207.00ZM209.00 130.99H210.00V134.80H209.00ZM210.00 130.99H212.00V134.80H210.00ZM212.00 129.61H213.00V134.80H212.00ZM213.00 129.61H215.00V134.80H213.00ZM215.00 123.41H216.00V134.80H215.00ZM216.00 123.41H218.00V134.80H216.00ZM218.00 127.55H219.00V134.80H218.00ZM219.00 127.55H221.00V134.80H219.00ZM221.00 128.24H222.00V134.80H221.00ZM222.00 128.24H224.00V134.80H222.00ZM224.00 128.24H225.00V134.80H224.00ZM225.00 128.24H227.00V134.80H225.00ZM227.00 112.39H228.00V134.80H227.00ZM228.00 112.39H230.00V134.80H228.00ZM230.00 122.72H231.00V134.80H230.00ZM231.00 122.72H233.00V134.80H231.00ZM233.00 119.28H234.00V134.80H233.00ZM234.00 119.28H236.00V134.80H234.00ZM236.00 125.48H237.00V134.80H236.00ZM237.00 125.48H239.00V134.80H237.00ZM239.00 115.83H240.00V134.80H239.00ZM240.00 115.83H242.00V134.80H240.00ZM242.00 132.37H243.00V134.80H242.00ZM248.00 127.55H250.00V134.80H248.00ZM250.00 128.24H252.00V134.80H250.00ZM252.00 133.75H253.10V134.80H252.00ZM254.90 133.06H256.00V134.80H254.90ZM256.00 133.06H258.00V134.80H256.00ZM258.00 128.93H259.00V134.80H258.00ZM259.00 130.99H261.00V134.80H259.00ZM261.00 132.37H262.00V134.80H261.00ZM262.00 117.21H264.00V134.80H262.00ZM264.00 118.59H265.50V134.80H264.00ZM271.40 127.55H273.00V134.80H271.40ZM273.00 127.55H274.00V134.80H273.00ZM274.00 128.93H276.00V134.80H274.00ZM276.00 128.93H277.00V134.80H276.00ZM277.00 133.06H279.00V134.80H277.00ZM279.00 133.06H280.00V134.80H279.00ZM280.00 119.97H282.00V134.80H280.00ZM282.00 119.97H283.00V134.80H282.00ZM283.00 126.86H285.00V134.80H283.00ZM285.00 133.75H286.00V134.80H285.00ZM286.00 133.75H288.00V134.80H286.00ZM288.00 131.68H289.00V134.80H288.00ZM289.00 131.68H290.00V134.80H289.00ZM290.00 124.79H292.00V134.80H290.00ZM292.00 124.79H293.00V134.80H292.00ZM293.00 133.75H295.00V134.80H293.00ZM295.00 133.75H296.00V134.80H295.00ZM296.00 117.21H298.00V134.80H296.00ZM298.00 127.55H299.00V134.80H298.00ZM299.00 127.55H301.00V134.80H299.00ZM301.00 129.61H302.00V134.80H301.00ZM302.00 129.61H304.00V134.80H302.00ZM304.00 131.68H305.00V134.80H304.00ZM305.00 131.68H307.00V134.80H305.00ZM307.00 127.55H308.00V134.80H307.00ZM308.00 127.55H310.00V134.80H308.00ZM310.00 133.75H311.00V134.80H310.00ZM315.20 133.75H317.00V134.80H315.20ZM317.00 133.75H318.00V134.80H317.00ZM318.00 123.41H320.00V134.80H318.00ZM320.00 133.06H321.00V134.80H320.00ZM321.00 133.06H322.00V134.80H321.00ZM322.00 132.37H323.80V134.80H322.00ZM325.20 124.79H327.00V134.80H325.20ZM327.00 124.79H328.00V134.80H327.00ZM328.00 126.86H330.00V134.80H328.00ZM330.00 126.86H331.00V134.80H330.00ZM331.00 130.30H333.00V134.80H331.00ZM333.00 130.30H334.00V134.80H333.00ZM334.00 113.08H336.00V134.80H334.00ZM336.00 113.08H337.00V134.80H336.00ZM337.00 122.03H339.00V134.80H337.00ZM339.00 122.03H340.00V134.80H339.00ZM340.00 131.68H341.80V134.80H340.00ZM343.60 126.86H345.00V134.80H343.60ZM345.00 126.86H347.00V134.80H345.00ZM347.00 121.35H348.00V134.80H347.00ZM348.00 121.35H350.00V134.80H348.00ZM350.00 132.37H351.00V134.80H350.00ZM351.00 132.37H353.00V134.80H351.00ZM353.00 126.86H354.00V134.80H353.00ZM354.00 126.86H356.00V134.80H354.00ZM356.00 133.06H357.00V134.80H356.00ZM357.00 133.06H359.00V134.80H357.00ZM362.00 129.61H363.00V134.80H362.00ZM363.00 129.61H365.00V134.80H363.00ZM365.00 133.06H366.00V134.80H365.00ZM366.00 133.06H368.00V134.80H366.00ZM368.00 128.24H369.00V134.80H368.00ZM372.50 127.55H374.00V134.80H372.50ZM374.00 127.55H375.00V134.80H374.00ZM375.00 133.06H377.00V134.80H375.00ZM377.00 133.06H378.00V134.80H377.00ZM378.00 131.68H380.00V134.80H378.00ZM380.00 131.68H381.00V134.80H380.00ZM381.00 118.59H383.00V134.80H381.00ZM383.00 118.59H384.00V134.80H383.00ZM384.00 127.55H385.00V134.80H384.00ZM385.00 127.55H387.00V134.80H385.00ZM387.00 128.24H388.00V134.80H387.00ZM388.00 128.24H390.00V134.80H388.00ZM390.00 131.68H391.00V134.80H390.00ZM391.00 130.99H393.00V134.80H391.00ZM393.00 130.99H394.00V134.80H393.00ZM394.00 124.10H396.00V134.80H394.00ZM396.00 124.10H397.00V134.80H396.00ZM397.00 132.37H398.00V134.80H397.00ZM398.00 132.37H400.00V134.80H398.00ZM400.00 128.93H401.00V134.80H400.00ZM401.00 128.93H403.00V134.80H401.00ZM403.00 126.86H404.00V134.80H403.00ZM404.00 126.86H406.00V134.80H404.00ZM406.00 132.37H407.00V134.80H406.00ZM407.00 132.37H409.00V134.80H407.00ZM409.00 130.30H410.00V134.80H409.00ZM412.00 126.17H413.00V134.80H412.00ZM413.00 126.17H415.00V134.80H413.00ZM418.00 127.55H419.00V134.80H418.00ZM419.00 127.55H420.30V134.80H419.00ZM424.20 121.35H426.00V134.80H424.20ZM426.00 121.35H427.00V134.80H426.00ZM432.70 130.30H434.00V134.80H432.70ZM434.00 130.30H436.00V134.80H434.00ZM436.00 117.21H437.00V134.80H436.00ZM437.00 127.55H438.00V134.80H437.00ZM438.00 127.55H440.00V134.80H438.00ZM440.00 132.37H441.00V134.80H440.00ZM441.00 128.24H443.00V134.80H441.00ZM443.00 114.45H444.00V134.80H443.00ZM444.00 114.45H446.00V134.80H444.00ZM446.00 128.24H447.00V134.80H446.00ZM447.00 130.30H449.00V134.80H447.00ZM449.00 114.45H450.00V134.80H449.00ZM450.00 114.45H452.00V134.80H450.00ZM452.00 125.48H453.00V134.80H452.00ZM453.00 128.24H454.00V134.80H453.00ZM454.00 128.24H456.00V134.80H454.00ZM456.00 132.37H457.00V134.80H456.00ZM457.00 124.10H459.00V134.80H457.00ZM459.00 130.99H460.00V134.80H459.00ZM460.00 130.99H462.00V134.80H460.00ZM462.00 132.37H463.00V134.80H462.00ZM463.00 127.55H465.00V134.80H463.00ZM465.00 132.37H466.00V134.80H465.00ZM466.00 132.37H467.00V134.80H466.00ZM467.00 119.97H469.00V134.80H467.00ZM469.00 130.99H470.30V134.80H469.00ZM473.80 126.86H475.00V134.80H473.80ZM475.00 126.86H477.00V134.80H475.00ZM477.00 126.86H478.00V134.80H477.00ZM478.00 133.06H480.00V134.80H478.00ZM480.00 133.06H481.00V134.80H480.00ZM481.00 127.55H482.00V134.80H481.00ZM482.00 127.55H483.80V134.80H482.00ZM485.90 132.37H487.00V134.80H485.90ZM487.00 132.37H489.00V134.80H487.00ZM489.00 104.12H490.00V134.80H489.00ZM490.00 104.12H492.00V134.80H490.00ZM492.00 128.93H493.00V134.80H492.00ZM493.00 132.37H495.00V134.80H493.00ZM495.00 132.37H496.00V134.80H495.00ZM496.00 117.90H498.00V134.80H496.00ZM498.00 117.90H499.00V134.80H498.00ZM499.00 125.48H501.00V134.80H499.00ZM501.00 132.37H502.00V134.80H501.00ZM502.00 132.37H503.00V134.80H502.00ZM503.00 121.35H505.00V134.80H503.00ZM505.00 121.35H506.00V134.80H505.00ZM506.00 124.10H508.00V134.80H506.00ZM508.00 119.97H509.00V134.80H508.00ZM509.00 119.97H511.00V134.80H509.00ZM511.00 131.68H512.00V134.80H511.00ZM512.00 131.68H514.00V134.80H512.00ZM514.00 119.97H515.00V134.80H514.00ZM515.00 132.37H517.00V134.80H515.00ZM517.00 132.37H518.00V134.80H517.00ZM518.00 132.37H519.60V134.80H518.00ZM523.10 127.55H525.00V134.80H523.10ZM525.00 127.55H526.00V134.80H525.00ZM526.00 127.55H528.00V134.80H526.00ZM528.00 133.75H529.00V134.80H528.00ZM529.00 133.75H530.00V134.80H529.00ZM530.00 133.06H532.00V134.80H530.00ZM532.00 133.06H533.00V134.80H532.00ZM533.00 132.37H535.00V134.80H533.00ZM535.00 132.37H536.00V134.80H535.00ZM536.00 127.55H538.00V134.80H536.00ZM538.00 127.55H539.00V134.80H538.00ZM539.00 127.55H541.00V134.80H539.00ZM544.00 126.86H545.00V134.80H544.00ZM545.00 126.86H547.00V134.80H545.00ZM547.00 133.75H548.00V134.80H547.00ZM548.00 133.75H550.00V134.80H548.00ZM550.00 121.35H551.00V134.80H550.00ZM551.00 121.35H553.00V134.80H551.00ZM553.00 121.35H554.00V134.80H553.00ZM554.00 133.06H556.00V134.80H554.00ZM556.00 133.06H557.00V134.80H556.00ZM557.00 126.86H559.00V134.80H557.00ZM559.00 126.86H560.00V134.80H559.00ZM560.00 129.61H562.00V134.80H560.00ZM562.00 129.61H563.00V134.80H562.00ZM566.50 123.41H568.00V134.80H566.50ZM568.00 123.41H569.00V134.80H568.00ZM569.00 117.90H571.00V134.80H569.00ZM571.00 117.90H572.00V134.80H571.00ZM572.00 114.45H574.00V134.80H572.00ZM574.00 114.45H575.00V134.80H574.00ZM575.00 124.10H577.00V134.80H575.00ZM577.00 130.30H578.00V134.80H577.00ZM578.00 130.30H580.00V134.80H578.00ZM580.00 126.86H581.00V134.80H580.00ZM581.00 126.86H583.00V134.80H581.00ZM583.00 128.24H584.00V134.80H583.00ZM584.00 128.24H586.00V134.80H584.00ZM586.00 132.37H587.00V134.80H586.00ZM587.00 125.48H589.00V134.80H587.00ZM589.00 125.48H590.00V134.80H589.00ZM590.00 131.68H592.00V134.80H590.00ZM592.00 131.68H593.00V134.80H592.00ZM593.00 128.93H595.00V134.80H593.00ZM595.00 133.06H596.00V134.80H595.00ZM596.00 133.06H598.00V134.80H596.00ZM598.00 129.61H599.00V134.80H598.00ZM599.00 129.61H601.00V134.80H599.00ZM601.00 122.72H602.00V134.80H601.00ZM602.00 122.72H604.00V134.80H602.00ZM604.00 129.61H605.00V134.80H604.00ZM605.00 121.35H606.00V134.80H605.00ZM606.00 121.35H608.00V134.80H606.00ZM608.00 130.99H609.00V134.80H608.00ZM609.00 130.99H611.00V134.80H609.00ZM611.00 127.55H612.40V134.80H611.00ZM614.20 126.86H616.00V134.80H614.20ZM616.00 126.86H617.00V134.80H616.00ZM617.00 126.86H619.00V134.80H617.00ZM619.00 124.10H620.00V134.80H619.00ZM620.00 124.10H622.00V134.80H620.00ZM622.00 125.48H623.00V134.80H622.00ZM623.00 125.48H625.00V134.80H623.00ZM625.00 126.86H626.00V134.80H625.00ZM626.00 126.86H628.00V134.80H626.00ZM628.00 124.79H629.00V134.80H628.00ZM629.00 124.79H630.70V134.80H629.00ZM634.10 132.37H636.00V134.80H634.10ZM636.00 132.37H637.00V134.80H636.00ZM641.00 126.86H643.00V134.80H641.00ZM643.00 126.86H644.00V134.80H643.00ZM644.00 113.08H646.00V134.80H644.00ZM647.00 114.45H648.00V134.80H647.00ZM648.00 114.45H649.70V134.80H648.00ZM650.80 117.90H652.00V134.80H650.80ZM652.00 117.90H653.90V134.80H652.00ZM655.20 132.37H657.00V134.80H655.20ZM657.00 132.37H658.00V134.80H657.00ZM658.00 124.10H659.00V134.80H658.00ZM659.00 124.10H661.00V134.80H659.00ZM661.00 125.48H662.10V134.80H661.00ZM666.50 122.72H668.30V134.80H666.50ZM35.90 190.32H37.00V195.30H35.90ZM41.00 188.39H42.30V195.30H41.00ZM48.00 194.38H50.00V195.30H48.00ZM50.00 190.32H51.00V195.30H50.00ZM51.00 190.32H53.00V195.30H51.00ZM53.00 190.32H54.00V195.30H53.00ZM56.00 193.90H57.00V195.30H56.00ZM60.00 186.94H62.00V195.30H60.00ZM65.00 194.38H66.00V195.30H65.00ZM66.00 190.32H68.00V195.30H66.00ZM79.00 191.76H81.00V195.30H79.00ZM84.00 194.38H85.00V195.30H84.00ZM88.00 185.01H90.00V192.25H88.00ZM97.00 193.90H99.00V195.30H97.00ZM99.00 193.90H100.00V195.30H99.00ZM105.00 193.90H106.00V195.30H105.00ZM108.00 194.38H109.10V195.30H108.00ZM112.20 178.26H114.00V179.86H112.20ZM115.00 194.38H116.00V195.30H115.00ZM118.00 194.38H119.00V195.30H118.00ZM121.00 194.38H122.00V195.30H121.00ZM122.00 194.38H124.00V195.30H122.00ZM124.00 194.38H125.00V195.30H124.00ZM125.00 194.38H127.00V195.30H125.00ZM127.00 194.38H128.00V195.30H127.00ZM128.00 194.38H129.40V195.30H128.00ZM134.00 194.38H136.00V195.30H134.00ZM139.00 186.46H140.00V195.30H139.00ZM140.00 186.46H142.00V195.30H140.00ZM142.00 192.25H143.00V195.30H142.00ZM143.00 192.25H145.00V195.30H143.00ZM147.80 193.90H149.00V195.30H147.80ZM151.00 193.90H152.20V195.30H151.00ZM153.80 189.83H155.00V195.30H153.80ZM155.00 189.83H157.00V195.30H155.00ZM157.00 194.38H158.00V195.30H157.00ZM162.00 193.90H163.00V195.30H162.00ZM163.00 190.32H164.60V192.94H163.00ZM166.20 194.38H168.00V195.30H166.20ZM169.00 194.38H171.00V195.30H169.00ZM171.00 194.38H172.00V195.30H171.00ZM172.00 194.38H173.00V195.30H172.00ZM173.00 194.38H174.90V195.30H173.00ZM178.20 185.14H180.00V186.74H178.20ZM180.00 187.42H181.00V195.30H180.00ZM181.00 188.39H183.00V195.30H181.00ZM183.00 185.14H184.00V186.74H183.00ZM184.00 194.38H185.00V195.30H184.00ZM185.00 194.38H187.00V195.30H185.00ZM190.00 194.38H191.00V195.30H190.00ZM191.00 194.38H193.00V195.30H191.00ZM193.00 194.38H194.00V195.30H193.00ZM194.00 193.90H195.00V195.30H194.00ZM195.00 193.90H197.00V195.30H195.00ZM197.00 194.38H198.00V195.30H197.00ZM203.00 194.38H204.00V195.30H203.00ZM204.00 194.38H206.00V195.30H204.00ZM207.00 193.90H208.00V195.30H207.00ZM211.50 190.80H213.00V195.30H211.50ZM214.00 190.80H216.00V195.30H214.00ZM221.90 192.25H223.00V195.30H221.90ZM223.00 192.25H225.00V195.30H223.00ZM228.00 183.09H229.00V195.30H228.00ZM232.00 194.38H233.00V195.30H232.00ZM236.40 193.42H238.00V195.30H236.40ZM238.00 193.42H240.00V195.30H238.00ZM240.00 190.80H241.00V195.30H240.00ZM241.00 190.80H243.00V195.30H241.00ZM246.90 189.96H248.00V191.56H246.90ZM250.00 191.76H251.00V195.30H250.00ZM253.10 191.34H255.00V192.94H253.10ZM255.00 193.42H256.00V195.30H255.00ZM259.00 192.25H260.00V195.30H259.00ZM266.00 193.90H267.60V195.30H266.00ZM271.00 189.83H272.00V195.30H271.00ZM272.00 190.80H274.00V195.30H272.00ZM274.00 190.80H275.80V195.30H274.00ZM277.90 189.35H279.00V195.30H277.90ZM281.00 189.35H282.00V195.30H281.00ZM304.00 193.90H305.00V195.30H304.00ZM314.90 188.59H316.00V190.19H314.90ZM316.00 190.80H317.60V195.30H316.00ZM327.00 191.28H329.00V195.30H327.00ZM329.00 191.28H330.00V195.30H329.00ZM332.00 191.28H333.50V195.30H332.00ZM335.10 194.38H337.00V195.30H335.10ZM337.00 194.38H338.00V195.30H337.00ZM341.80 188.39H343.00V195.30H341.80ZM343.00 188.39H345.00V195.30H343.00ZM346.00 194.38H348.00V195.30H346.00ZM348.00 194.38H349.00V195.30H348.00ZM351.00 190.80H352.00V195.30H351.00ZM352.00 193.90H354.00V195.30H352.00ZM354.00 193.90H355.00V195.30H354.00ZM357.00 190.32H358.00V195.30H357.00ZM358.00 190.32H360.00V195.30H358.00ZM361.00 193.90H363.00V195.30H361.00ZM366.00 191.76H367.00V195.30H366.00ZM367.00 191.76H368.60V195.30H367.00ZM380.00 188.87H381.00V195.30H380.00ZM381.00 194.38H383.00V195.30H381.00ZM383.00 194.38H384.00V195.30H383.00ZM384.00 193.90H386.00V195.30H384.00ZM386.00 193.90H387.00V195.30H386.00ZM389.00 193.42H390.00V195.30H389.00ZM390.00 191.76H392.00V195.30H390.00ZM392.00 191.76H393.00V195.30H392.00ZM393.00 194.38H394.00V195.30H393.00ZM394.00 194.38H395.90V195.30H394.00ZM400.00 189.35H402.00V195.30H400.00ZM406.00 191.28H408.00V195.30H406.00ZM413.00 193.90H415.00V195.30H413.00ZM415.00 193.90H416.00V195.30H415.00ZM416.00 193.90H418.00V195.30H416.00ZM424.20 190.65H426.00V192.25H424.20ZM426.00 191.76H426.90V195.30H426.00ZM433.00 194.38H435.00V195.30H433.00ZM435.00 194.38H436.00V195.30H435.00ZM441.00 192.25H442.00V195.30H441.00ZM442.00 192.25H444.00V195.30H442.00ZM444.00 194.38H445.00V195.30H444.00ZM445.00 194.38H447.00V195.30H445.00ZM447.00 188.39H448.00V195.30H447.00ZM448.00 188.39H450.00V195.30H448.00ZM450.00 186.94H451.00V195.30H450.00ZM451.00 186.94H452.00V195.30H451.00ZM452.00 194.38H454.00V195.30H452.00ZM464.00 194.38H466.00V195.30H464.00ZM480.00 188.59H481.00V190.19H480.00ZM483.00 194.38H484.00V195.30H483.00ZM487.00 192.25H489.00V195.30H487.00ZM489.00 192.25H490.00V195.30H489.00ZM490.00 190.32H492.00V195.30H490.00ZM492.00 188.59H493.00V190.19H492.00ZM509.00 194.38H511.00V195.30H509.00ZM511.00 194.38H512.00V195.30H511.00ZM514.00 191.76H515.00V195.30H514.00ZM515.00 191.76H517.00V195.30H515.00ZM518.00 194.38H519.60V195.30H518.00ZM523.10 193.71H524.00V194.32H523.10ZM524.00 193.71H525.80V195.30H524.00ZM540.00 190.80H542.00V195.30H540.00ZM543.00 190.80H545.00V195.30H543.00ZM545.00 194.38H546.00V195.30H545.00ZM546.00 194.38H547.00V195.30H546.00ZM547.00 191.28H549.00V195.30H547.00ZM549.00 191.28H550.00V195.30H549.00ZM550.00 191.28H552.00V195.30H550.00ZM552.00 194.38H553.00V195.30H552.00ZM553.00 194.38H554.80V195.30H553.00ZM556.20 194.38H558.00V195.30H556.20ZM558.00 194.38H560.00V195.30H558.00ZM609.00 194.38H610.00V195.30H609.00ZM610.00 194.38H612.00V195.30H610.00ZM615.00 194.38H616.00V195.30H615.00ZM618.00 194.38H619.00V195.30H618.00Z"/>
<path fill="#93CDD0" d="M555.90 73.13H561.10V74.67H555.90ZM104.00 130.99H105.00V134.35H104.00ZM105.00 130.99H106.80V134.35H105.00Z"/>
<path fill="#5A83B8" d="M36.00 74.07H38.20V74.70H36.00ZM39.60 74.07H41.70V74.70H39.60ZM41.70 74.07H44.50V74.70H41.70ZM44.50 74.07H47.30V74.70H44.50ZM47.30 74.07H48.70V74.70H47.30ZM54.30 74.07H57.10V74.70H54.30ZM60.60 74.07H63.40V74.70H60.60ZM63.40 74.07H66.90V74.70H63.40ZM66.90 74.07H69.70V74.70H66.90ZM71.10 74.07H73.90V74.70H71.10ZM75.00 74.07H77.40V74.70H75.00ZM77.40 74.07H79.50V74.70H77.40ZM79.50 74.07H82.30V74.70H79.50ZM82.30 74.07H84.00V74.70H82.30ZM99.80 74.07H104.70V74.70H99.80ZM106.10 74.07H109.20V74.70H106.10ZM112.40 74.07H115.00V74.70H112.40ZM126.90 74.18H129.70V74.70H126.90ZM133.20 74.07H135.70V74.70H133.20ZM135.70 74.07H137.80V74.70H135.70ZM137.80 74.07H139.90V74.70H137.80ZM141.30 74.07H144.10V74.70H141.30ZM166.10 74.07H168.90V74.70H166.10ZM172.40 74.07H175.20V74.70H172.40ZM178.90 74.07H181.60V74.70H178.90ZM197.00 74.07H199.80V74.70H197.00ZM211.70 74.07H214.10V74.70H211.70ZM236.20 74.07H239.00V74.70H236.20ZM263.30 74.07H266.10V74.70H263.30ZM269.20 74.07H272.00V74.70H269.20ZM275.50 74.07H278.00V74.70H275.50ZM279.70 74.07H282.20V74.70H279.70ZM288.10 74.07H290.90V74.70H288.10ZM302.10 74.07H305.20V74.70H302.10ZM335.10 74.07H337.90V74.70H335.10ZM343.50 74.07H346.00V74.70H343.50ZM362.10 74.07H364.90V74.70H362.10ZM373.20 74.07H375.00V74.70H373.20ZM387.00 74.07H389.80V74.70H387.00ZM393.30 74.07H395.70V74.70H393.30ZM395.70 74.07H397.90V74.70H395.70ZM399.30 74.07H402.10V74.70H399.30ZM411.90 74.07H414.70V74.70H411.90ZM444.70 74.07H447.20V74.70H444.70ZM447.20 74.07H449.60V74.70H447.20ZM451.00 74.07H453.80V74.70H451.00ZM485.80 74.07H488.60V74.70H485.80ZM490.00 74.07H492.50V74.70H490.00ZM492.50 74.07H494.50V74.70H492.50ZM494.50 74.07H497.30V74.70H494.50ZM498.40 74.07H501.20V74.70H498.40ZM510.70 74.07H513.50V74.70H510.70ZM523.30 74.07H526.10V74.70H523.30ZM555.90 74.07H561.10V74.70H555.90ZM37.90 134.20H39.00V134.80H37.90ZM39.00 134.20H40.20V134.80H39.00ZM43.90 134.20H45.00V134.80H43.90ZM45.00 134.20H47.00V134.80H45.00ZM47.00 134.20H48.50V134.80H47.00ZM50.30 134.20H52.00V134.80H50.30ZM52.00 134.20H53.00V134.80H52.00ZM53.00 134.20H55.00V134.80H53.00ZM56.50 134.20H58.00V134.80H56.50ZM58.00 134.20H60.00V134.80H58.00ZM60.00 134.20H61.00V134.80H60.00ZM61.00 134.20H62.90V134.80H61.00ZM65.00 134.20H66.00V134.80H65.00ZM66.00 134.20H68.00V134.80H66.00ZM68.00 134.20H69.00V134.80H68.00ZM69.00 134.20H71.00V134.80H69.00ZM71.00 134.20H72.00V134.80H71.00ZM72.00 134.20H73.30V134.80H72.00ZM81.10 134.20H83.00V134.80H81.10ZM83.00 134.20H84.00V134.80H83.00ZM84.00 134.20H85.70V134.80H84.00ZM87.70 134.20H89.00V134.80H87.70ZM89.00 134.20H91.00V134.80H89.00ZM91.00 134.20H92.00V134.80H91.00ZM92.00 134.20H94.00V134.80H92.00ZM94.00 134.20H95.00V134.80H94.00ZM95.00 134.20H96.00V134.80H95.00ZM96.00 134.20H98.00V134.80H96.00ZM98.00 134.20H99.00V134.80H98.00ZM99.00 134.20H100.80V134.80H99.00ZM104.00 133.75H105.00V134.80H104.00ZM105.00 133.75H106.80V134.80H105.00ZM112.60 134.20H114.00V134.80H112.60ZM114.00 134.20H115.00V134.80H114.00ZM115.00 134.20H117.00V134.80H115.00ZM117.00 134.20H118.00V134.80H117.00ZM118.00 134.20H120.00V134.80H118.00ZM120.00 134.20H120.90V134.80H120.00ZM122.80 134.20H124.00V134.80H122.80ZM124.00 134.20H126.00V134.80H124.00ZM126.00 134.20H127.00V134.80H126.00ZM127.00 134.20H129.00V134.80H127.00ZM129.00 134.20H130.00V134.80H129.00ZM130.00 134.20H132.00V134.80H130.00ZM132.00 134.20H133.00V134.80H132.00ZM133.00 134.20H135.00V134.80H133.00ZM135.00 134.20H136.00V134.80H135.00ZM136.00 134.20H138.00V134.80H136.00ZM138.00 134.20H139.00V134.80H138.00ZM139.00 134.20H141.00V134.80H139.00ZM141.00 134.20H142.00V134.80H141.00ZM142.00 134.20H144.00V134.80H142.00ZM144.00 134.20H145.00V134.80H144.00ZM145.00 134.20H147.00V134.80H145.00ZM147.00 134.20H148.00V134.80H147.00ZM148.00 134.20H150.00V134.80H148.00ZM150.00 134.20H151.00V134.80H150.00ZM151.00 134.20H153.00V134.80H151.00ZM153.00 134.20H154.00V134.80H153.00ZM154.00 134.20H156.00V134.80H154.00ZM156.00 134.20H157.00V134.80H156.00ZM157.00 134.20H159.00V134.80H157.00ZM159.00 134.20H160.00V134.80H159.00ZM160.00 134.20H162.00V134.80H160.00ZM162.00 134.20H163.00V134.80H162.00ZM163.00 134.20H164.00V134.80H163.00ZM164.00 134.20H166.00V134.80H164.00ZM166.00 134.20H167.00V134.80H166.00ZM167.00 134.20H169.00V134.80H167.00ZM169.00 134.20H170.00V134.80H169.00ZM170.00 134.20H172.00V134.80H170.00ZM172.00 134.20H173.00V134.80H172.00ZM173.00 134.20H174.90V134.80H173.00ZM179.20 134.20H181.00V134.80H179.20ZM181.00 134.20H182.00V134.80H181.00ZM182.00 134.20H184.00V134.80H182.00ZM184.00 134.20H185.00V134.80H184.00ZM185.00 134.20H186.00V134.80H185.00ZM186.00 134.20H188.00V134.80H186.00ZM188.00 134.20H189.00V134.80H188.00ZM189.00 134.20H191.00V134.80H189.00ZM191.00 134.20H192.00V134.80H191.00ZM192.00 134.20H194.00V134.80H192.00ZM194.00 134.20H195.20V134.80H194.00ZM197.10 134.20H199.00V134.80H197.10ZM199.00 134.20H200.00V134.80H199.00ZM200.00 134.20H202.00V134.80H200.00ZM202.00 134.20H203.00V134.80H202.00ZM203.00 134.20H205.00V134.80H203.00ZM205.00 134.20H206.00V134.80H205.00ZM206.00 134.20H207.00V134.80H206.00ZM207.00 134.20H209.00V134.80H207.00ZM209.00 134.20H210.00V134.80H209.00ZM210.00 134.20H212.00V134.80H210.00ZM212.00 134.20H213.00V134.80H212.00ZM213.00 134.20H215.00V134.80H213.00ZM215.00 134.20H216.00V134.80H215.00ZM216.00 134.20H218.00V134.80H216.00ZM218.00 134.20H219.00V134.80H218.00ZM219.00 134.20H221.00V134.80H219.00ZM221.00 134.20H222.00V134.80H221.00ZM222.00 134.20H224.00V134.80H222.00ZM224.00 134.20H225.00V134.80H224.00ZM225.00 134.20H227.00V134.80H225.00ZM227.00 134.20H228.00V134.80H227.00ZM228.00 134.20H230.00V134.80H228.00ZM230.00 134.20H231.00V134.80H230.00ZM231.00 134.20H233.00V134.80H231.00ZM233.00 134.20H234.00V134.80H233.00ZM234.00 134.20H236.00V134.80H234.00ZM236.00 134.20H237.00V134.80H236.00ZM237.00 134.20H239.00V134.80H237.00ZM239.00 134.20H240.00V134.80H239.00ZM240.00 134.20H242.00V134.80H240.00ZM242.00 134.20H243.00V134.80H242.00ZM246.90 134.20H248.00V134.80H246.90ZM248.00 134.20H250.00V134.80H248.00ZM250.00 134.20H252.00V134.80H250.00ZM252.00 134.20H253.10V134.80H252.00ZM254.90 134.20H256.00V134.80H254.90ZM256.00 134.20H258.00V134.80H256.00ZM258.00 134.20H259.00V134.80H258.00ZM259.00 134.20H261.00V134.80H259.00ZM261.00 134.20H262.00V134.80H261.00ZM262.00 134.20H264.00V134.80H262.00ZM264.00 134.20H265.50V134.80H264.00ZM267.20 134.20H268.00V134.80H267.20ZM268.00 134.20H269.60V134.80H268.00ZM271.40 134.20H273.00V134.80H271.40ZM273.00 134.20H274.00V134.80H273.00ZM274.00 134.20H276.00V134.80H274.00ZM276.00 134.20H277.00V134.80H276.00ZM277.00 134.20H279.00V134.80H277.00ZM279.00 134.20H280.00V134.80H279.00ZM280.00 134.20H282.00V134.80H280.00ZM282.00 134.20H283.00V134.80H282.00ZM283.00 134.20H285.00V134.80H283.00ZM285.00 134.20H286.00V134.80H285.00ZM286.00 134.20H288.00V134.80H286.00ZM288.00 134.20H289.00V134.80H288.00ZM289.00 134.20H290.00V134.80H289.00ZM290.00 134.20H292.00V134.80H290.00ZM292.00 134.20H293.00V134.80H292.00ZM293.00 134.20H295.00V134.80H293.00ZM295.00 134.20H296.00V134.80H295.00ZM296.00 134.20H298.00V134.80H296.00ZM298.00 134.20H299.00V134.80H298.00ZM299.00 134.20H301.00V134.80H299.00ZM301.00 134.20H302.00V134.80H301.00ZM302.00 134.20H304.00V134.80H302.00ZM304.00 134.20H305.00V134.80H304.00ZM305.00 134.20H307.00V134.80H305.00ZM307.00 134.20H308.00V134.80H307.00ZM308.00 134.20H310.00V134.80H308.00ZM310.00 134.20H311.00V134.80H310.00ZM315.20 134.20H317.00V134.80H315.20ZM317.00 134.20H318.00V134.80H317.00ZM318.00 134.20H320.00V134.80H318.00ZM320.00 134.20H321.00V134.80H320.00ZM321.00 134.20H322.00V134.80H321.00ZM322.00 134.20H323.80V134.80H322.00ZM325.20 134.20H327.00V134.80H325.20ZM327.00 134.20H328.00V134.80H327.00ZM328.00 134.20H330.00V134.80H328.00ZM330.00 134.20H331.00V134.80H330.00ZM331.00 134.20H333.00V134.80H331.00ZM333.00 134.20H334.00V134.80H333.00ZM334.00 134.20H336.00V134.80H334.00ZM336.00 134.20H337.00V134.80H336.00ZM337.00 134.20H339.00V134.80H337.00ZM339.00 134.20H340.00V134.80H339.00ZM340.00 134.20H341.80V134.80H340.00ZM343.60 134.20H345.00V134.80H343.60ZM345.00 134.20H347.00V134.80H345.00ZM347.00 134.20H348.00V134.80H347.00ZM348.00 134.20H350.00V134.80H348.00ZM350.00 134.20H351.00V134.80H350.00ZM351.00 134.20H353.00V134.80H351.00ZM353.00 134.20H354.00V134.80H353.00ZM354.00 134.20H356.00V134.80H354.00ZM356.00 134.20H357.00V134.80H356.00ZM357.00 134.20H359.00V134.80H357.00ZM362.00 134.20H363.00V134.80H362.00ZM363.00 134.20H365.00V134.80H363.00ZM365.00 134.20H366.00V134.80H365.00ZM366.00 134.20H368.00V134.80H366.00ZM368.00 134.20H369.00V134.80H368.00ZM372.50 134.20H374.00V134.80H372.50ZM374.00 134.20H375.00V134.80H374.00ZM375.00 134.20H377.00V134.80H375.00ZM377.00 134.20H378.00V134.80H377.00ZM378.00 134.20H380.00V134.80H378.00ZM380.00 134.20H381.00V134.80H380.00ZM381.00 134.20H383.00V134.80H381.00ZM383.00 134.20H384.00V134.80H383.00ZM384.00 134.20H385.00V134.80H384.00ZM385.00 134.20H387.00V134.80H385.00ZM387.00 134.20H388.00V134.80H387.00ZM388.00 134.20H390.00V134.80H388.00ZM390.00 134.20H391.00V134.80H390.00ZM391.00 134.20H393.00V134.80H391.00ZM393.00 134.20H394.00V134.80H393.00ZM394.00 134.20H396.00V134.80H394.00ZM396.00 134.20H397.00V134.80H396.00ZM397.00 134.20H398.00V134.80H397.00ZM398.00 134.20H400.00V134.80H398.00ZM400.00 134.20H401.00V134.80H400.00ZM401.00 134.20H403.00V134.80H401.00ZM403.00 134.20H404.00V134.80H403.00ZM404.00 134.20H406.00V134.80H404.00ZM406.00 134.20H407.00V134.80H406.00ZM407.00 134.20H409.00V134.80H407.00ZM409.00 134.20H410.00V134.80H409.00ZM412.00 134.20H413.00V134.80H412.00ZM413.00 134.20H415.00V134.80H413.00ZM415.00 134.20H416.00V134.80H415.00ZM416.00 134.20H418.00V134.80H416.00ZM418.00 134.20H419.00V134.80H418.00ZM419.00 134.20H420.30V134.80H419.00ZM424.20 134.20H426.00V134.80H424.20ZM426.00 134.20H427.00V134.80H426.00ZM427.00 134.20H429.00V134.80H427.00ZM429.00 134.20H430.60V134.80H429.00ZM432.70 134.20H434.00V134.80H432.70ZM434.00 134.20H436.00V134.80H434.00ZM436.00 134.20H437.00V134.80H436.00ZM437.00 134.20H438.00V134.80H437.00ZM438.00 134.20H440.00V134.80H438.00ZM440.00 134.20H441.00V134.80H440.00ZM441.00 134.20H443.00V134.80H441.00ZM443.00 134.20H444.00V134.80H443.00ZM444.00 134.20H446.00V134.80H444.00ZM446.00 134.20H447.00V134.80H446.00ZM447.00 134.20H449.00V134.80H447.00ZM449.00 134.20H450.00V134.80H449.00ZM450.00 134.20H452.00V134.80H450.00ZM452.00 134.20H453.00V134.80H452.00ZM453.00 134.20H454.00V134.80H453.00ZM454.00 134.20H456.00V134.80H454.00ZM456.00 134.20H457.00V134.80H456.00ZM457.00 134.20H459.00V134.80H457.00ZM459.00 134.20H460.00V134.80H459.00ZM460.00 134.20H462.00V134.80H460.00ZM462.00 134.20H463.00V134.80H462.00ZM463.00 134.20H465.00V134.80H463.00ZM465.00 134.20H466.00V134.80H465.00ZM466.00 134.20H467.00V134.80H466.00ZM467.00 134.20H469.00V134.80H467.00ZM469.00 134.20H470.30V134.80H469.00ZM473.80 134.20H475.00V134.80H473.80ZM475.00 134.20H477.00V134.80H475.00ZM477.00 134.20H478.00V134.80H477.00ZM478.00 134.20H480.00V134.80H478.00ZM480.00 134.20H481.00V134.80H480.00ZM481.00 134.20H482.00V134.80H481.00ZM482.00 134.20H483.80V134.80H482.00ZM485.90 134.20H487.00V134.80H485.90ZM487.00 134.20H489.00V134.80H487.00ZM489.00 134.20H490.00V134.80H489.00ZM490.00 134.20H492.00V134.80H490.00ZM492.00 134.20H493.00V134.80H492.00ZM493.00 134.20H495.00V134.80H493.00ZM495.00 134.20H496.00V134.80H495.00ZM496.00 134.20H498.00V134.80H496.00ZM498.00 134.20H499.00V134.80H498.00ZM499.00 134.20H501.00V134.80H499.00ZM501.00 134.20H502.00V134.80H501.00ZM502.00 134.20H503.00V134.80H502.00ZM503.00 134.20H505.00V134.80H503.00ZM505.00 134.20H506.00V134.80H505.00ZM506.00 134.20H508.00V134.80H506.00ZM508.00 134.20H509.00V134.80H508.00ZM509.00 134.20H511.00V134.80H509.00ZM511.00 134.20H512.00V134.80H511.00ZM512.00 134.20H514.00V134.80H512.00ZM514.00 134.20H515.00V134.80H514.00ZM515.00 134.20H517.00V134.80H515.00ZM517.00 134.20H518.00V134.80H517.00ZM518.00 134.20H519.60V134.80H518.00ZM523.10 134.20H525.00V134.80H523.10ZM525.00 134.20H526.00V134.80H525.00ZM526.00 134.20H528.00V134.80H526.00ZM528.00 134.20H529.00V134.80H528.00ZM529.00 134.20H530.00V134.80H529.00ZM530.00 134.20H532.00V134.80H530.00ZM532.00 134.20H533.00V134.80H532.00ZM533.00 134.20H535.00V134.80H533.00ZM535.00 134.20H536.00V134.80H535.00ZM536.00 134.20H538.00V134.80H536.00ZM538.00 134.20H539.00V134.80H538.00ZM539.00 134.20H541.00V134.80H539.00ZM541.00 134.20H542.00V134.80H541.00ZM542.00 134.20H544.00V134.80H542.00ZM544.00 134.20H545.00V134.80H544.00ZM545.00 134.20H547.00V134.80H545.00ZM547.00 134.20H548.00V134.80H547.00ZM548.00 134.20H550.00V134.80H548.00ZM550.00 134.20H551.00V134.80H550.00ZM551.00 134.20H553.00V134.80H551.00ZM553.00 134.20H554.00V134.80H553.00ZM554.00 134.20H556.00V134.80H554.00ZM556.00 134.20H557.00V134.80H556.00ZM557.00 134.20H559.00V134.80H557.00ZM559.00 134.20H560.00V134.80H559.00ZM560.00 134.20H562.00V134.80H560.00ZM562.00 134.20H563.00V134.80H562.00ZM566.50 134.20H568.00V134.80H566.50ZM568.00 134.20H569.00V134.80H568.00ZM569.00 134.20H571.00V134.80H569.00ZM571.00 134.20H572.00V134.80H571.00ZM572.00 134.20H574.00V134.80H572.00ZM574.00 134.20H575.00V134.80H574.00ZM575.00 134.20H577.00V134.80H575.00ZM577.00 134.20H578.00V134.80H577.00ZM578.00 134.20H580.00V134.80H578.00ZM580.00 134.20H581.00V134.80H580.00ZM581.00 134.20H583.00V134.80H581.00ZM583.00 134.20H584.00V134.80H583.00ZM584.00 134.20H586.00V134.80H584.00ZM586.00 134.20H587.00V134.80H586.00ZM587.00 134.20H589.00V134.80H587.00ZM589.00 134.20H590.00V134.80H589.00ZM590.00 134.20H592.00V134.80H590.00ZM592.00 134.20H593.00V134.80H592.00ZM593.00 134.20H595.00V134.80H593.00ZM595.00 134.20H596.00V134.80H595.00ZM596.00 134.20H598.00V134.80H596.00ZM598.00 134.20H599.00V134.80H598.00ZM599.00 134.20H601.00V134.80H599.00ZM601.00 134.20H602.00V134.80H601.00ZM602.00 134.20H604.00V134.80H602.00ZM604.00 134.20H605.00V134.80H604.00ZM605.00 134.20H606.00V134.80H605.00ZM606.00 134.20H608.00V134.80H606.00ZM608.00 134.20H609.00V134.80H608.00ZM609.00 134.20H611.00V134.80H609.00ZM611.00 134.20H612.40V134.80H611.00ZM614.20 134.20H616.00V134.80H614.20ZM616.00 134.20H617.00V134.80H616.00ZM617.00 134.20H619.00V134.80H617.00ZM619.00 134.20H620.00V134.80H619.00ZM620.00 134.20H622.00V134.80H620.00ZM622.00 134.20H623.00V134.80H622.00ZM623.00 134.20H625.00V134.80H623.00ZM625.00 134.20H626.00V134.80H625.00ZM626.00 134.20H628.00V134.80H626.00ZM628.00 134.20H629.00V134.80H628.00ZM629.00 134.20H630.70V134.80H629.00ZM634.10 134.20H636.00V134.80H634.10ZM636.00 134.20H637.00V134.80H636.00ZM641.00 134.20H643.00V134.80H641.00ZM643.00 134.20H644.00V134.80H643.00ZM644.00 134.20H646.00V134.80H644.00ZM647.00 134.20H648.00V134.80H647.00ZM648.00 134.20H649.70V134.80H648.00ZM650.80 134.20H652.00V134.80H650.80ZM652.00 134.20H653.90V134.80H652.00ZM655.20 134.20H657.00V134.80H655.20ZM657.00 134.20H658.00V134.80H657.00ZM658.00 134.20H659.00V134.80H658.00ZM659.00 134.20H661.00V134.80H659.00ZM661.00 134.20H662.10V134.80H661.00ZM666.50 134.20H668.30V134.80H666.50ZM35.90 194.70H37.00V195.30H35.90ZM37.90 194.70H39.00V195.30H37.90ZM39.00 194.70H41.00V195.30H39.00ZM41.00 194.70H42.30V195.30H41.00ZM43.90 194.70H45.00V195.30H43.90ZM45.00 194.70H47.00V195.30H45.00ZM47.00 194.70H48.00V195.30H47.00ZM48.00 194.70H50.00V195.30H48.00ZM50.00 194.70H51.00V195.30H50.00ZM51.00 194.70H53.00V195.30H51.00ZM53.00 194.70H54.00V195.30H53.00ZM54.00 194.70H56.00V195.30H54.00ZM56.00 194.70H57.00V195.30H56.00ZM57.00 194.70H59.00V195.30H57.00ZM59.00 194.70H60.00V195.30H59.00ZM60.00 194.70H62.00V195.30H60.00ZM62.00 194.70H63.00V195.30H62.00ZM63.00 194.70H65.00V195.30H63.00ZM65.00 194.70H66.00V195.30H65.00ZM66.00 194.70H68.00V195.30H66.00ZM68.00 194.70H69.00V195.30H68.00ZM69.00 194.70H71.00V195.30H69.00ZM71.00 194.70H72.00V195.30H71.00ZM72.00 194.70H74.00V195.30H72.00ZM74.00 194.70H75.00V195.30H74.00ZM75.00 194.70H76.00V195.30H75.00ZM76.00 194.70H78.00V195.30H76.00ZM78.00 194.70H79.00V195.30H78.00ZM79.00 194.70H81.00V195.30H79.00ZM81.00 194.70H82.00V195.30H81.00ZM82.00 194.70H84.00V195.30H82.00ZM84.00 194.70H85.00V195.30H84.00ZM85.00 194.70H87.00V195.30H85.00ZM87.00 194.70H88.00V195.30H87.00ZM88.00 191.65H90.00V195.30H88.00ZM90.00 194.70H91.00V195.30H90.00ZM91.00 194.70H93.00V195.30H91.00ZM93.00 194.70H94.00V195.30H93.00ZM94.00 194.70H96.00V195.30H94.00ZM96.00 194.70H97.00V195.30H96.00ZM97.00 194.70H99.00V195.30H97.00ZM99.00 194.70H100.00V195.30H99.00ZM100.00 194.70H102.00V195.30H100.00ZM102.00 194.70H103.00V195.30H102.00ZM103.00 194.70H105.00V195.30H103.00ZM105.00 194.70H106.00V195.30H105.00ZM106.00 194.70H108.00V195.30H106.00ZM108.00 194.70H109.10V195.30H108.00ZM112.20 179.26H114.00V195.30H112.20ZM114.00 194.70H115.00V195.30H114.00ZM115.00 194.70H116.00V195.30H115.00ZM116.00 194.70H118.00V195.30H116.00ZM118.00 194.70H119.00V195.30H118.00ZM119.00 194.70H121.00V195.30H119.00ZM121.00 194.70H122.00V195.30H121.00ZM122.00 194.70H124.00V195.30H122.00ZM124.00 194.70H125.00V195.30H124.00ZM125.00 194.70H127.00V195.30H125.00ZM127.00 194.70H128.00V195.30H127.00ZM128.00 194.70H129.40V195.30H128.00ZM131.10 194.70H133.00V195.30H131.10ZM133.00 194.70H134.00V195.30H133.00ZM134.00 194.70H136.00V195.30H134.00ZM136.00 194.70H137.00V195.30H136.00ZM137.00 194.70H139.00V195.30H137.00ZM139.00 194.70H140.00V195.30H139.00ZM140.00 194.70H142.00V195.30H140.00ZM142.00 194.70H143.00V195.30H142.00ZM143.00 194.70H145.00V195.30H143.00ZM145.00 194.70H146.00V195.30H145.00ZM147.80 194.70H149.00V195.30H147.80ZM149.00 194.70H151.00V195.30H149.00ZM151.00 194.70H152.20V195.30H151.00ZM153.80 194.70H155.00V195.30H153.80ZM155.00 194.70H157.00V195.30H155.00ZM157.00 194.70H158.00V195.30H157.00ZM158.00 194.70H160.00V195.30H158.00ZM160.00 194.70H162.00V195.30H160.00ZM162.00 194.70H163.00V195.30H162.00ZM163.00 192.34H164.60V195.30H163.00ZM166.20 194.70H168.00V195.30H166.20ZM168.00 194.70H169.00V195.30H168.00ZM169.00 194.70H171.00V195.30H169.00ZM171.00 194.70H172.00V195.30H171.00ZM172.00 194.70H173.00V195.30H172.00ZM173.00 194.70H174.90V195.30H173.00ZM178.20 186.14H180.00V195.30H178.20ZM180.00 194.70H181.00V195.30H180.00ZM181.00 194.70H183.00V195.30H181.00ZM183.00 186.14H184.00V195.30H183.00ZM184.00 194.70H185.00V195.30H184.00ZM185.00 194.70H187.00V195.30H185.00ZM187.00 194.70H188.00V195.30H187.00ZM188.00 194.70H190.00V195.30H188.00ZM190.00 194.70H191.00V195.30H190.00ZM191.00 194.70H193.00V195.30H191.00ZM193.00 194.70H194.00V195.30H193.00ZM194.00 194.70H195.00V195.30H194.00ZM195.00 194.70H197.00V195.30H195.00ZM197.00 194.70H198.00V195.30H197.00ZM198.00 194.70H200.00V195.30H198.00ZM200.00 194.70H201.00V195.30H200.00ZM201.00 194.70H203.00V195.30H201.00ZM203.00 194.70H204.00V195.30H203.00ZM204.00 194.70H206.00V195.30H204.00ZM206.00 194.70H207.00V195.30H206.00ZM207.00 194.70H208.00V195.30H207.00ZM208.00 194.70H209.90V195.30H208.00ZM211.50 194.70H213.00V195.30H211.50ZM213.00 194.70H214.00V195.30H213.00ZM214.00 194.70H216.00V195.30H214.00ZM216.00 194.70H217.00V195.30H216.00ZM217.00 194.70H219.00V195.30H217.00ZM219.00 194.70H220.20V195.30H219.00ZM221.90 194.70H223.00V195.30H221.90ZM223.00 194.70H225.00V195.30H223.00ZM225.00 194.70H226.00V195.30H225.00ZM226.00 194.70H228.00V195.30H226.00ZM228.00 194.70H229.00V195.30H228.00ZM229.00 194.70H230.00V195.30H229.00ZM230.00 194.70H232.00V195.30H230.00ZM232.00 194.70H233.00V195.30H232.00ZM233.00 194.70H234.70V195.30H233.00ZM236.40 194.70H238.00V195.30H236.40ZM238.00 194.70H240.00V195.30H238.00ZM240.00 194.70H241.00V195.30H240.00ZM241.00 194.70H243.00V195.30H241.00ZM246.90 190.96H248.00V195.30H246.90ZM248.00 194.70H250.00V195.30H248.00ZM250.00 194.70H251.00V195.30H250.00ZM253.10 192.34H255.00V195.30H253.10ZM255.00 194.70H256.00V195.30H255.00ZM256.00 194.70H257.00V195.30H256.00ZM257.00 194.70H259.00V195.30H257.00ZM259.00 194.70H260.00V195.30H259.00ZM260.00 194.70H262.00V195.30H260.00ZM262.00 194.70H263.00V195.30H262.00ZM263.00 194.70H265.00V195.30H263.00ZM265.00 194.70H266.00V195.30H265.00ZM266.00 194.70H267.60V195.30H266.00ZM269.20 194.70H271.00V195.30H269.20ZM271.00 194.70H272.00V195.30H271.00ZM272.00 194.70H274.00V195.30H272.00ZM274.00 194.70H275.80V195.30H274.00ZM277.90 194.70H279.00V195.30H277.90ZM279.00 194.70H281.00V195.30H279.00ZM281.00 194.70H282.00V195.30H281.00ZM282.00 194.70H284.00V195.30H282.00ZM284.00 194.70H285.00V195.30H284.00ZM285.00 194.70H287.00V195.30H285.00ZM287.00 194.70H288.20V195.30H287.00ZM289.90 194.70H292.00V195.30H289.90ZM292.00 194.70H293.00V195.30H292.00ZM293.00 194.70H294.70V195.30H293.00ZM296.20 194.70H298.00V195.30H296.20ZM298.00 194.70H299.00V195.30H298.00ZM299.00 194.70H301.00V195.30H299.00ZM301.00 188.90H302.00V195.30H301.00ZM302.00 194.70H304.00V195.30H302.00ZM304.00 194.70H305.00V195.30H304.00ZM305.00 194.70H307.00V195.30H305.00ZM307.00 194.70H308.00V195.30H307.00ZM308.00 194.70H310.00V195.30H308.00ZM310.00 194.70H311.00V195.30H310.00ZM314.90 189.59H316.00V195.30H314.90ZM316.00 194.70H317.60V195.30H316.00ZM321.10 194.70H323.00V195.30H321.10ZM323.00 194.70H324.00V195.30H323.00ZM324.00 194.70H326.00V195.30H324.00ZM326.00 194.70H327.00V195.30H326.00ZM327.00 194.70H329.00V195.30H327.00ZM329.00 194.70H330.00V195.30H329.00ZM330.00 194.70H332.00V195.30H330.00ZM332.00 194.70H333.50V195.30H332.00ZM335.10 194.70H337.00V195.30H335.10ZM337.00 194.70H338.00V195.30H337.00ZM338.00 194.70H340.00V195.30H338.00ZM341.80 194.70H343.00V195.30H341.80ZM343.00 194.70H345.00V195.30H343.00ZM345.00 194.70H346.00V195.30H345.00ZM346.00 194.70H348.00V195.30H346.00ZM348.00 194.70H349.00V195.30H348.00ZM349.00 188.90H351.00V195.30H349.00ZM351.00 194.70H352.00V195.30H351.00ZM352.00 194.70H354.00V195.30H352.00ZM354.00 194.70H355.00V195.30H354.00ZM355.00 194.70H357.00V195.30H355.00ZM357.00 194.70H358.00V195.30H357.00ZM358.00 194.70H360.00V195.30H358.00ZM360.00 194.70H361.00V195.30H360.00ZM361.00 194.70H363.00V195.30H361.00ZM363.00 194.70H364.00V195.30H363.00ZM364.00 188.90H366.00V195.30H364.00ZM366.00 194.70H367.00V195.30H366.00ZM367.00 194.70H368.60V195.30H367.00ZM372.20 194.70H374.00V195.30H372.20ZM374.00 194.70H374.80V195.30H374.00ZM378.50 186.83H380.00V195.30H378.50ZM380.00 194.70H381.00V195.30H380.00ZM381.00 194.70H383.00V195.30H381.00ZM383.00 194.70H384.00V195.30H383.00ZM384.00 194.70H386.00V195.30H384.00ZM386.00 194.70H387.00V195.30H386.00ZM387.00 194.70H389.00V195.30H387.00ZM389.00 194.70H390.00V195.30H389.00ZM390.00 194.70H392.00V195.30H390.00ZM392.00 194.70H393.00V195.30H392.00ZM393.00 194.70H394.00V195.30H393.00ZM394.00 194.70H395.90V195.30H394.00ZM397.30 194.70H399.00V195.30H397.30ZM399.00 194.70H400.00V195.30H399.00ZM400.00 194.70H402.00V195.30H400.00ZM402.00 194.70H403.00V195.30H402.00ZM403.00 188.21H405.00V195.30H403.00ZM405.00 194.70H406.00V195.30H405.00ZM406.00 194.70H408.00V195.30H406.00ZM408.00 194.70H409.00V195.30H408.00ZM409.00 194.70H410.00V195.30H409.00ZM410.00 188.21H412.00V195.30H410.00ZM412.00 194.70H413.00V195.30H412.00ZM413.00 194.70H415.00V195.30H413.00ZM415.00 194.70H416.00V195.30H415.00ZM416.00 194.70H418.00V195.30H416.00ZM418.00 194.70H419.00V195.30H418.00ZM419.00 194.70H420.70V195.30H419.00ZM424.20 191.65H426.00V195.30H424.20ZM426.00 194.70H426.90V195.30H426.00ZM430.20 194.70H432.00V195.30H430.20ZM432.00 194.70H433.00V195.30H432.00ZM433.00 194.70H435.00V195.30H433.00ZM435.00 194.70H436.00V195.30H435.00ZM436.00 194.70H438.00V195.30H436.00ZM438.00 194.70H439.00V195.30H438.00ZM439.00 194.70H441.00V195.30H439.00ZM441.00 194.70H442.00V195.30H441.00ZM442.00 194.70H444.00V195.30H442.00ZM444.00 194.70H445.00V195.30H444.00ZM445.00 194.70H447.00V195.30H445.00ZM447.00 194.70H448.00V195.30H447.00ZM448.00 194.70H450.00V195.30H448.00ZM450.00 194.70H451.00V195.30H450.00ZM451.00 194.70H452.00V195.30H451.00ZM452.00 194.70H454.00V195.30H452.00ZM454.00 194.70H455.00V195.30H454.00ZM455.00 194.70H457.00V195.30H455.00ZM457.00 194.70H458.00V195.30H457.00ZM458.00 194.70H460.00V195.30H458.00ZM460.00 194.70H461.00V195.30H460.00ZM461.00 194.70H463.00V195.30H461.00ZM463.00 194.70H464.00V195.30H463.00ZM464.00 194.70H466.00V195.30H464.00ZM466.00 194.70H467.00V195.30H466.00ZM467.00 194.70H469.00V195.30H467.00ZM469.00 194.70H470.30V195.30H469.00ZM473.80 190.96H475.00V195.30H473.80ZM475.00 194.70H476.50V195.30H475.00ZM480.00 189.59H481.00V195.30H480.00ZM481.00 194.70H483.00V195.30H481.00ZM483.00 194.70H484.00V195.30H483.00ZM484.00 194.70H486.00V195.30H484.00ZM486.00 194.70H487.00V195.30H486.00ZM487.00 194.70H489.00V195.30H487.00ZM489.00 194.70H490.00V195.30H489.00ZM490.00 194.70H492.00V195.30H490.00ZM492.00 189.59H493.00V195.30H492.00ZM498.60 194.70H500.00V195.30H498.60ZM500.00 194.70H502.00V195.30H500.00ZM502.00 194.70H503.00V195.30H502.00ZM504.80 194.70H506.00V195.30H504.80ZM506.00 194.70H508.00V195.30H506.00ZM508.00 194.70H509.00V195.30H508.00ZM509.00 194.70H511.00V195.30H509.00ZM511.00 194.70H512.00V195.30H511.00ZM512.00 194.70H514.00V195.30H512.00ZM514.00 194.70H515.00V195.30H514.00ZM515.00 194.70H517.00V195.30H515.00ZM517.00 194.70H518.00V195.30H517.00ZM518.00 194.70H519.60V195.30H518.00ZM523.10 193.72H524.00V195.30H523.10ZM524.00 194.70H525.80V195.30H524.00ZM527.20 194.70H529.00V195.30H527.20ZM529.00 194.70H530.00V195.30H529.00ZM530.00 194.70H532.00V195.30H530.00ZM535.80 194.70H537.00V195.30H535.80ZM537.00 194.70H539.00V195.30H537.00ZM539.00 194.70H540.00V195.30H539.00ZM540.00 194.70H542.00V195.30H540.00ZM542.00 194.70H543.00V195.30H542.00ZM543.00 194.70H545.00V195.30H543.00ZM545.00 194.70H546.00V195.30H545.00ZM546.00 194.70H547.00V195.30H546.00ZM547.00 194.70H549.00V195.30H547.00ZM549.00 194.70H550.00V195.30H549.00ZM550.00 194.70H552.00V195.30H550.00ZM552.00 194.70H553.00V195.30H552.00ZM553.00 194.70H554.80V195.30H553.00ZM556.20 194.70H558.00V195.30H556.20ZM558.00 194.70H560.00V195.30H558.00ZM560.00 194.70H561.30V195.30H560.00ZM566.80 194.70H568.00V195.30H566.80ZM568.00 194.70H570.00V195.30H568.00ZM570.00 194.70H571.00V195.30H570.00ZM571.00 194.70H573.00V195.30H571.00ZM573.00 194.70H574.00V195.30H573.00ZM574.00 194.70H576.00V195.30H574.00ZM576.00 194.70H577.00V195.30H576.00ZM577.00 194.70H579.00V195.30H577.00ZM579.00 194.70H580.00V195.30H579.00ZM580.00 194.70H581.00V195.30H580.00ZM581.00 194.70H583.00V195.30H581.00ZM583.00 194.70H584.00V195.30H583.00ZM584.00 194.70H586.00V195.30H584.00ZM586.00 194.70H587.00V195.30H586.00ZM587.00 194.70H589.00V195.30H587.00ZM589.00 194.70H590.00V195.30H589.00ZM590.00 194.70H591.70V195.30H590.00ZM592.90 194.70H594.00V195.30H592.90ZM594.00 194.70H596.00V195.30H594.00ZM596.00 194.70H597.00V195.30H596.00ZM597.00 194.70H599.00V195.30H597.00ZM599.00 194.70H600.00V195.30H599.00ZM600.00 194.70H602.00V195.30H600.00ZM602.00 194.70H603.00V195.30H602.00ZM603.00 194.70H605.00V195.30H603.00ZM605.00 194.70H606.00V195.30H605.00ZM606.00 194.70H608.00V195.30H606.00ZM608.00 194.70H609.00V195.30H608.00ZM609.00 194.70H610.00V195.30H609.00ZM610.00 194.70H612.00V195.30H610.00ZM612.00 194.70H613.00V195.30H612.00ZM613.00 194.70H615.00V195.30H613.00ZM615.00 194.70H616.00V195.30H615.00ZM616.00 194.70H618.00V195.30H616.00ZM618.00 194.70H619.00V195.30H618.00ZM619.00 194.70H621.00V195.30H619.00ZM621.00 194.70H622.00V195.30H621.00ZM622.00 194.70H624.00V195.30H622.00ZM624.00 194.70H625.00V195.30H624.00ZM625.00 194.70H627.00V195.30H625.00ZM627.00 194.70H628.00V195.30H627.00ZM628.00 194.70H630.00V195.30H628.00ZM630.00 194.70H631.00V195.30H630.00ZM631.00 194.70H632.00V195.30H631.00ZM632.00 194.70H634.00V195.30H632.00ZM634.00 194.70H635.00V195.30H634.00ZM635.00 194.70H637.00V195.30H635.00ZM637.00 194.70H638.00V195.30H637.00ZM638.00 194.70H640.00V195.30H638.00ZM640.00 194.70H641.00V195.30H640.00ZM641.00 194.70H643.00V195.30H641.00ZM643.00 194.70H644.00V195.30H643.00ZM644.00 194.70H646.00V195.30H644.00ZM646.00 194.70H647.00V195.30H646.00ZM647.00 194.70H649.00V195.30H647.00ZM649.00 194.70H650.00V195.30H649.00ZM650.00 194.70H652.00V195.30H650.00ZM652.00 194.70H653.00V195.30H652.00ZM653.00 194.70H654.00V195.30H653.00ZM654.00 194.70H655.90V195.30H654.00ZM659.60 194.70H661.00V195.30H659.60ZM661.00 194.70H662.00V195.30H661.00ZM662.00 194.70H664.00V195.30H662.00ZM664.00 194.70H665.00V195.30H664.00ZM665.00 194.70H666.30V195.30H665.00Z"/>
<rect x="669.2" y="20.30" width="12.0" height="56.80" fill="#D9D9D9"/>
<text x="0" y="0" font-size="7.8" fill="#1A1A1A" stroke="none" text-anchor="middle" transform="translate(672.6 48.70) rotate(90)">Sputum N=57</text>
<rect x="669.2" y="80.40" width="12.0" height="57.20" fill="#D9D9D9"/>
<text x="0" y="0" font-size="7.8" fill="#1A1A1A" stroke="none" text-anchor="middle" transform="translate(672.6 109.00) rotate(90)">Throat N=252</text>
<rect x="669.2" y="140.70" width="12.0" height="56.80" fill="#D9D9D9"/>
<text x="0" y="0" font-size="7.8" fill="#1A1A1A" stroke="none" text-anchor="middle" transform="translate(672.6 169.10) rotate(90)">Stool N=251</text>
<text x="32.90" y="77.90" font-size="7.80" fill="#4D4D4D" stroke="#4D4D4D" text-anchor="end">0</text>
<text x="32.90" y="64.85" font-size="7.80" fill="#4D4D4D" stroke="#4D4D4D" text-anchor="end">25</text>
<text x="32.90" y="51.80" font-size="7.80" fill="#4D4D4D" stroke="#4D4D4D" text-anchor="end">50</text>
<text x="32.90" y="38.75" font-size="7.80" fill="#4D4D4D" stroke="#4D4D4D" text-anchor="end">75</text>
<text x="32.90" y="25.70" font-size="7.80" fill="#4D4D4D" stroke="#4D4D4D" text-anchor="end">100</text>
<text x="32.90" y="138.00" font-size="7.80" fill="#4D4D4D" stroke="#4D4D4D" text-anchor="end">0</text>
<text x="32.90" y="125.00" font-size="7.80" fill="#4D4D4D" stroke="#4D4D4D" text-anchor="end">25</text>
<text x="32.90" y="112.00" font-size="7.80" fill="#4D4D4D" stroke="#4D4D4D" text-anchor="end">50</text>
<text x="32.90" y="99.00" font-size="7.80" fill="#4D4D4D" stroke="#4D4D4D" text-anchor="end">75</text>
<text x="32.90" y="86.00" font-size="7.80" fill="#4D4D4D" stroke="#4D4D4D" text-anchor="end">100</text>
<text x="32.90" y="198.50" font-size="7.80" fill="#4D4D4D" stroke="#4D4D4D" text-anchor="end">0</text>
<text x="32.90" y="185.47" font-size="7.80" fill="#4D4D4D" stroke="#4D4D4D" text-anchor="end">25</text>
<text x="32.90" y="172.45" font-size="7.80" fill="#4D4D4D" stroke="#4D4D4D" text-anchor="end">50</text>
<text x="32.90" y="159.42" font-size="7.80" fill="#4D4D4D" stroke="#4D4D4D" text-anchor="end">75</text>
<text x="32.90" y="146.40" font-size="7.80" fill="#4D4D4D" stroke="#4D4D4D" text-anchor="end">100</text>
<text x="0" y="0" font-size="9.5" fill="#111" stroke="none" text-anchor="middle" transform="translate(16.3 109.0) rotate(-90)">Relative abundance (%)</text>
<text x="352.60" y="208.40" font-size="9.50" fill="#000" stroke="#000" text-anchor="middle">Participant</text>
<text x="110.90" y="223.00" font-size="9.50" fill="#000" stroke="#000" text-anchor="start">Phylum</text>
<rect x="146.00" y="210.50" width="6.6" height="7.2" fill="#0F7B8A"/>
<text x="156.40" y="217.10" font-size="8.25" fill="#000" stroke="#000" text-anchor="start">Actinobacteriota</text>
<rect x="146.00" y="222.00" width="6.6" height="7.2" fill="#2A9FB0"/>
<text x="156.40" y="228.60" font-size="8.25" fill="#000" stroke="#000" text-anchor="start">Bacteroidota</text>
<rect x="219.90" y="210.50" width="6.6" height="7.2" fill="#D2B42E"/>
<text x="230.30" y="217.10" font-size="8.25" fill="#000" stroke="#000" text-anchor="start">Campylobacterota</text>
<rect x="219.90" y="222.00" width="6.6" height="7.2" fill="#A39517"/>
<text x="230.30" y="228.60" font-size="8.25" fill="#000" stroke="#000" text-anchor="start">Cyanobacteria</text>
<rect x="301.60" y="210.50" width="6.6" height="7.2" fill="#C3769A"/>
<text x="312.00" y="217.10" font-size="8.25" fill="#000" stroke="#000" text-anchor="start">Desulfobacterota</text>
<rect x="301.60" y="222.00" width="6.6" height="7.2" fill="#67B3A3"/>
<text x="312.00" y="228.60" font-size="8.25" fill="#000" stroke="#000" text-anchor="start">Firmicutes</text>
<rect x="378.60" y="210.50" width="6.6" height="7.2" fill="#5CBB90"/>
<text x="389.00" y="217.10" font-size="8.25" fill="#000" stroke="#000" text-anchor="start">Fusobacteriota</text>
<rect x="378.60" y="222.00" width="6.6" height="7.2" fill="#6F6F6F"/>
<text x="389.00" y="228.60" font-size="8.25" fill="#000" stroke="#000" text-anchor="start">Patescibacteria</text>
<rect x="448.80" y="210.50" width="6.6" height="7.2" fill="#EE5FA0"/>
<text x="459.20" y="217.10" font-size="8.25" fill="#000" stroke="#000" text-anchor="start">Proteobacteria</text>
<rect x="448.80" y="222.00" width="6.6" height="7.2" fill="#93CDD0"/>
<text x="459.20" y="228.60" font-size="8.25" fill="#000" stroke="#000" text-anchor="start">Spirochaetota</text>
<rect x="516.80" y="210.50" width="6.6" height="7.2" fill="#5A83B8"/>
<text x="527.20" y="217.10" font-size="8.25" fill="#000" stroke="#000" text-anchor="start">Verrucomicrobiota</text>
<line x1="33.90" y1="246.60" x2="33.90" y2="380.60" stroke="#4D4D4D" stroke-width="1.0"/>
<line x1="33.40" y1="380.10" x2="136.30" y2="380.10" stroke="#4D4D4D" stroke-width="1.0"/>
<line x1="31.90" y1="279.10" x2="33.90" y2="279.10" stroke="#4D4D4D" stroke-width="0.8"/>
<text x="30.70" y="282.20" font-size="7.80" fill="#4D4D4D" stroke="#4D4D4D" text-anchor="end">0</text>
<line x1="31.90" y1="312.40" x2="33.90" y2="312.40" stroke="#4D4D4D" stroke-width="0.8"/>
<text x="30.70" y="315.50" font-size="7.80" fill="#4D4D4D" stroke="#4D4D4D" text-anchor="end">−25</text>
<line x1="31.90" y1="345.70" x2="33.90" y2="345.70" stroke="#4D4D4D" stroke-width="0.8"/>
<text x="30.70" y="348.80" font-size="7.80" fill="#4D4D4D" stroke="#4D4D4D" text-anchor="end">−50</text>
<line x1="31.90" y1="379.00" x2="33.90" y2="379.00" stroke="#4D4D4D" stroke-width="0.8"/>
<text x="30.70" y="382.10" font-size="7.80" fill="#4D4D4D" stroke="#4D4D4D" text-anchor="end">−75</text>
<line x1="45.40" y1="380.10" x2="45.40" y2="382.10" stroke="#4D4D4D" stroke-width="0.8"/>
<text x="45.40" y="389.00" font-size="7.80" fill="#4D4D4D" stroke="#4D4D4D" text-anchor="middle">0</text>
<line x1="65.20" y1="380.10" x2="65.20" y2="382.10" stroke="#4D4D4D" stroke-width="0.8"/>
<text x="65.20" y="389.00" font-size="7.80" fill="#4D4D4D" stroke="#4D4D4D" text-anchor="middle">3</text>
<line x1="85.00" y1="380.10" x2="85.00" y2="382.10" stroke="#4D4D4D" stroke-width="0.8"/>
<text x="85.00" y="389.00" font-size="7.80" fill="#4D4D4D" stroke="#4D4D4D" text-anchor="middle">12</text>
<line x1="104.80" y1="380.10" x2="104.80" y2="382.10" stroke="#4D4D4D" stroke-width="0.8"/>
<text x="104.80" y="389.00" font-size="7.80" fill="#4D4D4D" stroke="#4D4D4D" text-anchor="middle">18</text>
<line x1="124.60" y1="380.10" x2="124.60" y2="382.10" stroke="#4D4D4D" stroke-width="0.8"/>
<text x="124.60" y="389.00" font-size="7.80" fill="#4D4D4D" stroke="#4D4D4D" text-anchor="middle">24</text>
<text x="0" y="0" font-size="9.5" fill="#111" stroke="none" text-anchor="middle" transform="translate(16.20 313.30) rotate(-90)">Delta sweat chloride (mmol/l)</text>
<text x="3.60" y="245.70" font-size="11.80" fill="#000" stroke="#000" text-anchor="start">b</text>
<path d="M45.40 279.14L85.00 282.27M85.00 282.27L104.80 296.64M45.40 279.14L65.20 290.37M65.20 290.37L85.00 293.50M85.00 293.50L104.80 296.64M45.40 279.14L65.20 299.25M65.20 299.25L85.00 300.03M85.00 300.03L104.80 319.62M104.80 319.62L124.60 310.48M45.40 279.14L65.20 303.43M65.20 303.43L85.00 307.87M85.00 307.87L104.80 319.62M104.80 319.62L124.60 330.59M45.40 279.14L65.20 310.48M65.20 310.48L85.00 319.62M85.00 319.62L104.80 332.68M104.80 332.68L124.60 333.99M45.40 279.14L65.20 318.32M65.20 318.32L85.00 326.15M85.00 326.15L104.80 338.43M104.80 338.43L124.60 333.99M45.40 279.14L65.20 322.23M65.20 322.23L85.00 333.99M85.00 333.99L104.80 338.43M104.80 338.43L124.60 344.43M45.40 279.14L65.20 326.15M65.20 326.15L85.00 339.21M85.00 339.21L104.80 353.57M104.80 353.57L124.60 354.88M45.40 279.14L65.20 328.76M65.20 328.76L85.00 326.15M85.00 326.15L104.80 332.68M104.80 332.68L124.60 330.59M45.40 279.14L65.20 332.68M65.20 332.68L85.00 347.04M85.00 347.04L104.80 353.57M45.40 279.14L65.20 335.29M65.20 335.29L85.00 352.27M85.00 352.27L104.80 360.10M104.80 360.10L124.60 344.43M45.40 279.14L65.20 339.21M65.20 339.21L85.00 356.18M85.00 356.18L104.80 372.38M45.40 279.14L65.20 343.13M65.20 343.13L85.00 361.41M85.00 361.41L104.80 360.10M104.80 360.10L124.60 354.88M45.40 279.14L65.20 348.35M65.20 348.35L85.00 333.99M85.00 333.99L104.80 338.43M45.40 279.14L65.20 362.71M65.20 362.71L85.00 356.18M45.40 279.14L65.20 370.03M65.20 370.03L85.00 361.41M85.00 361.41L104.80 372.38M104.80 372.38L124.60 373.94M45.40 279.14L65.20 318.32M65.20 318.32L85.00 319.62M85.00 319.62L104.80 319.62M45.40 279.14L65.20 332.68M65.20 332.68L124.60 330.59M45.40 279.14L65.20 310.48M45.40 279.14L65.20 326.15M65.20 326.15L85.00 347.04M45.40 279.14L65.20 322.23M45.40 279.14L65.20 339.21M45.40 279.14L65.20 314.40M45.40 279.14L65.20 330.07M45.40 279.14L65.20 335.29M45.40 279.14L65.20 306.56M45.40 279.14L65.20 345.74M45.40 279.14L65.20 324.84" stroke="#5a5a5a" stroke-opacity="0.6" stroke-width="0.5" fill="none"/>
<line x1="38.10" y1="279.10" x2="52.70" y2="279.10" stroke="#333" stroke-width="1.6"/>
<path d="M65.20 290.40V317.00M65.20 337.40V362.70" stroke="#222" stroke-width="0.9"/>
<rect x="57.90" y="317.00" width="14.60" height="20.40" fill="#D9D36E" fill-opacity="0.8" stroke="#333333" stroke-width="0.8"/>
<line x1="57.90" y1="332.70" x2="72.50" y2="332.70" stroke="#222" stroke-width="1.1"/>
<path d="M85.00 293.50V323.50M85.00 349.10V361.40" stroke="#222" stroke-width="0.9"/>
<rect x="77.70" y="323.50" width="14.60" height="25.60" fill="#8FB0D8" fill-opacity="0.8" stroke="#333333" stroke-width="0.8"/>
<line x1="77.70" y1="334.00" x2="92.30" y2="334.00" stroke="#222" stroke-width="1.1"/>
<path d="M104.80 296.60V324.80M104.80 352.30V372.40" stroke="#222" stroke-width="0.9"/>
<rect x="97.50" y="324.80" width="14.60" height="27.50" fill="#D9A0BE" fill-opacity="0.8" stroke="#333333" stroke-width="0.8"/>
<line x1="97.50" y1="337.40" x2="112.10" y2="337.40" stroke="#222" stroke-width="1.1"/>
<path d="M124.60 329.50V332.20M124.60 346.50V355.70" stroke="#222" stroke-width="0.9"/>
<rect x="117.30" y="332.20" width="14.60" height="14.30" fill="#80C9A8" fill-opacity="0.8" stroke="#333333" stroke-width="0.8"/>
<line x1="117.30" y1="336.60" x2="131.90" y2="336.60" stroke="#222" stroke-width="1.1"/>
<path d="M45.40 279.14m-1.3 0a1.3 1.3 0 1 0 2.6 0a1.3 1.3 0 1 0 -2.6 0M85.00 282.27m-1.3 0a1.3 1.3 0 1 0 2.6 0a1.3 1.3 0 1 0 -2.6 0M104.80 296.64m-1.3 0a1.3 1.3 0 1 0 2.6 0a1.3 1.3 0 1 0 -2.6 0M45.40 279.14m-1.3 0a1.3 1.3 0 1 0 2.6 0a1.3 1.3 0 1 0 -2.6 0M65.20 290.37m-1.3 0a1.3 1.3 0 1 0 2.6 0a1.3 1.3 0 1 0 -2.6 0M85.00 293.50m-1.3 0a1.3 1.3 0 1 0 2.6 0a1.3 1.3 0 1 0 -2.6 0M104.80 296.64m-1.3 0a1.3 1.3 0 1 0 2.6 0a1.3 1.3 0 1 0 -2.6 0M45.40 279.14m-1.3 0a1.3 1.3 0 1 0 2.6 0a1.3 1.3 0 1 0 -2.6 0M65.20 299.25m-1.3 0a1.3 1.3 0 1 0 2.6 0a1.3 1.3 0 1 0 -2.6 0M85.00 300.03m-1.3 0a1.3 1.3 0 1 0 2.6 0a1.3 1.3 0 1 0 -2.6 0M104.80 319.62m-1.3 0a1.3 1.3 0 1 0 2.6 0a1.3 1.3 0 1 0 -2.6 0M124.60 310.48m-1.3 0a1.3 1.3 0 1 0 2.6 0a1.3 1.3 0 1 0 -2.6 0M45.40 279.14m-1.3 0a1.3 1.3 0 1 0 2.6 0a1.3 1.3 0 1 0 -2.6 0M65.20 303.43m-1.3 0a1.3 1.3 0 1 0 2.6 0a1.3 1.3 0 1 0 -2.6 0M85.00 307.87m-1.3 0a1.3 1.3 0 1 0 2.6 0a1.3 1.3 0 1 0 -2.6 0M104.80 319.62m-1.3 0a1.3 1.3 0 1 0 2.6 0a1.3 1.3 0 1 0 -2.6 0M124.60 330.59m-1.3 0a1.3 1.3 0 1 0 2.6 0a1.3 1.3 0 1 0 -2.6 0M45.40 279.14m-1.3 0a1.3 1.3 0 1 0 2.6 0a1.3 1.3 0 1 0 -2.6 0M65.20 310.48m-1.3 0a1.3 1.3 0 1 0 2.6 0a1.3 1.3 0 1 0 -2.6 0M85.00 319.62m-1.3 0a1.3 1.3 0 1 0 2.6 0a1.3 1.3 0 1 0 -2.6 0M104.80 332.68m-1.3 0a1.3 1.3 0 1 0 2.6 0a1.3 1.3 0 1 0 -2.6 0M124.60 333.99m-1.3 0a1.3 1.3 0 1 0 2.6 0a1.3 1.3 0 1 0 -2.6 0M45.40 279.14m-1.3 0a1.3 1.3 0 1 0 2.6 0a1.3 1.3 0 1 0 -2.6 0M65.20 318.32m-1.3 0a1.3 1.3 0 1 0 2.6 0a1.3 1.3 0 1 0 -2.6 0M85.00 326.15m-1.3 0a1.3 1.3 0 1 0 2.6 0a1.3 1.3 0 1 0 -2.6 0M104.80 338.43m-1.3 0a1.3 1.3 0 1 0 2.6 0a1.3 1.3 0 1 0 -2.6 0M124.60 333.99m-1.3 0a1.3 1.3 0 1 0 2.6 0a1.3 1.3 0 1 0 -2.6 0M45.40 279.14m-1.3 0a1.3 1.3 0 1 0 2.6 0a1.3 1.3 0 1 0 -2.6 0M65.20 322.23m-1.3 0a1.3 1.3 0 1 0 2.6 0a1.3 1.3 0 1 0 -2.6 0M85.00 333.99m-1.3 0a1.3 1.3 0 1 0 2.6 0a1.3 1.3 0 1 0 -2.6 0M104.80 338.43m-1.3 0a1.3 1.3 0 1 0 2.6 0a1.3 1.3 0 1 0 -2.6 0M124.60 344.43m-1.3 0a1.3 1.3 0 1 0 2.6 0a1.3 1.3 0 1 0 -2.6 0M45.40 279.14m-1.3 0a1.3 1.3 0 1 0 2.6 0a1.3 1.3 0 1 0 -2.6 0M65.20 326.15m-1.3 0a1.3 1.3 0 1 0 2.6 0a1.3 1.3 0 1 0 -2.6 0M85.00 339.21m-1.3 0a1.3 1.3 0 1 0 2.6 0a1.3 1.3 0 1 0 -2.6 0M104.80 353.57m-1.3 0a1.3 1.3 0 1 0 2.6 0a1.3 1.3 0 1 0 -2.6 0M124.60 354.88m-1.3 0a1.3 1.3 0 1 0 2.6 0a1.3 1.3 0 1 0 -2.6 0M45.40 279.14m-1.3 0a1.3 1.3 0 1 0 2.6 0a1.3 1.3 0 1 0 -2.6 0M65.20 328.76m-1.3 0a1.3 1.3 0 1 0 2.6 0a1.3 1.3 0 1 0 -2.6 0M85.00 326.15m-1.3 0a1.3 1.3 0 1 0 2.6 0a1.3 1.3 0 1 0 -2.6 0M104.80 332.68m-1.3 0a1.3 1.3 0 1 0 2.6 0a1.3 1.3 0 1 0 -2.6 0M124.60 330.59m-1.3 0a1.3 1.3 0 1 0 2.6 0a1.3 1.3 0 1 0 -2.6 0M45.40 279.14m-1.3 0a1.3 1.3 0 1 0 2.6 0a1.3 1.3 0 1 0 -2.6 0M65.20 332.68m-1.3 0a1.3 1.3 0 1 0 2.6 0a1.3 1.3 0 1 0 -2.6 0M85.00 347.04m-1.3 0a1.3 1.3 0 1 0 2.6 0a1.3 1.3 0 1 0 -2.6 0M104.80 353.57m-1.3 0a1.3 1.3 0 1 0 2.6 0a1.3 1.3 0 1 0 -2.6 0M45.40 279.14m-1.3 0a1.3 1.3 0 1 0 2.6 0a1.3 1.3 0 1 0 -2.6 0M65.20 335.29m-1.3 0a1.3 1.3 0 1 0 2.6 0a1.3 1.3 0 1 0 -2.6 0M85.00 352.27m-1.3 0a1.3 1.3 0 1 0 2.6 0a1.3 1.3 0 1 0 -2.6 0M104.80 360.10m-1.3 0a1.3 1.3 0 1 0 2.6 0a1.3 1.3 0 1 0 -2.6 0M124.60 344.43m-1.3 0a1.3 1.3 0 1 0 2.6 0a1.3 1.3 0 1 0 -2.6 0M45.40 279.14m-1.3 0a1.3 1.3 0 1 0 2.6 0a1.3 1.3 0 1 0 -2.6 0M65.20 339.21m-1.3 0a1.3 1.3 0 1 0 2.6 0a1.3 1.3 0 1 0 -2.6 0M85.00 356.18m-1.3 0a1.3 1.3 0 1 0 2.6 0a1.3 1.3 0 1 0 -2.6 0M104.80 372.38m-1.3 0a1.3 1.3 0 1 0 2.6 0a1.3 1.3 0 1 0 -2.6 0M45.40 279.14m-1.3 0a1.3 1.3 0 1 0 2.6 0a1.3 1.3 0 1 0 -2.6 0M65.20 343.13m-1.3 0a1.3 1.3 0 1 0 2.6 0a1.3 1.3 0 1 0 -2.6 0M85.00 361.41m-1.3 0a1.3 1.3 0 1 0 2.6 0a1.3 1.3 0 1 0 -2.6 0M104.80 360.10m-1.3 0a1.3 1.3 0 1 0 2.6 0a1.3 1.3 0 1 0 -2.6 0M124.60 354.88m-1.3 0a1.3 1.3 0 1 0 2.6 0a1.3 1.3 0 1 0 -2.6 0M45.40 279.14m-1.3 0a1.3 1.3 0 1 0 2.6 0a1.3 1.3 0 1 0 -2.6 0M65.20 348.35m-1.3 0a1.3 1.3 0 1 0 2.6 0a1.3 1.3 0 1 0 -2.6 0M85.00 333.99m-1.3 0a1.3 1.3 0 1 0 2.6 0a1.3 1.3 0 1 0 -2.6 0M104.80 338.43m-1.3 0a1.3 1.3 0 1 0 2.6 0a1.3 1.3 0 1 0 -2.6 0M45.40 279.14m-1.3 0a1.3 1.3 0 1 0 2.6 0a1.3 1.3 0 1 0 -2.6 0M65.20 362.71m-1.3 0a1.3 1.3 0 1 0 2.6 0a1.3 1.3 0 1 0 -2.6 0M85.00 356.18m-1.3 0a1.3 1.3 0 1 0 2.6 0a1.3 1.3 0 1 0 -2.6 0M45.40 279.14m-1.3 0a1.3 1.3 0 1 0 2.6 0a1.3 1.3 0 1 0 -2.6 0M65.20 370.03m-1.3 0a1.3 1.3 0 1 0 2.6 0a1.3 1.3 0 1 0 -2.6 0M85.00 361.41m-1.3 0a1.3 1.3 0 1 0 2.6 0a1.3 1.3 0 1 0 -2.6 0M104.80 372.38m-1.3 0a1.3 1.3 0 1 0 2.6 0a1.3 1.3 0 1 0 -2.6 0M124.60 373.94m-1.3 0a1.3 1.3 0 1 0 2.6 0a1.3 1.3 0 1 0 -2.6 0M45.40 279.14m-1.3 0a1.3 1.3 0 1 0 2.6 0a1.3 1.3 0 1 0 -2.6 0M65.20 318.32m-1.3 0a1.3 1.3 0 1 0 2.6 0a1.3 1.3 0 1 0 -2.6 0M85.00 319.62m-1.3 0a1.3 1.3 0 1 0 2.6 0a1.3 1.3 0 1 0 -2.6 0M104.80 319.62m-1.3 0a1.3 1.3 0 1 0 2.6 0a1.3 1.3 0 1 0 -2.6 0M45.40 279.14m-1.3 0a1.3 1.3 0 1 0 2.6 0a1.3 1.3 0 1 0 -2.6 0M65.20 332.68m-1.3 0a1.3 1.3 0 1 0 2.6 0a1.3 1.3 0 1 0 -2.6 0M124.60 330.59m-1.3 0a1.3 1.3 0 1 0 2.6 0a1.3 1.3 0 1 0 -2.6 0M45.40 279.14m-1.3 0a1.3 1.3 0 1 0 2.6 0a1.3 1.3 0 1 0 -2.6 0M65.20 310.48m-1.3 0a1.3 1.3 0 1 0 2.6 0a1.3 1.3 0 1 0 -2.6 0M45.40 279.14m-1.3 0a1.3 1.3 0 1 0 2.6 0a1.3 1.3 0 1 0 -2.6 0M65.20 326.15m-1.3 0a1.3 1.3 0 1 0 2.6 0a1.3 1.3 0 1 0 -2.6 0M85.00 347.04m-1.3 0a1.3 1.3 0 1 0 2.6 0a1.3 1.3 0 1 0 -2.6 0M45.40 279.14m-1.3 0a1.3 1.3 0 1 0 2.6 0a1.3 1.3 0 1 0 -2.6 0M65.20 322.23m-1.3 0a1.3 1.3 0 1 0 2.6 0a1.3 1.3 0 1 0 -2.6 0M45.40 279.14m-1.3 0a1.3 1.3 0 1 0 2.6 0a1.3 1.3 0 1 0 -2.6 0M65.20 339.21m-1.3 0a1.3 1.3 0 1 0 2.6 0a1.3 1.3 0 1 0 -2.6 0M45.40 279.14m-1.3 0a1.3 1.3 0 1 0 2.6 0a1.3 1.3 0 1 0 -2.6 0M65.20 314.40m-1.3 0a1.3 1.3 0 1 0 2.6 0a1.3 1.3 0 1 0 -2.6 0M45.40 279.14m-1.3 0a1.3 1.3 0 1 0 2.6 0a1.3 1.3 0 1 0 -2.6 0M65.20 330.07m-1.3 0a1.3 1.3 0 1 0 2.6 0a1.3 1.3 0 1 0 -2.6 0M45.40 279.14m-1.3 0a1.3 1.3 0 1 0 2.6 0a1.3 1.3 0 1 0 -2.6 0M65.20 335.29m-1.3 0a1.3 1.3 0 1 0 2.6 0a1.3 1.3 0 1 0 -2.6 0M45.40 279.14m-1.3 0a1.3 1.3 0 1 0 2.6 0a1.3 1.3 0 1 0 -2.6 0M65.20 306.56m-1.3 0a1.3 1.3 0 1 0 2.6 0a1.3 1.3 0 1 0 -2.6 0M45.40 279.14m-1.3 0a1.3 1.3 0 1 0 2.6 0a1.3 1.3 0 1 0 -2.6 0M65.20 345.74m-1.3 0a1.3 1.3 0 1 0 2.6 0a1.3 1.3 0 1 0 -2.6 0M45.40 279.14m-1.3 0a1.3 1.3 0 1 0 2.6 0a1.3 1.3 0 1 0 -2.6 0M65.20 324.84m-1.3 0a1.3 1.3 0 1 0 2.6 0a1.3 1.3 0 1 0 -2.6 0" fill="#1a1a1a"/>
<path d="M45.40 275.90V273.50H65.20V275.90" stroke="#4D4D4D" stroke-width="0.8" fill="none"/>
<text x="55.90" y="274.00" font-size="7.60" fill="#000" stroke="#000" text-anchor="middle" letter-spacing="1.1">***</text>
<path d="M45.40 269.10V266.70H85.00V269.10" stroke="#4D4D4D" stroke-width="0.8" fill="none"/>
<text x="65.80" y="267.20" font-size="7.60" fill="#000" stroke="#000" text-anchor="middle" letter-spacing="1.1">***</text>
<path d="M45.40 262.00V259.60H104.80V262.00" stroke="#4D4D4D" stroke-width="0.8" fill="none"/>
<text x="75.70" y="260.10" font-size="7.60" fill="#000" stroke="#000" text-anchor="middle" letter-spacing="1.1">***</text>
<path d="M45.40 255.20V252.80H124.60V255.20" stroke="#4D4D4D" stroke-width="0.8" fill="none"/>
<text x="85.60" y="253.30" font-size="7.60" fill="#000" stroke="#000" text-anchor="middle" letter-spacing="1.1">***</text>
<line x1="170.40" y1="246.70" x2="170.40" y2="380.70" stroke="#4D4D4D" stroke-width="1.0"/>
<line x1="169.90" y1="380.20" x2="317.80" y2="380.20" stroke="#4D4D4D" stroke-width="1.0"/>
<line x1="168.40" y1="349.50" x2="170.40" y2="349.50" stroke="#4D4D4D" stroke-width="0.8"/>
<text x="167.20" y="352.60" font-size="7.80" fill="#4D4D4D" stroke="#4D4D4D" text-anchor="end">0</text>
<line x1="168.40" y1="316.43" x2="170.40" y2="316.43" stroke="#4D4D4D" stroke-width="0.8"/>
<text x="167.20" y="319.53" font-size="7.80" fill="#4D4D4D" stroke="#4D4D4D" text-anchor="end">25</text>
<line x1="168.40" y1="283.37" x2="170.40" y2="283.37" stroke="#4D4D4D" stroke-width="0.8"/>
<text x="167.20" y="286.47" font-size="7.80" fill="#4D4D4D" stroke="#4D4D4D" text-anchor="end">50</text>
<line x1="168.40" y1="250.30" x2="170.40" y2="250.30" stroke="#4D4D4D" stroke-width="0.8"/>
<text x="167.20" y="253.40" font-size="7.80" fill="#4D4D4D" stroke="#4D4D4D" text-anchor="end">75</text>
<line x1="179.60" y1="380.20" x2="179.60" y2="382.20" stroke="#4D4D4D" stroke-width="0.8"/>
<text x="179.60" y="389.00" font-size="7.80" fill="#4D4D4D" stroke="#4D4D4D" text-anchor="middle">0</text>
<line x1="195.69" y1="380.20" x2="195.69" y2="382.20" stroke="#4D4D4D" stroke-width="0.8"/>
<text x="195.69" y="389.00" font-size="7.80" fill="#4D4D4D" stroke="#4D4D4D" text-anchor="middle">3</text>
<line x1="211.78" y1="380.20" x2="211.78" y2="382.20" stroke="#4D4D4D" stroke-width="0.8"/>
<text x="211.78" y="389.00" font-size="7.80" fill="#4D4D4D" stroke="#4D4D4D" text-anchor="middle">6</text>
<line x1="227.87" y1="380.20" x2="227.87" y2="382.20" stroke="#4D4D4D" stroke-width="0.8"/>
<text x="227.87" y="389.00" font-size="7.80" fill="#4D4D4D" stroke="#4D4D4D" text-anchor="middle">9</text>
<line x1="243.96" y1="380.20" x2="243.96" y2="382.20" stroke="#4D4D4D" stroke-width="0.8"/>
<text x="243.96" y="389.00" font-size="7.80" fill="#4D4D4D" stroke="#4D4D4D" text-anchor="middle">12</text>
<line x1="260.05" y1="380.20" x2="260.05" y2="382.20" stroke="#4D4D4D" stroke-width="0.8"/>
<text x="260.05" y="389.00" font-size="7.80" fill="#4D4D4D" stroke="#4D4D4D" text-anchor="middle">15</text>
<line x1="276.14" y1="380.20" x2="276.14" y2="382.20" stroke="#4D4D4D" stroke-width="0.8"/>
<text x="276.14" y="389.00" font-size="7.80" fill="#4D4D4D" stroke="#4D4D4D" text-anchor="middle">18</text>
<line x1="292.23" y1="380.20" x2="292.23" y2="382.20" stroke="#4D4D4D" stroke-width="0.8"/>
<text x="292.23" y="389.00" font-size="7.80" fill="#4D4D4D" stroke="#4D4D4D" text-anchor="middle">21</text>
<line x1="308.32" y1="380.20" x2="308.32" y2="382.20" stroke="#4D4D4D" stroke-width="0.8"/>
<text x="308.32" y="389.00" font-size="7.80" fill="#4D4D4D" stroke="#4D4D4D" text-anchor="middle">24</text>
<text x="0" y="0" font-size="9.5" fill="#111" stroke="none" text-anchor="middle" transform="translate(155.60 313.60) rotate(-90)">Delta ppFEV1</text>
<text x="142.90" y="245.70" font-size="11.80" fill="#000" stroke="#000" text-anchor="start">c</text>
<path d="M179.60 349.50L195.69 366.40M195.69 366.40L211.78 353.09M211.78 353.09L227.87 353.10M227.87 353.10L243.96 357.40M243.96 357.40L260.05 358.18M260.05 358.18L308.32 373.40M179.60 349.50L195.69 366.40M195.69 366.40L211.78 350.17M211.78 350.17L227.87 347.03M227.87 347.03L243.96 358.00M243.96 358.00L260.05 358.90M260.05 358.90L276.14 352.57M276.14 352.57L292.23 355.20M292.23 355.20L308.32 359.60M179.60 349.50L195.69 366.40M195.69 366.40L211.78 352.56M211.78 352.56L227.87 353.10M227.87 353.10L292.23 351.10M292.23 351.10L308.32 371.53M179.60 349.50L195.69 344.35M195.69 344.35L211.78 352.57M211.78 352.57L243.96 344.42M243.96 344.42L260.05 358.48M260.05 358.48L276.14 345.57M276.14 345.57L292.23 345.24M292.23 345.24L308.32 347.00M179.60 349.50L211.78 345.92M211.78 345.92L227.87 337.79M227.87 337.79L243.96 347.52M243.96 347.52L260.05 345.94M260.05 345.94L276.14 344.16M276.14 344.16L292.23 354.76M179.60 349.50L195.69 336.47M195.69 336.47L211.78 352.30M211.78 352.30L227.87 350.02M227.87 350.02L243.96 339.94M243.96 339.94L260.05 350.50M260.05 350.50L276.14 350.26M276.14 350.26L292.23 343.72M292.23 343.72L308.32 344.77M179.60 349.50L195.69 336.90M195.69 336.90L211.78 349.07M211.78 349.07L227.87 341.62M227.87 341.62L243.96 342.15M243.96 342.15L260.05 339.84M260.05 339.84L292.23 349.66M292.23 349.66L308.32 343.79M179.60 349.50L211.78 343.60M211.78 343.60L227.87 337.34M227.87 337.34L243.96 343.03M243.96 343.03L260.05 356.50M260.05 356.50L276.14 343.20M276.14 343.20L308.32 361.06M179.60 349.50L195.69 342.36M195.69 342.36L227.87 336.55M227.87 336.55L243.96 340.02M243.96 340.02L260.05 342.60M260.05 342.60L276.14 339.49M276.14 339.49L308.32 339.28M179.60 349.50L195.69 336.69M195.69 336.69L211.78 344.27M211.78 344.27L227.87 338.80M227.87 338.80L243.96 341.89M243.96 341.89L260.05 343.39M260.05 343.39L276.14 344.70M276.14 344.70L292.23 347.47M292.23 347.47L308.32 358.13M179.60 349.50L195.69 337.65M195.69 337.65L227.87 341.49M227.87 341.49L243.96 339.57M243.96 339.57L260.05 345.45M260.05 345.45L276.14 346.82M276.14 346.82L292.23 342.00M179.60 349.50L195.69 342.72M195.69 342.72L211.78 344.97M211.78 344.97L227.87 332.93M227.87 332.93L243.96 339.81M243.96 339.81L276.14 339.12M276.14 339.12L292.23 331.90M292.23 331.90L308.32 349.09M179.60 349.50L211.78 337.37M211.78 337.37L227.87 329.29M227.87 329.29L243.96 332.54M243.96 332.54L260.05 335.91M260.05 335.91L276.14 346.37M276.14 346.37L308.32 348.12M179.60 349.50L195.69 331.36M195.69 331.36L211.78 335.76M211.78 335.76L227.87 327.23M227.87 327.23L243.96 329.82M243.96 329.82L260.05 330.37M260.05 330.37L276.14 328.72M276.14 328.72L308.32 332.34M179.60 349.50L195.69 325.69M195.69 325.69L211.78 331.77M211.78 331.77L227.87 328.55M227.87 328.55L260.05 334.97M260.05 334.97L276.14 334.93M276.14 334.93L292.23 342.05M292.23 342.05L308.32 332.03M179.60 349.50L195.69 327.48M195.69 327.48L211.78 330.81M211.78 330.81L227.87 327.81M227.87 327.81L243.96 323.29M243.96 323.29L260.05 331.14M260.05 331.14L276.14 343.69M276.14 343.69L292.23 338.23M292.23 338.23L308.32 344.92M179.60 349.50L195.69 323.11M195.69 323.11L211.78 327.47M211.78 327.47L227.87 330.36M227.87 330.36L243.96 338.04M243.96 338.04L260.05 332.45M260.05 332.45L276.14 342.35M276.14 342.35L308.32 341.70M179.60 349.50L195.69 316.16M195.69 316.16L211.78 327.52M211.78 327.52L227.87 326.74M227.87 326.74L243.96 333.58M243.96 333.58L260.05 330.93M260.05 330.93L276.14 325.11M276.14 325.11L292.23 312.81M179.60 349.50L195.69 330.13M195.69 330.13L211.78 307.89M211.78 307.89L227.87 328.18M227.87 328.18L243.96 308.80M243.96 308.80L276.14 338.97M276.14 338.97L308.32 317.31M179.60 349.50L195.69 326.15M195.69 326.15L211.78 305.00M211.78 305.00L227.87 300.80M227.87 300.80L243.96 314.85M243.96 314.85L260.05 334.02M260.05 334.02L276.14 334.62M276.14 334.62L292.23 337.20M292.23 337.20L308.32 334.32M179.60 349.50L195.69 302.29M195.69 302.29L211.78 315.82M211.78 315.82L227.87 308.38M227.87 308.38L260.05 327.33M260.05 327.33L276.14 325.12M276.14 325.12L292.23 325.08M292.23 325.08L308.32 333.77M179.60 349.50L195.69 298.60M195.69 298.60L211.78 305.08M211.78 305.08L227.87 325.68M227.87 325.68L260.05 299.60M260.05 299.60L276.14 326.37M276.14 326.37L292.23 306.00M292.23 306.00L308.32 315.90M179.60 349.50L195.69 298.60M195.69 298.60L211.78 309.13M211.78 309.13L227.87 298.60M227.87 298.60L243.96 306.70M243.96 306.70L276.14 325.57M276.14 325.57L292.23 315.05M292.23 315.05L308.32 302.40M179.60 349.50L195.69 298.60M195.69 298.60L211.78 325.50M211.78 325.50L227.87 318.81M227.87 318.81L260.05 299.60M260.05 299.60L276.14 317.80M276.14 317.80L292.23 310.38M292.23 310.38L308.32 302.40M179.60 349.50L195.69 312.18M195.69 312.18L211.78 308.36M211.78 308.36L227.87 308.84M227.87 308.84L260.05 303.41M260.05 303.41L276.14 321.03M276.14 321.03L292.23 313.69M292.23 313.69L308.32 321.04M276.14 299.60L292.23 299.60M292.23 299.60L308.32 302.00" stroke="#5a5a5a" stroke-opacity="0.6" stroke-width="0.5" fill="none"/>
<line x1="173.50" y1="349.50" x2="185.70" y2="349.50" stroke="#333" stroke-width="1.6"/>
<path d="M195.69 298.60V323.80M195.69 345.20V366.40" stroke="#222" stroke-width="0.9"/>
<rect x="189.59" y="323.80" width="12.20" height="21.40" fill="#D9D36E" fill-opacity="0.8" stroke="#333333" stroke-width="0.8"/>
<line x1="189.59" y1="333.40" x2="201.79" y2="333.40" stroke="#222" stroke-width="1.1"/>
<path d="M211.78 305.00V326.40M211.78 346.00V353.10" stroke="#222" stroke-width="0.9"/>
<rect x="205.68" y="326.40" width="12.20" height="19.60" fill="#8FB0D8" fill-opacity="0.8" stroke="#333333" stroke-width="0.8"/>
<line x1="205.68" y1="336.00" x2="217.88" y2="336.00" stroke="#222" stroke-width="1.1"/>
<path d="M227.87 298.60V324.20M227.87 340.30V353.10" stroke="#222" stroke-width="0.9"/>
<rect x="221.77" y="324.20" width="12.20" height="16.10" fill="#8FB0D8" fill-opacity="0.8" stroke="#333333" stroke-width="0.8"/>
<line x1="221.77" y1="329.60" x2="233.97" y2="329.60" stroke="#222" stroke-width="1.1"/>
<path d="M243.96 306.70V329.60M243.96 343.50V358.00" stroke="#222" stroke-width="0.9"/>
<rect x="237.86" y="329.60" width="12.20" height="13.90" fill="#8FB0D8" fill-opacity="0.8" stroke="#333333" stroke-width="0.8"/>
<line x1="237.86" y1="336.00" x2="250.06" y2="336.00" stroke="#222" stroke-width="1.1"/>
<path d="M260.05 299.60V329.60M260.05 347.30V358.90" stroke="#222" stroke-width="0.9"/>
<rect x="253.95" y="329.60" width="12.20" height="17.70" fill="#D9A0BE" fill-opacity="0.8" stroke="#333333" stroke-width="0.8"/>
<line x1="253.95" y1="336.60" x2="266.15" y2="336.60" stroke="#222" stroke-width="1.1"/>
<path d="M276.14 317.80V329.60M276.14 347.80V358.40" stroke="#222" stroke-width="0.9"/>
<rect x="270.04" y="329.60" width="12.20" height="18.20" fill="#D9A0BE" fill-opacity="0.8" stroke="#333333" stroke-width="0.8"/>
<line x1="270.04" y1="341.30" x2="282.24" y2="341.30" stroke="#222" stroke-width="1.1"/>
<path d="M292.23 306.00V329.60M292.23 347.80V355.20" stroke="#222" stroke-width="0.9"/>
<rect x="286.13" y="329.60" width="12.20" height="18.20" fill="#80C9A8" fill-opacity="0.8" stroke="#333333" stroke-width="0.8"/>
<line x1="286.13" y1="341.30" x2="298.33" y2="341.30" stroke="#222" stroke-width="1.1"/>
<path d="M308.32 302.40V328.50M308.32 352.50V373.40" stroke="#222" stroke-width="0.9"/>
<rect x="302.22" y="328.50" width="12.20" height="24.00" fill="#80C9A8" fill-opacity="0.8" stroke="#333333" stroke-width="0.8"/>
<line x1="302.22" y1="340.30" x2="314.42" y2="340.30" stroke="#222" stroke-width="1.1"/>
<path d="M179.60 349.50m-1.3 0a1.3 1.3 0 1 0 2.6 0a1.3 1.3 0 1 0 -2.6 0M195.69 366.40m-1.3 0a1.3 1.3 0 1 0 2.6 0a1.3 1.3 0 1 0 -2.6 0M211.78 353.09m-1.3 0a1.3 1.3 0 1 0 2.6 0a1.3 1.3 0 1 0 -2.6 0M227.87 353.10m-1.3 0a1.3 1.3 0 1 0 2.6 0a1.3 1.3 0 1 0 -2.6 0M243.96 357.40m-1.3 0a1.3 1.3 0 1 0 2.6 0a1.3 1.3 0 1 0 -2.6 0M260.05 358.18m-1.3 0a1.3 1.3 0 1 0 2.6 0a1.3 1.3 0 1 0 -2.6 0M308.32 373.40m-1.3 0a1.3 1.3 0 1 0 2.6 0a1.3 1.3 0 1 0 -2.6 0M179.60 349.50m-1.3 0a1.3 1.3 0 1 0 2.6 0a1.3 1.3 0 1 0 -2.6 0M195.69 366.40m-1.3 0a1.3 1.3 0 1 0 2.6 0a1.3 1.3 0 1 0 -2.6 0M211.78 350.17m-1.3 0a1.3 1.3 0 1 0 2.6 0a1.3 1.3 0 1 0 -2.6 0M227.87 347.03m-1.3 0a1.3 1.3 0 1 0 2.6 0a1.3 1.3 0 1 0 -2.6 0M243.96 358.00m-1.3 0a1.3 1.3 0 1 0 2.6 0a1.3 1.3 0 1 0 -2.6 0M260.05 358.90m-1.3 0a1.3 1.3 0 1 0 2.6 0a1.3 1.3 0 1 0 -2.6 0M276.14 352.57m-1.3 0a1.3 1.3 0 1 0 2.6 0a1.3 1.3 0 1 0 -2.6 0M292.23 355.20m-1.3 0a1.3 1.3 0 1 0 2.6 0a1.3 1.3 0 1 0 -2.6 0M308.32 359.60m-1.3 0a1.3 1.3 0 1 0 2.6 0a1.3 1.3 0 1 0 -2.6 0M179.60 349.50m-1.3 0a1.3 1.3 0 1 0 2.6 0a1.3 1.3 0 1 0 -2.6 0M195.69 366.40m-1.3 0a1.3 1.3 0 1 0 2.6 0a1.3 1.3 0 1 0 -2.6 0M211.78 352.56m-1.3 0a1.3 1.3 0 1 0 2.6 0a1.3 1.3 0 1 0 -2.6 0M227.87 353.10m-1.3 0a1.3 1.3 0 1 0 2.6 0a1.3 1.3 0 1 0 -2.6 0M292.23 351.10m-1.3 0a1.3 1.3 0 1 0 2.6 0a1.3 1.3 0 1 0 -2.6 0M308.32 371.53m-1.3 0a1.3 1.3 0 1 0 2.6 0a1.3 1.3 0 1 0 -2.6 0M179.60 349.50m-1.3 0a1.3 1.3 0 1 0 2.6 0a1.3 1.3 0 1 0 -2.6 0M195.69 344.35m-1.3 0a1.3 1.3 0 1 0 2.6 0a1.3 1.3 0 1 0 -2.6 0M211.78 352.57m-1.3 0a1.3 1.3 0 1 0 2.6 0a1.3 1.3 0 1 0 -2.6 0M243.96 344.42m-1.3 0a1.3 1.3 0 1 0 2.6 0a1.3 1.3 0 1 0 -2.6 0M260.05 358.48m-1.3 0a1.3 1.3 0 1 0 2.6 0a1.3 1.3 0 1 0 -2.6 0M276.14 345.57m-1.3 0a1.3 1.3 0 1 0 2.6 0a1.3 1.3 0 1 0 -2.6 0M292.23 345.24m-1.3 0a1.3 1.3 0 1 0 2.6 0a1.3 1.3 0 1 0 -2.6 0M308.32 347.00m-1.3 0a1.3 1.3 0 1 0 2.6 0a1.3 1.3 0 1 0 -2.6 0M179.60 349.50m-1.3 0a1.3 1.3 0 1 0 2.6 0a1.3 1.3 0 1 0 -2.6 0M211.78 345.92m-1.3 0a1.3 1.3 0 1 0 2.6 0a1.3 1.3 0 1 0 -2.6 0M227.87 337.79m-1.3 0a1.3 1.3 0 1 0 2.6 0a1.3 1.3 0 1 0 -2.6 0M243.96 347.52m-1.3 0a1.3 1.3 0 1 0 2.6 0a1.3 1.3 0 1 0 -2.6 0M260.05 345.94m-1.3 0a1.3 1.3 0 1 0 2.6 0a1.3 1.3 0 1 0 -2.6 0M276.14 344.16m-1.3 0a1.3 1.3 0 1 0 2.6 0a1.3 1.3 0 1 0 -2.6 0M292.23 354.76m-1.3 0a1.3 1.3 0 1 0 2.6 0a1.3 1.3 0 1 0 -2.6 0M179.60 349.50m-1.3 0a1.3 1.3 0 1 0 2.6 0a1.3 1.3 0 1 0 -2.6 0M195.69 336.47m-1.3 0a1.3 1.3 0 1 0 2.6 0a1.3 1.3 0 1 0 -2.6 0M211.78 352.30m-1.3 0a1.3 1.3 0 1 0 2.6 0a1.3 1.3 0 1 0 -2.6 0M227.87 350.02m-1.3 0a1.3 1.3 0 1 0 2.6 0a1.3 1.3 0 1 0 -2.6 0M243.96 339.94m-1.3 0a1.3 1.3 0 1 0 2.6 0a1.3 1.3 0 1 0 -2.6 0M260.05 350.50m-1.3 0a1.3 1.3 0 1 0 2.6 0a1.3 1.3 0 1 0 -2.6 0M276.14 350.26m-1.3 0a1.3 1.3 0 1 0 2.6 0a1.3 1.3 0 1 0 -2.6 0M292.23 343.72m-1.3 0a1.3 1.3 0 1 0 2.6 0a1.3 1.3 0 1 0 -2.6 0M308.32 344.77m-1.3 0a1.3 1.3 0 1 0 2.6 0a1.3 1.3 0 1 0 -2.6 0M179.60 349.50m-1.3 0a1.3 1.3 0 1 0 2.6 0a1.3 1.3 0 1 0 -2.6 0M195.69 336.90m-1.3 0a1.3 1.3 0 1 0 2.6 0a1.3 1.3 0 1 0 -2.6 0M211.78 349.07m-1.3 0a1.3 1.3 0 1 0 2.6 0a1.3 1.3 0 1 0 -2.6 0M227.87 341.62m-1.3 0a1.3 1.3 0 1 0 2.6 0a1.3 1.3 0 1 0 -2.6 0M243.96 342.15m-1.3 0a1.3 1.3 0 1 0 2.6 0a1.3 1.3 0 1 0 -2.6 0M260.05 339.84m-1.3 0a1.3 1.3 0 1 0 2.6 0a1.3 1.3 0 1 0 -2.6 0M292.23 349.66m-1.3 0a1.3 1.3 0 1 0 2.6 0a1.3 1.3 0 1 0 -2.6 0M308.32 343.79m-1.3 0a1.3 1.3 0 1 0 2.6 0a1.3 1.3 0 1 0 -2.6 0M179.60 349.50m-1.3 0a1.3 1.3 0 1 0 2.6 0a1.3 1.3 0 1 0 -2.6 0M211.78 343.60m-1.3 0a1.3 1.3 0 1 0 2.6 0a1.3 1.3 0 1 0 -2.6 0M227.87 337.34m-1.3 0a1.3 1.3 0 1 0 2.6 0a1.3 1.3 0 1 0 -2.6 0M243.96 343.03m-1.3 0a1.3 1.3 0 1 0 2.6 0a1.3 1.3 0 1 0 -2.6 0M260.05 356.50m-1.3 0a1.3 1.3 0 1 0 2.6 0a1.3 1.3 0 1 0 -2.6 0M276.14 343.20m-1.3 0a1.3 1.3 0 1 0 2.6 0a1.3 1.3 0 1 0 -2.6 0M308.32 361.06m-1.3 0a1.3 1.3 0 1 0 2.6 0a1.3 1.3 0 1 0 -2.6 0M179.60 349.50m-1.3 0a1.3 1.3 0 1 0 2.6 0a1.3 1.3 0 1 0 -2.6 0M195.69 342.36m-1.3 0a1.3 1.3 0 1 0 2.6 0a1.3 1.3 0 1 0 -2.6 0M227.87 336.55m-1.3 0a1.3 1.3 0 1 0 2.6 0a1.3 1.3 0 1 0 -2.6 0M243.96 340.02m-1.3 0a1.3 1.3 0 1 0 2.6 0a1.3 1.3 0 1 0 -2.6 0M260.05 342.60m-1.3 0a1.3 1.3 0 1 0 2.6 0a1.3 1.3 0 1 0 -2.6 0M276.14 339.49m-1.3 0a1.3 1.3 0 1 0 2.6 0a1.3 1.3 0 1 0 -2.6 0M308.32 339.28m-1.3 0a1.3 1.3 0 1 0 2.6 0a1.3 1.3 0 1 0 -2.6 0M179.60 349.50m-1.3 0a1.3 1.3 0 1 0 2.6 0a1.3 1.3 0 1 0 -2.6 0M195.69 336.69m-1.3 0a1.3 1.3 0 1 0 2.6 0a1.3 1.3 0 1 0 -2.6 0M211.78 344.27m-1.3 0a1.3 1.3 0 1 0 2.6 0a1.3 1.3 0 1 0 -2.6 0M227.87 338.80m-1.3 0a1.3 1.3 0 1 0 2.6 0a1.3 1.3 0 1 0 -2.6 0M243.96 341.89m-1.3 0a1.3 1.3 0 1 0 2.6 0a1.3 1.3 0 1 0 -2.6 0M260.05 343.39m-1.3 0a1.3 1.3 0 1 0 2.6 0a1.3 1.3 0 1 0 -2.6 0M276.14 344.70m-1.3 0a1.3 1.3 0 1 0 2.6 0a1.3 1.3 0 1 0 -2.6 0M292.23 347.47m-1.3 0a1.3 1.3 0 1 0 2.6 0a1.3 1.3 0 1 0 -2.6 0M308.32 358.13m-1.3 0a1.3 1.3 0 1 0 2.6 0a1.3 1.3 0 1 0 -2.6 0M179.60 349.50m-1.3 0a1.3 1.3 0 1 0 2.6 0a1.3 1.3 0 1 0 -2.6 0M195.69 337.65m-1.3 0a1.3 1.3 0 1 0 2.6 0a1.3 1.3 0 1 0 -2.6 0M227.87 341.49m-1.3 0a1.3 1.3 0 1 0 2.6 0a1.3 1.3 0 1 0 -2.6 0M243.96 339.57m-1.3 0a1.3 1.3 0 1 0 2.6 0a1.3 1.3 0 1 0 -2.6 0M260.05 345.45m-1.3 0a1.3 1.3 0 1 0 2.6 0a1.3 1.3 0 1 0 -2.6 0M276.14 346.82m-1.3 0a1.3 1.3 0 1 0 2.6 0a1.3 1.3 0 1 0 -2.6 0M292.23 342.00m-1.3 0a1.3 1.3 0 1 0 2.6 0a1.3 1.3 0 1 0 -2.6 0M179.60 349.50m-1.3 0a1.3 1.3 0 1 0 2.6 0a1.3 1.3 0 1 0 -2.6 0M195.69 342.72m-1.3 0a1.3 1.3 0 1 0 2.6 0a1.3 1.3 0 1 0 -2.6 0M211.78 344.97m-1.3 0a1.3 1.3 0 1 0 2.6 0a1.3 1.3 0 1 0 -2.6 0M227.87 332.93m-1.3 0a1.3 1.3 0 1 0 2.6 0a1.3 1.3 0 1 0 -2.6 0M243.96 339.81m-1.3 0a1.3 1.3 0 1 0 2.6 0a1.3 1.3 0 1 0 -2.6 0M276.14 339.12m-1.3 0a1.3 1.3 0 1 0 2.6 0a1.3 1.3 0 1 0 -2.6 0M292.23 331.90m-1.3 0a1.3 1.3 0 1 0 2.6 0a1.3 1.3 0 1 0 -2.6 0M308.32 349.09m-1.3 0a1.3 1.3 0 1 0 2.6 0a1.3 1.3 0 1 0 -2.6 0M179.60 349.50m-1.3 0a1.3 1.3 0 1 0 2.6 0a1.3 1.3 0 1 0 -2.6 0M211.78 337.37m-1.3 0a1.3 1.3 0 1 0 2.6 0a1.3 1.3 0 1 0 -2.6 0M227.87 329.29m-1.3 0a1.3 1.3 0 1 0 2.6 0a1.3 1.3 0 1 0 -2.6 0M243.96 332.54m-1.3 0a1.3 1.3 0 1 0 2.6 0a1.3 1.3 0 1 0 -2.6 0M260.05 335.91m-1.3 0a1.3 1.3 0 1 0 2.6 0a1.3 1.3 0 1 0 -2.6 0M276.14 346.37m-1.3 0a1.3 1.3 0 1 0 2.6 0a1.3 1.3 0 1 0 -2.6 0M308.32 348.12m-1.3 0a1.3 1.3 0 1 0 2.6 0a1.3 1.3 0 1 0 -2.6 0M179.60 349.50m-1.3 0a1.3 1.3 0 1 0 2.6 0a1.3 1.3 0 1 0 -2.6 0M195.69 331.36m-1.3 0a1.3 1.3 0 1 0 2.6 0a1.3 1.3 0 1 0 -2.6 0M211.78 335.76m-1.3 0a1.3 1.3 0 1 0 2.6 0a1.3 1.3 0 1 0 -2.6 0M227.87 327.23m-1.3 0a1.3 1.3 0 1 0 2.6 0a1.3 1.3 0 1 0 -2.6 0M243.96 329.82m-1.3 0a1.3 1.3 0 1 0 2.6 0a1.3 1.3 0 1 0 -2.6 0M260.05 330.37m-1.3 0a1.3 1.3 0 1 0 2.6 0a1.3 1.3 0 1 0 -2.6 0M276.14 328.72m-1.3 0a1.3 1.3 0 1 0 2.6 0a1.3 1.3 0 1 0 -2.6 0M308.32 332.34m-1.3 0a1.3 1.3 0 1 0 2.6 0a1.3 1.3 0 1 0 -2.6 0M179.60 349.50m-1.3 0a1.3 1.3 0 1 0 2.6 0a1.3 1.3 0 1 0 -2.6 0M195.69 325.69m-1.3 0a1.3 1.3 0 1 0 2.6 0a1.3 1.3 0 1 0 -2.6 0M211.78 331.77m-1.3 0a1.3 1.3 0 1 0 2.6 0a1.3 1.3 0 1 0 -2.6 0M227.87 328.55m-1.3 0a1.3 1.3 0 1 0 2.6 0a1.3 1.3 0 1 0 -2.6 0M260.05 334.97m-1.3 0a1.3 1.3 0 1 0 2.6 0a1.3 1.3 0 1 0 -2.6 0M276.14 334.93m-1.3 0a1.3 1.3 0 1 0 2.6 0a1.3 1.3 0 1 0 -2.6 0M292.23 342.05m-1.3 0a1.3 1.3 0 1 0 2.6 0a1.3 1.3 0 1 0 -2.6 0M308.32 332.03m-1.3 0a1.3 1.3 0 1 0 2.6 0a1.3 1.3 0 1 0 -2.6 0M179.60 349.50m-1.3 0a1.3 1.3 0 1 0 2.6 0a1.3 1.3 0 1 0 -2.6 0M195.69 327.48m-1.3 0a1.3 1.3 0 1 0 2.6 0a1.3 1.3 0 1 0 -2.6 0M211.78 330.81m-1.3 0a1.3 1.3 0 1 0 2.6 0a1.3 1.3 0 1 0 -2.6 0M227.87 327.81m-1.3 0a1.3 1.3 0 1 0 2.6 0a1.3 1.3 0 1 0 -2.6 0M243.96 323.29m-1.3 0a1.3 1.3 0 1 0 2.6 0a1.3 1.3 0 1 0 -2.6 0M260.05 331.14m-1.3 0a1.3 1.3 0 1 0 2.6 0a1.3 1.3 0 1 0 -2.6 0M276.14 343.69m-1.3 0a1.3 1.3 0 1 0 2.6 0a1.3 1.3 0 1 0 -2.6 0M292.23 338.23m-1.3 0a1.3 1.3 0 1 0 2.6 0a1.3 1.3 0 1 0 -2.6 0M308.32 344.92m-1.3 0a1.3 1.3 0 1 0 2.6 0a1.3 1.3 0 1 0 -2.6 0M179.60 349.50m-1.3 0a1.3 1.3 0 1 0 2.6 0a1.3 1.3 0 1 0 -2.6 0M195.69 323.11m-1.3 0a1.3 1.3 0 1 0 2.6 0a1.3 1.3 0 1 0 -2.6 0M211.78 327.47m-1.3 0a1.3 1.3 0 1 0 2.6 0a1.3 1.3 0 1 0 -2.6 0M227.87 330.36m-1.3 0a1.3 1.3 0 1 0 2.6 0a1.3 1.3 0 1 0 -2.6 0M243.96 338.04m-1.3 0a1.3 1.3 0 1 0 2.6 0a1.3 1.3 0 1 0 -2.6 0M260.05 332.45m-1.3 0a1.3 1.3 0 1 0 2.6 0a1.3 1.3 0 1 0 -2.6 0M276.14 342.35m-1.3 0a1.3 1.3 0 1 0 2.6 0a1.3 1.3 0 1 0 -2.6 0M308.32 341.70m-1.3 0a1.3 1.3 0 1 0 2.6 0a1.3 1.3 0 1 0 -2.6 0M179.60 349.50m-1.3 0a1.3 1.3 0 1 0 2.6 0a1.3 1.3 0 1 0 -2.6 0M195.69 316.16m-1.3 0a1.3 1.3 0 1 0 2.6 0a1.3 1.3 0 1 0 -2.6 0M211.78 327.52m-1.3 0a1.3 1.3 0 1 0 2.6 0a1.3 1.3 0 1 0 -2.6 0M227.87 326.74m-1.3 0a1.3 1.3 0 1 0 2.6 0a1.3 1.3 0 1 0 -2.6 0M243.96 333.58m-1.3 0a1.3 1.3 0 1 0 2.6 0a1.3 1.3 0 1 0 -2.6 0M260.05 330.93m-1.3 0a1.3 1.3 0 1 0 2.6 0a1.3 1.3 0 1 0 -2.6 0M276.14 325.11m-1.3 0a1.3 1.3 0 1 0 2.6 0a1.3 1.3 0 1 0 -2.6 0M292.23 312.81m-1.3 0a1.3 1.3 0 1 0 2.6 0a1.3 1.3 0 1 0 -2.6 0M179.60 349.50m-1.3 0a1.3 1.3 0 1 0 2.6 0a1.3 1.3 0 1 0 -2.6 0M195.69 330.13m-1.3 0a1.3 1.3 0 1 0 2.6 0a1.3 1.3 0 1 0 -2.6 0M211.78 307.89m-1.3 0a1.3 1.3 0 1 0 2.6 0a1.3 1.3 0 1 0 -2.6 0M227.87 328.18m-1.3 0a1.3 1.3 0 1 0 2.6 0a1.3 1.3 0 1 0 -2.6 0M243.96 308.80m-1.3 0a1.3 1.3 0 1 0 2.6 0a1.3 1.3 0 1 0 -2.6 0M276.14 338.97m-1.3 0a1.3 1.3 0 1 0 2.6 0a1.3 1.3 0 1 0 -2.6 0M308.32 317.31m-1.3 0a1.3 1.3 0 1 0 2.6 0a1.3 1.3 0 1 0 -2.6 0M179.60 349.50m-1.3 0a1.3 1.3 0 1 0 2.6 0a1.3 1.3 0 1 0 -2.6 0M195.69 326.15m-1.3 0a1.3 1.3 0 1 0 2.6 0a1.3 1.3 0 1 0 -2.6 0M211.78 305.00m-1.3 0a1.3 1.3 0 1 0 2.6 0a1.3 1.3 0 1 0 -2.6 0M227.87 300.80m-1.3 0a1.3 1.3 0 1 0 2.6 0a1.3 1.3 0 1 0 -2.6 0M243.96 314.85m-1.3 0a1.3 1.3 0 1 0 2.6 0a1.3 1.3 0 1 0 -2.6 0M260.05 334.02m-1.3 0a1.3 1.3 0 1 0 2.6 0a1.3 1.3 0 1 0 -2.6 0M276.14 334.62m-1.3 0a1.3 1.3 0 1 0 2.6 0a1.3 1.3 0 1 0 -2.6 0M292.23 337.20m-1.3 0a1.3 1.3 0 1 0 2.6 0a1.3 1.3 0 1 0 -2.6 0M308.32 334.32m-1.3 0a1.3 1.3 0 1 0 2.6 0a1.3 1.3 0 1 0 -2.6 0M179.60 349.50m-1.3 0a1.3 1.3 0 1 0 2.6 0a1.3 1.3 0 1 0 -2.6 0M195.69 302.29m-1.3 0a1.3 1.3 0 1 0 2.6 0a1.3 1.3 0 1 0 -2.6 0M211.78 315.82m-1.3 0a1.3 1.3 0 1 0 2.6 0a1.3 1.3 0 1 0 -2.6 0M227.87 308.38m-1.3 0a1.3 1.3 0 1 0 2.6 0a1.3 1.3 0 1 0 -2.6 0M260.05 327.33m-1.3 0a1.3 1.3 0 1 0 2.6 0a1.3 1.3 0 1 0 -2.6 0M276.14 325.12m-1.3 0a1.3 1.3 0 1 0 2.6 0a1.3 1.3 0 1 0 -2.6 0M292.23 325.08m-1.3 0a1.3 1.3 0 1 0 2.6 0a1.3 1.3 0 1 0 -2.6 0M308.32 333.77m-1.3 0a1.3 1.3 0 1 0 2.6 0a1.3 1.3 0 1 0 -2.6 0M179.60 349.50m-1.3 0a1.3 1.3 0 1 0 2.6 0a1.3 1.3 0 1 0 -2.6 0M195.69 298.60m-1.3 0a1.3 1.3 0 1 0 2.6 0a1.3 1.3 0 1 0 -2.6 0M211.78 305.08m-1.3 0a1.3 1.3 0 1 0 2.6 0a1.3 1.3 0 1 0 -2.6 0M227.87 325.68m-1.3 0a1.3 1.3 0 1 0 2.6 0a1.3 1.3 0 1 0 -2.6 0M260.05 299.60m-1.3 0a1.3 1.3 0 1 0 2.6 0a1.3 1.3 0 1 0 -2.6 0M276.14 326.37m-1.3 0a1.3 1.3 0 1 0 2.6 0a1.3 1.3 0 1 0 -2.6 0M292.23 306.00m-1.3 0a1.3 1.3 0 1 0 2.6 0a1.3 1.3 0 1 0 -2.6 0M308.32 315.90m-1.3 0a1.3 1.3 0 1 0 2.6 0a1.3 1.3 0 1 0 -2.6 0M179.60 349.50m-1.3 0a1.3 1.3 0 1 0 2.6 0a1.3 1.3 0 1 0 -2.6 0M195.69 298.60m-1.3 0a1.3 1.3 0 1 0 2.6 0a1.3 1.3 0 1 0 -2.6 0M211.78 309.13m-1.3 0a1.3 1.3 0 1 0 2.6 0a1.3 1.3 0 1 0 -2.6 0M227.87 298.60m-1.3 0a1.3 1.3 0 1 0 2.6 0a1.3 1.3 0 1 0 -2.6 0M243.96 306.70m-1.3 0a1.3 1.3 0 1 0 2.6 0a1.3 1.3 0 1 0 -2.6 0M276.14 325.57m-1.3 0a1.3 1.3 0 1 0 2.6 0a1.3 1.3 0 1 0 -2.6 0M292.23 315.05m-1.3 0a1.3 1.3 0 1 0 2.6 0a1.3 1.3 0 1 0 -2.6 0M308.32 302.40m-1.3 0a1.3 1.3 0 1 0 2.6 0a1.3 1.3 0 1 0 -2.6 0M179.60 349.50m-1.3 0a1.3 1.3 0 1 0 2.6 0a1.3 1.3 0 1 0 -2.6 0M195.69 298.60m-1.3 0a1.3 1.3 0 1 0 2.6 0a1.3 1.3 0 1 0 -2.6 0M211.78 325.50m-1.3 0a1.3 1.3 0 1 0 2.6 0a1.3 1.3 0 1 0 -2.6 0M227.87 318.81m-1.3 0a1.3 1.3 0 1 0 2.6 0a1.3 1.3 0 1 0 -2.6 0M260.05 299.60m-1.3 0a1.3 1.3 0 1 0 2.6 0a1.3 1.3 0 1 0 -2.6 0M276.14 317.80m-1.3 0a1.3 1.3 0 1 0 2.6 0a1.3 1.3 0 1 0 -2.6 0M292.23 310.38m-1.3 0a1.3 1.3 0 1 0 2.6 0a1.3 1.3 0 1 0 -2.6 0M308.32 302.40m-1.3 0a1.3 1.3 0 1 0 2.6 0a1.3 1.3 0 1 0 -2.6 0M179.60 349.50m-1.3 0a1.3 1.3 0 1 0 2.6 0a1.3 1.3 0 1 0 -2.6 0M195.69 312.18m-1.3 0a1.3 1.3 0 1 0 2.6 0a1.3 1.3 0 1 0 -2.6 0M211.78 308.36m-1.3 0a1.3 1.3 0 1 0 2.6 0a1.3 1.3 0 1 0 -2.6 0M227.87 308.84m-1.3 0a1.3 1.3 0 1 0 2.6 0a1.3 1.3 0 1 0 -2.6 0M260.05 303.41m-1.3 0a1.3 1.3 0 1 0 2.6 0a1.3 1.3 0 1 0 -2.6 0M276.14 321.03m-1.3 0a1.3 1.3 0 1 0 2.6 0a1.3 1.3 0 1 0 -2.6 0M292.23 313.69m-1.3 0a1.3 1.3 0 1 0 2.6 0a1.3 1.3 0 1 0 -2.6 0M308.32 321.04m-1.3 0a1.3 1.3 0 1 0 2.6 0a1.3 1.3 0 1 0 -2.6 0M276.14 299.60m-1.3 0a1.3 1.3 0 1 0 2.6 0a1.3 1.3 0 1 0 -2.6 0M292.23 299.60m-1.3 0a1.3 1.3 0 1 0 2.6 0a1.3 1.3 0 1 0 -2.6 0M308.32 302.00m-1.3 0a1.3 1.3 0 1 0 2.6 0a1.3 1.3 0 1 0 -2.6 0M276.14 299.60m-1.3 0a1.3 1.3 0 1 0 2.6 0a1.3 1.3 0 1 0 -2.6 0M292.23 299.60m-1.3 0a1.3 1.3 0 1 0 2.6 0a1.3 1.3 0 1 0 -2.6 0" fill="#1a1a1a"/>
<path d="M179.60 294.90V292.50H195.69V294.90" stroke="#4D4D4D" stroke-width="0.8" fill="none"/>
<text x="188.24" y="293.00" font-size="7.60" fill="#000" stroke="#000" text-anchor="middle" letter-spacing="1.1">***</text>
<path d="M179.60 289.20V286.80H211.78V289.20" stroke="#4D4D4D" stroke-width="0.8" fill="none"/>
<text x="196.29" y="287.30" font-size="7.60" fill="#000" stroke="#000" text-anchor="middle" letter-spacing="1.1">***</text>
<path d="M179.60 283.70V281.30H227.87V283.70" stroke="#4D4D4D" stroke-width="0.8" fill="none"/>
<text x="204.34" y="281.80" font-size="7.60" fill="#000" stroke="#000" text-anchor="middle" letter-spacing="1.1">***</text>
<path d="M179.60 277.90V275.50H243.96V277.90" stroke="#4D4D4D" stroke-width="0.8" fill="none"/>
<text x="212.38" y="276.00" font-size="7.60" fill="#000" stroke="#000" text-anchor="middle" letter-spacing="1.1">***</text>
<path d="M179.60 272.20V269.80H260.05V272.20" stroke="#4D4D4D" stroke-width="0.8" fill="none"/>
<text x="220.42" y="270.30" font-size="7.60" fill="#000" stroke="#000" text-anchor="middle" letter-spacing="1.1">***</text>
<path d="M179.60 266.70V264.30H276.14V266.70" stroke="#4D4D4D" stroke-width="0.8" fill="none"/>
<text x="228.47" y="264.80" font-size="7.60" fill="#000" stroke="#000" text-anchor="middle" letter-spacing="1.1">***</text>
<path d="M179.60 260.90V258.50H292.23V260.90" stroke="#4D4D4D" stroke-width="0.8" fill="none"/>
<text x="236.52" y="259.00" font-size="7.60" fill="#000" stroke="#000" text-anchor="middle" letter-spacing="1.1">***</text>
<path d="M179.60 255.20V252.80H308.32V255.20" stroke="#4D4D4D" stroke-width="0.8" fill="none"/>
<text x="244.56" y="253.30" font-size="7.60" fill="#000" stroke="#000" text-anchor="middle" letter-spacing="1.1">**</text>
<line x1="351.00" y1="246.60" x2="351.00" y2="380.30" stroke="#4D4D4D" stroke-width="1.0"/>
<line x1="350.50" y1="379.80" x2="499.80" y2="379.80" stroke="#4D4D4D" stroke-width="1.0"/>
<line x1="349.00" y1="349.45" x2="351.00" y2="349.45" stroke="#4D4D4D" stroke-width="0.8"/>
<text x="347.80" y="352.55" font-size="7.80" fill="#4D4D4D" stroke="#4D4D4D" text-anchor="end">−5</text>
<line x1="349.00" y1="313.10" x2="351.00" y2="313.10" stroke="#4D4D4D" stroke-width="0.8"/>
<text x="347.80" y="316.20" font-size="7.80" fill="#4D4D4D" stroke="#4D4D4D" text-anchor="end">0</text>
<line x1="349.00" y1="276.75" x2="351.00" y2="276.75" stroke="#4D4D4D" stroke-width="0.8"/>
<text x="347.80" y="279.85" font-size="7.80" fill="#4D4D4D" stroke="#4D4D4D" text-anchor="end">5</text>
<line x1="360.60" y1="379.80" x2="360.60" y2="381.80" stroke="#4D4D4D" stroke-width="0.8"/>
<text x="360.60" y="389.00" font-size="7.80" fill="#4D4D4D" stroke="#4D4D4D" text-anchor="middle">0</text>
<line x1="376.82" y1="379.80" x2="376.82" y2="381.80" stroke="#4D4D4D" stroke-width="0.8"/>
<text x="376.82" y="389.00" font-size="7.80" fill="#4D4D4D" stroke="#4D4D4D" text-anchor="middle">3</text>
<line x1="393.04" y1="379.80" x2="393.04" y2="381.80" stroke="#4D4D4D" stroke-width="0.8"/>
<text x="393.04" y="389.00" font-size="7.80" fill="#4D4D4D" stroke="#4D4D4D" text-anchor="middle">6</text>
<line x1="409.26" y1="379.80" x2="409.26" y2="381.80" stroke="#4D4D4D" stroke-width="0.8"/>
<text x="409.26" y="389.00" font-size="7.80" fill="#4D4D4D" stroke="#4D4D4D" text-anchor="middle">9</text>
<line x1="425.48" y1="379.80" x2="425.48" y2="381.80" stroke="#4D4D4D" stroke-width="0.8"/>
<text x="425.48" y="389.00" font-size="7.80" fill="#4D4D4D" stroke="#4D4D4D" text-anchor="middle">12</text>
<line x1="441.70" y1="379.80" x2="441.70" y2="381.80" stroke="#4D4D4D" stroke-width="0.8"/>
<text x="441.70" y="389.00" font-size="7.80" fill="#4D4D4D" stroke="#4D4D4D" text-anchor="middle">15</text>
<line x1="457.92" y1="379.80" x2="457.92" y2="381.80" stroke="#4D4D4D" stroke-width="0.8"/>
<text x="457.92" y="389.00" font-size="7.80" fill="#4D4D4D" stroke="#4D4D4D" text-anchor="middle">18</text>
<line x1="474.14" y1="379.80" x2="474.14" y2="381.80" stroke="#4D4D4D" stroke-width="0.8"/>
<text x="474.14" y="389.00" font-size="7.80" fill="#4D4D4D" stroke="#4D4D4D" text-anchor="middle">21</text>
<line x1="490.36" y1="379.80" x2="490.36" y2="381.80" stroke="#4D4D4D" stroke-width="0.8"/>
<text x="490.36" y="389.00" font-size="7.80" fill="#4D4D4D" stroke="#4D4D4D" text-anchor="middle">24</text>
<text x="0" y="0" font-size="9.5" fill="#111" stroke="none" text-anchor="middle" transform="translate(338.20 312.90) rotate(-90)">Delta IgG (g/l)</text>
<text x="324.20" y="245.70" font-size="11.80" fill="#000" stroke="#000" text-anchor="start">d</text>
<path d="M360.60 313.10L376.82 332.53M376.82 332.53L393.04 358.00M393.04 358.00L409.26 358.69M409.26 358.69L425.48 355.67M425.48 355.67L441.70 353.90M441.70 353.90L457.92 361.30M457.92 361.30L474.14 343.39M360.60 313.10L376.82 334.50M376.82 334.50L393.04 358.00M393.04 358.00L409.26 371.30M409.26 371.30L425.48 357.27M425.48 357.27L441.70 341.22M441.70 341.22L457.92 361.30M457.92 361.30L474.14 344.07M474.14 344.07L490.36 353.30M360.60 313.10L376.82 334.13M376.82 334.13L393.04 338.33M393.04 338.33L409.26 349.04M409.26 349.04L425.48 365.60M425.48 365.60L441.70 350.55M441.70 350.55L457.92 345.69M457.92 345.69L474.14 338.93M474.14 338.93L490.36 337.07M360.60 313.10L376.82 328.51M376.82 328.51L393.04 335.93M393.04 335.93L425.48 334.84M425.48 334.84L441.70 339.84M441.70 339.84L474.14 337.77M474.14 337.77L490.36 335.06M360.60 313.10L376.82 329.91M376.82 329.91L393.04 338.29M393.04 338.29L441.70 351.57M441.70 351.57L457.92 350.48M457.92 350.48L474.14 337.91M474.14 337.91L490.36 343.34M360.60 313.10L376.82 326.25M376.82 326.25L393.04 350.51M393.04 350.51L425.48 334.36M425.48 334.36L441.70 333.59M441.70 333.59L457.92 346.99M457.92 346.99L474.14 332.74M474.14 332.74L490.36 349.57M360.60 313.10L376.82 331.48M376.82 331.48L393.04 326.70M393.04 326.70L425.48 347.36M425.48 347.36L441.70 334.51M441.70 334.51L457.92 347.09M457.92 347.09L474.14 336.39M474.14 336.39L490.36 332.27M360.60 313.10L376.82 325.91M376.82 325.91L393.04 331.01M393.04 331.01L409.26 347.93M409.26 347.93L425.48 331.53M425.48 331.53L441.70 334.64M441.70 334.64L457.92 343.68M457.92 343.68L474.14 343.74M474.14 343.74L490.36 343.06M360.60 313.10L376.82 322.40M376.82 322.40L393.04 332.72M393.04 332.72L409.26 327.72M409.26 327.72L425.48 344.96M425.48 344.96L441.70 331.16M441.70 331.16L457.92 338.65M457.92 338.65L474.14 338.01M474.14 338.01L490.36 329.09M360.60 313.10L376.82 324.81M376.82 324.81L393.04 328.99M393.04 328.99L409.26 339.56M409.26 339.56L425.48 330.03M425.48 330.03L441.70 334.22M441.70 334.22L457.92 335.03M457.92 335.03L474.14 341.47M474.14 341.47L490.36 335.85M360.60 313.10L393.04 320.95M393.04 320.95L409.26 320.53M409.26 320.53L425.48 331.34M425.48 331.34L441.70 335.75M441.70 335.75L457.92 323.21M457.92 323.21L474.14 334.76M360.60 313.10L376.82 320.47M376.82 320.47L393.04 320.23M393.04 320.23L409.26 319.39M409.26 319.39L425.48 329.81M425.48 329.81L441.70 330.85M441.70 330.85L457.92 328.45M457.92 328.45L474.14 333.94M474.14 333.94L490.36 335.77M360.60 313.10L376.82 312.62M376.82 312.62L393.04 327.35M393.04 327.35L409.26 322.61M409.26 322.61L425.48 331.00M425.48 331.00L457.92 331.96M457.92 331.96L474.14 327.57M474.14 327.57L490.36 331.54M360.60 313.10L376.82 319.11M376.82 319.11L393.04 317.22M393.04 317.22L409.26 317.27M409.26 317.27L425.48 328.18M425.48 328.18L441.70 334.09M441.70 334.09L457.92 331.62M457.92 331.62L474.14 324.18M474.14 324.18L490.36 327.25M360.60 313.10L376.82 312.29M376.82 312.29L409.26 320.61M409.26 320.61L425.48 316.18M425.48 316.18L441.70 323.35M441.70 323.35L457.92 314.38M457.92 314.38L474.14 325.90M474.14 325.90L490.36 322.79M360.60 313.10L376.82 310.87M376.82 310.87L393.04 318.22M393.04 318.22L409.26 321.03M409.26 321.03L425.48 322.16M425.48 322.16L441.70 329.42M441.70 329.42L457.92 317.05M457.92 317.05L474.14 328.46M474.14 328.46L490.36 324.97M360.60 313.10L376.82 318.09M376.82 318.09L393.04 316.72M393.04 316.72L409.26 316.42M409.26 316.42L457.92 315.74M457.92 315.74L474.14 325.15M474.14 325.15L490.36 316.55M360.60 313.10L376.82 308.66M376.82 308.66L393.04 308.32M393.04 308.32L409.26 311.30M409.26 311.30L425.48 304.98M425.48 304.98L441.70 323.93M441.70 323.93L457.92 311.86M457.92 311.86L474.14 323.27M474.14 323.27L490.36 313.98M360.60 313.10L376.82 313.64M376.82 313.64L409.26 317.89M409.26 317.89L425.48 312.86M425.48 312.86L441.70 312.95M441.70 312.95L457.92 319.31M457.92 319.31L474.14 324.99M474.14 324.99L490.36 319.70M360.60 313.10L376.82 304.48M376.82 304.48L393.04 309.93M393.04 309.93L409.26 305.29M409.26 305.29L425.48 317.11M425.48 317.11L441.70 324.62M441.70 324.62L457.92 307.29M457.92 307.29L474.14 321.30M474.14 321.30L490.36 300.06M360.60 313.10L376.82 310.98M376.82 310.98L393.04 313.41M393.04 313.41L409.26 300.88M409.26 300.88L425.48 315.84M425.48 315.84L457.92 313.72M457.92 313.72L490.36 298.52M360.60 313.10L376.82 311.12M376.82 311.12L425.48 287.60M425.48 287.60L441.70 308.06M441.70 308.06L457.92 311.52M457.92 311.52L474.14 307.30M474.14 307.30L490.36 294.90M360.60 313.10L376.82 303.60M376.82 303.60L393.04 306.85M393.04 306.85L425.48 287.60M425.48 287.60L441.70 319.13M441.70 319.13L457.92 304.22M457.92 304.22L490.36 295.71M360.60 313.10L376.82 304.61M376.82 304.61L393.04 305.39M393.04 305.39L409.26 298.60M409.26 298.60L425.48 287.60M425.48 287.60L441.70 304.40M441.70 304.40L457.92 305.53M457.92 305.53L474.14 307.30M360.60 313.10L376.82 361.10M376.82 361.10L393.04 369.20M393.04 369.20L409.26 356.50M409.26 356.50L457.92 361.30M457.92 361.30L474.14 368.50M360.60 313.10L376.82 373.40M376.82 373.40L393.04 358.00M393.04 358.00L409.26 371.30M409.26 371.30L425.48 374.00M425.48 374.00L441.70 353.90M441.70 353.90L490.36 353.30M360.60 313.10L376.82 334.00M376.82 334.00L393.04 351.20M393.04 351.20L409.26 340.00M409.26 340.00L425.48 365.60M425.48 365.60L441.70 345.00M441.70 345.00L457.92 350.00M457.92 350.00L474.14 351.20M474.14 351.20L490.36 345.00" stroke="#5a5a5a" stroke-opacity="0.6" stroke-width="0.5" fill="none"/>
<line x1="354.45" y1="313.10" x2="366.75" y2="313.10" stroke="#333" stroke-width="1.6"/>
<path d="M376.82 303.60V311.30M376.82 327.10V334.50" stroke="#222" stroke-width="0.9"/>
<rect x="370.67" y="311.30" width="12.30" height="15.80" fill="#D9D36E" fill-opacity="0.8" stroke="#333333" stroke-width="0.8"/>
<line x1="370.67" y1="320.40" x2="382.97" y2="320.40" stroke="#222" stroke-width="1.1"/>
<path d="M393.04 300.70V310.70M393.04 333.00V358.00" stroke="#222" stroke-width="0.9"/>
<rect x="386.89" y="310.70" width="12.30" height="22.30" fill="#8FB0D8" fill-opacity="0.8" stroke="#333333" stroke-width="0.8"/>
<line x1="386.89" y1="322.30" x2="399.19" y2="322.30" stroke="#222" stroke-width="1.1"/>
<path d="M409.26 298.60V313.40M409.26 337.50V371.30" stroke="#222" stroke-width="0.9"/>
<rect x="403.11" y="313.40" width="12.30" height="24.10" fill="#8FB0D8" fill-opacity="0.8" stroke="#333333" stroke-width="0.8"/>
<line x1="403.11" y1="324.20" x2="415.41" y2="324.20" stroke="#222" stroke-width="1.1"/>
<path d="M425.48 287.60V314.30M425.48 337.10V365.60" stroke="#222" stroke-width="0.9"/>
<rect x="419.33" y="314.30" width="12.30" height="22.80" fill="#8FB0D8" fill-opacity="0.8" stroke="#333333" stroke-width="0.8"/>
<line x1="419.33" y1="327.60" x2="431.63" y2="327.60" stroke="#222" stroke-width="1.1"/>
<path d="M441.70 304.40V323.30M441.70 338.50V353.90" stroke="#222" stroke-width="0.9"/>
<rect x="435.55" y="323.30" width="12.30" height="15.20" fill="#D9A0BE" fill-opacity="0.8" stroke="#333333" stroke-width="0.8"/>
<line x1="435.55" y1="330.90" x2="447.85" y2="330.90" stroke="#222" stroke-width="1.1"/>
<path d="M457.92 303.60V314.30M457.92 337.90V361.30" stroke="#222" stroke-width="0.9"/>
<rect x="451.77" y="314.30" width="12.30" height="23.60" fill="#D9A0BE" fill-opacity="0.8" stroke="#333333" stroke-width="0.8"/>
<line x1="451.77" y1="326.10" x2="464.07" y2="326.10" stroke="#222" stroke-width="1.1"/>
<path d="M474.14 307.30V322.70M474.14 340.30V351.20" stroke="#222" stroke-width="0.9"/>
<rect x="467.99" y="322.70" width="12.30" height="17.60" fill="#80C9A8" fill-opacity="0.8" stroke="#333333" stroke-width="0.8"/>
<line x1="467.99" y1="328.90" x2="480.29" y2="328.90" stroke="#222" stroke-width="1.1"/>
<path d="M490.36 294.90V313.70M490.36 339.00V353.30" stroke="#222" stroke-width="0.9"/>
<rect x="484.21" y="313.70" width="12.30" height="25.30" fill="#80C9A8" fill-opacity="0.8" stroke="#333333" stroke-width="0.8"/>
<line x1="484.21" y1="327.40" x2="496.51" y2="327.40" stroke="#222" stroke-width="1.1"/>
<path d="M360.60 313.10m-1.3 0a1.3 1.3 0 1 0 2.6 0a1.3 1.3 0 1 0 -2.6 0M376.82 332.53m-1.3 0a1.3 1.3 0 1 0 2.6 0a1.3 1.3 0 1 0 -2.6 0M393.04 358.00m-1.3 0a1.3 1.3 0 1 0 2.6 0a1.3 1.3 0 1 0 -2.6 0M409.26 358.69m-1.3 0a1.3 1.3 0 1 0 2.6 0a1.3 1.3 0 1 0 -2.6 0M425.48 355.67m-1.3 0a1.3 1.3 0 1 0 2.6 0a1.3 1.3 0 1 0 -2.6 0M441.70 353.90m-1.3 0a1.3 1.3 0 1 0 2.6 0a1.3 1.3 0 1 0 -2.6 0M457.92 361.30m-1.3 0a1.3 1.3 0 1 0 2.6 0a1.3 1.3 0 1 0 -2.6 0M474.14 343.39m-1.3 0a1.3 1.3 0 1 0 2.6 0a1.3 1.3 0 1 0 -2.6 0M360.60 313.10m-1.3 0a1.3 1.3 0 1 0 2.6 0a1.3 1.3 0 1 0 -2.6 0M376.82 334.50m-1.3 0a1.3 1.3 0 1 0 2.6 0a1.3 1.3 0 1 0 -2.6 0M393.04 358.00m-1.3 0a1.3 1.3 0 1 0 2.6 0a1.3 1.3 0 1 0 -2.6 0M409.26 371.30m-1.3 0a1.3 1.3 0 1 0 2.6 0a1.3 1.3 0 1 0 -2.6 0M425.48 357.27m-1.3 0a1.3 1.3 0 1 0 2.6 0a1.3 1.3 0 1 0 -2.6 0M441.70 341.22m-1.3 0a1.3 1.3 0 1 0 2.6 0a1.3 1.3 0 1 0 -2.6 0M457.92 361.30m-1.3 0a1.3 1.3 0 1 0 2.6 0a1.3 1.3 0 1 0 -2.6 0M474.14 344.07m-1.3 0a1.3 1.3 0 1 0 2.6 0a1.3 1.3 0 1 0 -2.6 0M490.36 353.30m-1.3 0a1.3 1.3 0 1 0 2.6 0a1.3 1.3 0 1 0 -2.6 0M360.60 313.10m-1.3 0a1.3 1.3 0 1 0 2.6 0a1.3 1.3 0 1 0 -2.6 0M376.82 334.13m-1.3 0a1.3 1.3 0 1 0 2.6 0a1.3 1.3 0 1 0 -2.6 0M393.04 338.33m-1.3 0a1.3 1.3 0 1 0 2.6 0a1.3 1.3 0 1 0 -2.6 0M409.26 349.04m-1.3 0a1.3 1.3 0 1 0 2.6 0a1.3 1.3 0 1 0 -2.6 0M425.48 365.60m-1.3 0a1.3 1.3 0 1 0 2.6 0a1.3 1.3 0 1 0 -2.6 0M441.70 350.55m-1.3 0a1.3 1.3 0 1 0 2.6 0a1.3 1.3 0 1 0 -2.6 0M457.92 345.69m-1.3 0a1.3 1.3 0 1 0 2.6 0a1.3 1.3 0 1 0 -2.6 0M474.14 338.93m-1.3 0a1.3 1.3 0 1 0 2.6 0a1.3 1.3 0 1 0 -2.6 0M490.36 337.07m-1.3 0a1.3 1.3 0 1 0 2.6 0a1.3 1.3 0 1 0 -2.6 0M360.60 313.10m-1.3 0a1.3 1.3 0 1 0 2.6 0a1.3 1.3 0 1 0 -2.6 0M376.82 328.51m-1.3 0a1.3 1.3 0 1 0 2.6 0a1.3 1.3 0 1 0 -2.6 0M393.04 335.93m-1.3 0a1.3 1.3 0 1 0 2.6 0a1.3 1.3 0 1 0 -2.6 0M425.48 334.84m-1.3 0a1.3 1.3 0 1 0 2.6 0a1.3 1.3 0 1 0 -2.6 0M441.70 339.84m-1.3 0a1.3 1.3 0 1 0 2.6 0a1.3 1.3 0 1 0 -2.6 0M474.14 337.77m-1.3 0a1.3 1.3 0 1 0 2.6 0a1.3 1.3 0 1 0 -2.6 0M490.36 335.06m-1.3 0a1.3 1.3 0 1 0 2.6 0a1.3 1.3 0 1 0 -2.6 0M360.60 313.10m-1.3 0a1.3 1.3 0 1 0 2.6 0a1.3 1.3 0 1 0 -2.6 0M376.82 329.91m-1.3 0a1.3 1.3 0 1 0 2.6 0a1.3 1.3 0 1 0 -2.6 0M393.04 338.29m-1.3 0a1.3 1.3 0 1 0 2.6 0a1.3 1.3 0 1 0 -2.6 0M441.70 351.57m-1.3 0a1.3 1.3 0 1 0 2.6 0a1.3 1.3 0 1 0 -2.6 0M457.92 350.48m-1.3 0a1.3 1.3 0 1 0 2.6 0a1.3 1.3 0 1 0 -2.6 0M474.14 337.91m-1.3 0a1.3 1.3 0 1 0 2.6 0a1.3 1.3 0 1 0 -2.6 0M490.36 343.34m-1.3 0a1.3 1.3 0 1 0 2.6 0a1.3 1.3 0 1 0 -2.6 0M360.60 313.10m-1.3 0a1.3 1.3 0 1 0 2.6 0a1.3 1.3 0 1 0 -2.6 0M376.82 326.25m-1.3 0a1.3 1.3 0 1 0 2.6 0a1.3 1.3 0 1 0 -2.6 0M393.04 350.51m-1.3 0a1.3 1.3 0 1 0 2.6 0a1.3 1.3 0 1 0 -2.6 0M425.48 334.36m-1.3 0a1.3 1.3 0 1 0 2.6 0a1.3 1.3 0 1 0 -2.6 0M441.70 333.59m-1.3 0a1.3 1.3 0 1 0 2.6 0a1.3 1.3 0 1 0 -2.6 0M457.92 346.99m-1.3 0a1.3 1.3 0 1 0 2.6 0a1.3 1.3 0 1 0 -2.6 0M474.14 332.74m-1.3 0a1.3 1.3 0 1 0 2.6 0a1.3 1.3 0 1 0 -2.6 0M490.36 349.57m-1.3 0a1.3 1.3 0 1 0 2.6 0a1.3 1.3 0 1 0 -2.6 0M360.60 313.10m-1.3 0a1.3 1.3 0 1 0 2.6 0a1.3 1.3 0 1 0 -2.6 0M376.82 331.48m-1.3 0a1.3 1.3 0 1 0 2.6 0a1.3 1.3 0 1 0 -2.6 0M393.04 326.70m-1.3 0a1.3 1.3 0 1 0 2.6 0a1.3 1.3 0 1 0 -2.6 0M425.48 347.36m-1.3 0a1.3 1.3 0 1 0 2.6 0a1.3 1.3 0 1 0 -2.6 0M441.70 334.51m-1.3 0a1.3 1.3 0 1 0 2.6 0a1.3 1.3 0 1 0 -2.6 0M457.92 347.09m-1.3 0a1.3 1.3 0 1 0 2.6 0a1.3 1.3 0 1 0 -2.6 0M474.14 336.39m-1.3 0a1.3 1.3 0 1 0 2.6 0a1.3 1.3 0 1 0 -2.6 0M490.36 332.27m-1.3 0a1.3 1.3 0 1 0 2.6 0a1.3 1.3 0 1 0 -2.6 0M360.60 313.10m-1.3 0a1.3 1.3 0 1 0 2.6 0a1.3 1.3 0 1 0 -2.6 0M376.82 325.91m-1.3 0a1.3 1.3 0 1 0 2.6 0a1.3 1.3 0 1 0 -2.6 0M393.04 331.01m-1.3 0a1.3 1.3 0 1 0 2.6 0a1.3 1.3 0 1 0 -2.6 0M409.26 347.93m-1.3 0a1.3 1.3 0 1 0 2.6 0a1.3 1.3 0 1 0 -2.6 0M425.48 331.53m-1.3 0a1.3 1.3 0 1 0 2.6 0a1.3 1.3 0 1 0 -2.6 0M441.70 334.64m-1.3 0a1.3 1.3 0 1 0 2.6 0a1.3 1.3 0 1 0 -2.6 0M457.92 343.68m-1.3 0a1.3 1.3 0 1 0 2.6 0a1.3 1.3 0 1 0 -2.6 0M474.14 343.74m-1.3 0a1.3 1.3 0 1 0 2.6 0a1.3 1.3 0 1 0 -2.6 0M490.36 343.06m-1.3 0a1.3 1.3 0 1 0 2.6 0a1.3 1.3 0 1 0 -2.6 0M360.60 313.10m-1.3 0a1.3 1.3 0 1 0 2.6 0a1.3 1.3 0 1 0 -2.6 0M376.82 322.40m-1.3 0a1.3 1.3 0 1 0 2.6 0a1.3 1.3 0 1 0 -2.6 0M393.04 332.72m-1.3 0a1.3 1.3 0 1 0 2.6 0a1.3 1.3 0 1 0 -2.6 0M409.26 327.72m-1.3 0a1.3 1.3 0 1 0 2.6 0a1.3 1.3 0 1 0 -2.6 0M425.48 344.96m-1.3 0a1.3 1.3 0 1 0 2.6 0a1.3 1.3 0 1 0 -2.6 0M441.70 331.16m-1.3 0a1.3 1.3 0 1 0 2.6 0a1.3 1.3 0 1 0 -2.6 0M457.92 338.65m-1.3 0a1.3 1.3 0 1 0 2.6 0a1.3 1.3 0 1 0 -2.6 0M474.14 338.01m-1.3 0a1.3 1.3 0 1 0 2.6 0a1.3 1.3 0 1 0 -2.6 0M490.36 329.09m-1.3 0a1.3 1.3 0 1 0 2.6 0a1.3 1.3 0 1 0 -2.6 0M360.60 313.10m-1.3 0a1.3 1.3 0 1 0 2.6 0a1.3 1.3 0 1 0 -2.6 0M376.82 324.81m-1.3 0a1.3 1.3 0 1 0 2.6 0a1.3 1.3 0 1 0 -2.6 0M393.04 328.99m-1.3 0a1.3 1.3 0 1 0 2.6 0a1.3 1.3 0 1 0 -2.6 0M409.26 339.56m-1.3 0a1.3 1.3 0 1 0 2.6 0a1.3 1.3 0 1 0 -2.6 0M425.48 330.03m-1.3 0a1.3 1.3 0 1 0 2.6 0a1.3 1.3 0 1 0 -2.6 0M441.70 334.22m-1.3 0a1.3 1.3 0 1 0 2.6 0a1.3 1.3 0 1 0 -2.6 0M457.92 335.03m-1.3 0a1.3 1.3 0 1 0 2.6 0a1.3 1.3 0 1 0 -2.6 0M474.14 341.47m-1.3 0a1.3 1.3 0 1 0 2.6 0a1.3 1.3 0 1 0 -2.6 0M490.36 335.85m-1.3 0a1.3 1.3 0 1 0 2.6 0a1.3 1.3 0 1 0 -2.6 0M360.60 313.10m-1.3 0a1.3 1.3 0 1 0 2.6 0a1.3 1.3 0 1 0 -2.6 0M393.04 320.95m-1.3 0a1.3 1.3 0 1 0 2.6 0a1.3 1.3 0 1 0 -2.6 0M409.26 320.53m-1.3 0a1.3 1.3 0 1 0 2.6 0a1.3 1.3 0 1 0 -2.6 0M425.48 331.34m-1.3 0a1.3 1.3 0 1 0 2.6 0a1.3 1.3 0 1 0 -2.6 0M441.70 335.75m-1.3 0a1.3 1.3 0 1 0 2.6 0a1.3 1.3 0 1 0 -2.6 0M457.92 323.21m-1.3 0a1.3 1.3 0 1 0 2.6 0a1.3 1.3 0 1 0 -2.6 0M474.14 334.76m-1.3 0a1.3 1.3 0 1 0 2.6 0a1.3 1.3 0 1 0 -2.6 0M360.60 313.10m-1.3 0a1.3 1.3 0 1 0 2.6 0a1.3 1.3 0 1 0 -2.6 0M376.82 320.47m-1.3 0a1.3 1.3 0 1 0 2.6 0a1.3 1.3 0 1 0 -2.6 0M393.04 320.23m-1.3 0a1.3 1.3 0 1 0 2.6 0a1.3 1.3 0 1 0 -2.6 0M409.26 319.39m-1.3 0a1.3 1.3 0 1 0 2.6 0a1.3 1.3 0 1 0 -2.6 0M425.48 329.81m-1.3 0a1.3 1.3 0 1 0 2.6 0a1.3 1.3 0 1 0 -2.6 0M441.70 330.85m-1.3 0a1.3 1.3 0 1 0 2.6 0a1.3 1.3 0 1 0 -2.6 0M457.92 328.45m-1.3 0a1.3 1.3 0 1 0 2.6 0a1.3 1.3 0 1 0 -2.6 0M474.14 333.94m-1.3 0a1.3 1.3 0 1 0 2.6 0a1.3 1.3 0 1 0 -2.6 0M490.36 335.77m-1.3 0a1.3 1.3 0 1 0 2.6 0a1.3 1.3 0 1 0 -2.6 0M360.60 313.10m-1.3 0a1.3 1.3 0 1 0 2.6 0a1.3 1.3 0 1 0 -2.6 0M376.82 312.62m-1.3 0a1.3 1.3 0 1 0 2.6 0a1.3 1.3 0 1 0 -2.6 0M393.04 327.35m-1.3 0a1.3 1.3 0 1 0 2.6 0a1.3 1.3 0 1 0 -2.6 0M409.26 322.61m-1.3 0a1.3 1.3 0 1 0 2.6 0a1.3 1.3 0 1 0 -2.6 0M425.48 331.00m-1.3 0a1.3 1.3 0 1 0 2.6 0a1.3 1.3 0 1 0 -2.6 0M457.92 331.96m-1.3 0a1.3 1.3 0 1 0 2.6 0a1.3 1.3 0 1 0 -2.6 0M474.14 327.57m-1.3 0a1.3 1.3 0 1 0 2.6 0a1.3 1.3 0 1 0 -2.6 0M490.36 331.54m-1.3 0a1.3 1.3 0 1 0 2.6 0a1.3 1.3 0 1 0 -2.6 0M360.60 313.10m-1.3 0a1.3 1.3 0 1 0 2.6 0a1.3 1.3 0 1 0 -2.6 0M376.82 319.11m-1.3 0a1.3 1.3 0 1 0 2.6 0a1.3 1.3 0 1 0 -2.6 0M393.04 317.22m-1.3 0a1.3 1.3 0 1 0 2.6 0a1.3 1.3 0 1 0 -2.6 0M409.26 317.27m-1.3 0a1.3 1.3 0 1 0 2.6 0a1.3 1.3 0 1 0 -2.6 0M425.48 328.18m-1.3 0a1.3 1.3 0 1 0 2.6 0a1.3 1.3 0 1 0 -2.6 0M441.70 334.09m-1.3 0a1.3 1.3 0 1 0 2.6 0a1.3 1.3 0 1 0 -2.6 0M457.92 331.62m-1.3 0a1.3 1.3 0 1 0 2.6 0a1.3 1.3 0 1 0 -2.6 0M474.14 324.18m-1.3 0a1.3 1.3 0 1 0 2.6 0a1.3 1.3 0 1 0 -2.6 0M490.36 327.25m-1.3 0a1.3 1.3 0 1 0 2.6 0a1.3 1.3 0 1 0 -2.6 0M360.60 313.10m-1.3 0a1.3 1.3 0 1 0 2.6 0a1.3 1.3 0 1 0 -2.6 0M376.82 312.29m-1.3 0a1.3 1.3 0 1 0 2.6 0a1.3 1.3 0 1 0 -2.6 0M409.26 320.61m-1.3 0a1.3 1.3 0 1 0 2.6 0a1.3 1.3 0 1 0 -2.6 0M425.48 316.18m-1.3 0a1.3 1.3 0 1 0 2.6 0a1.3 1.3 0 1 0 -2.6 0M441.70 323.35m-1.3 0a1.3 1.3 0 1 0 2.6 0a1.3 1.3 0 1 0 -2.6 0M457.92 314.38m-1.3 0a1.3 1.3 0 1 0 2.6 0a1.3 1.3 0 1 0 -2.6 0M474.14 325.90m-1.3 0a1.3 1.3 0 1 0 2.6 0a1.3 1.3 0 1 0 -2.6 0M490.36 322.79m-1.3 0a1.3 1.3 0 1 0 2.6 0a1.3 1.3 0 1 0 -2.6 0M360.60 313.10m-1.3 0a1.3 1.3 0 1 0 2.6 0a1.3 1.3 0 1 0 -2.6 0M376.82 310.87m-1.3 0a1.3 1.3 0 1 0 2.6 0a1.3 1.3 0 1 0 -2.6 0M393.04 318.22m-1.3 0a1.3 1.3 0 1 0 2.6 0a1.3 1.3 0 1 0 -2.6 0M409.26 321.03m-1.3 0a1.3 1.3 0 1 0 2.6 0a1.3 1.3 0 1 0 -2.6 0M425.48 322.16m-1.3 0a1.3 1.3 0 1 0 2.6 0a1.3 1.3 0 1 0 -2.6 0M441.70 329.42m-1.3 0a1.3 1.3 0 1 0 2.6 0a1.3 1.3 0 1 0 -2.6 0M457.92 317.05m-1.3 0a1.3 1.3 0 1 0 2.6 0a1.3 1.3 0 1 0 -2.6 0M474.14 328.46m-1.3 0a1.3 1.3 0 1 0 2.6 0a1.3 1.3 0 1 0 -2.6 0M490.36 324.97m-1.3 0a1.3 1.3 0 1 0 2.6 0a1.3 1.3 0 1 0 -2.6 0M360.60 313.10m-1.3 0a1.3 1.3 0 1 0 2.6 0a1.3 1.3 0 1 0 -2.6 0M376.82 318.09m-1.3 0a1.3 1.3 0 1 0 2.6 0a1.3 1.3 0 1 0 -2.6 0M393.04 316.72m-1.3 0a1.3 1.3 0 1 0 2.6 0a1.3 1.3 0 1 0 -2.6 0M409.26 316.42m-1.3 0a1.3 1.3 0 1 0 2.6 0a1.3 1.3 0 1 0 -2.6 0M457.92 315.74m-1.3 0a1.3 1.3 0 1 0 2.6 0a1.3 1.3 0 1 0 -2.6 0M474.14 325.15m-1.3 0a1.3 1.3 0 1 0 2.6 0a1.3 1.3 0 1 0 -2.6 0M490.36 316.55m-1.3 0a1.3 1.3 0 1 0 2.6 0a1.3 1.3 0 1 0 -2.6 0M360.60 313.10m-1.3 0a1.3 1.3 0 1 0 2.6 0a1.3 1.3 0 1 0 -2.6 0M376.82 308.66m-1.3 0a1.3 1.3 0 1 0 2.6 0a1.3 1.3 0 1 0 -2.6 0M393.04 308.32m-1.3 0a1.3 1.3 0 1 0 2.6 0a1.3 1.3 0 1 0 -2.6 0M409.26 311.30m-1.3 0a1.3 1.3 0 1 0 2.6 0a1.3 1.3 0 1 0 -2.6 0M425.48 304.98m-1.3 0a1.3 1.3 0 1 0 2.6 0a1.3 1.3 0 1 0 -2.6 0M441.70 323.93m-1.3 0a1.3 1.3 0 1 0 2.6 0a1.3 1.3 0 1 0 -2.6 0M457.92 311.86m-1.3 0a1.3 1.3 0 1 0 2.6 0a1.3 1.3 0 1 0 -2.6 0M474.14 323.27m-1.3 0a1.3 1.3 0 1 0 2.6 0a1.3 1.3 0 1 0 -2.6 0M490.36 313.98m-1.3 0a1.3 1.3 0 1 0 2.6 0a1.3 1.3 0 1 0 -2.6 0M360.60 313.10m-1.3 0a1.3 1.3 0 1 0 2.6 0a1.3 1.3 0 1 0 -2.6 0M376.82 313.64m-1.3 0a1.3 1.3 0 1 0 2.6 0a1.3 1.3 0 1 0 -2.6 0M409.26 317.89m-1.3 0a1.3 1.3 0 1 0 2.6 0a1.3 1.3 0 1 0 -2.6 0M425.48 312.86m-1.3 0a1.3 1.3 0 1 0 2.6 0a1.3 1.3 0 1 0 -2.6 0M441.70 312.95m-1.3 0a1.3 1.3 0 1 0 2.6 0a1.3 1.3 0 1 0 -2.6 0M457.92 319.31m-1.3 0a1.3 1.3 0 1 0 2.6 0a1.3 1.3 0 1 0 -2.6 0M474.14 324.99m-1.3 0a1.3 1.3 0 1 0 2.6 0a1.3 1.3 0 1 0 -2.6 0M490.36 319.70m-1.3 0a1.3 1.3 0 1 0 2.6 0a1.3 1.3 0 1 0 -2.6 0M360.60 313.10m-1.3 0a1.3 1.3 0 1 0 2.6 0a1.3 1.3 0 1 0 -2.6 0M376.82 304.48m-1.3 0a1.3 1.3 0 1 0 2.6 0a1.3 1.3 0 1 0 -2.6 0M393.04 309.93m-1.3 0a1.3 1.3 0 1 0 2.6 0a1.3 1.3 0 1 0 -2.6 0M409.26 305.29m-1.3 0a1.3 1.3 0 1 0 2.6 0a1.3 1.3 0 1 0 -2.6 0M425.48 317.11m-1.3 0a1.3 1.3 0 1 0 2.6 0a1.3 1.3 0 1 0 -2.6 0M441.70 324.62m-1.3 0a1.3 1.3 0 1 0 2.6 0a1.3 1.3 0 1 0 -2.6 0M457.92 307.29m-1.3 0a1.3 1.3 0 1 0 2.6 0a1.3 1.3 0 1 0 -2.6 0M474.14 321.30m-1.3 0a1.3 1.3 0 1 0 2.6 0a1.3 1.3 0 1 0 -2.6 0M490.36 300.06m-1.3 0a1.3 1.3 0 1 0 2.6 0a1.3 1.3 0 1 0 -2.6 0M360.60 313.10m-1.3 0a1.3 1.3 0 1 0 2.6 0a1.3 1.3 0 1 0 -2.6 0M376.82 310.98m-1.3 0a1.3 1.3 0 1 0 2.6 0a1.3 1.3 0 1 0 -2.6 0M393.04 313.41m-1.3 0a1.3 1.3 0 1 0 2.6 0a1.3 1.3 0 1 0 -2.6 0M409.26 300.88m-1.3 0a1.3 1.3 0 1 0 2.6 0a1.3 1.3 0 1 0 -2.6 0M425.48 315.84m-1.3 0a1.3 1.3 0 1 0 2.6 0a1.3 1.3 0 1 0 -2.6 0M457.92 313.72m-1.3 0a1.3 1.3 0 1 0 2.6 0a1.3 1.3 0 1 0 -2.6 0M490.36 298.52m-1.3 0a1.3 1.3 0 1 0 2.6 0a1.3 1.3 0 1 0 -2.6 0M360.60 313.10m-1.3 0a1.3 1.3 0 1 0 2.6 0a1.3 1.3 0 1 0 -2.6 0M376.82 311.12m-1.3 0a1.3 1.3 0 1 0 2.6 0a1.3 1.3 0 1 0 -2.6 0M425.48 287.60m-1.3 0a1.3 1.3 0 1 0 2.6 0a1.3 1.3 0 1 0 -2.6 0M441.70 308.06m-1.3 0a1.3 1.3 0 1 0 2.6 0a1.3 1.3 0 1 0 -2.6 0M457.92 311.52m-1.3 0a1.3 1.3 0 1 0 2.6 0a1.3 1.3 0 1 0 -2.6 0M474.14 307.30m-1.3 0a1.3 1.3 0 1 0 2.6 0a1.3 1.3 0 1 0 -2.6 0M490.36 294.90m-1.3 0a1.3 1.3 0 1 0 2.6 0a1.3 1.3 0 1 0 -2.6 0M360.60 313.10m-1.3 0a1.3 1.3 0 1 0 2.6 0a1.3 1.3 0 1 0 -2.6 0M376.82 303.60m-1.3 0a1.3 1.3 0 1 0 2.6 0a1.3 1.3 0 1 0 -2.6 0M393.04 306.85m-1.3 0a1.3 1.3 0 1 0 2.6 0a1.3 1.3 0 1 0 -2.6 0M425.48 287.60m-1.3 0a1.3 1.3 0 1 0 2.6 0a1.3 1.3 0 1 0 -2.6 0M441.70 319.13m-1.3 0a1.3 1.3 0 1 0 2.6 0a1.3 1.3 0 1 0 -2.6 0M457.92 304.22m-1.3 0a1.3 1.3 0 1 0 2.6 0a1.3 1.3 0 1 0 -2.6 0M490.36 295.71m-1.3 0a1.3 1.3 0 1 0 2.6 0a1.3 1.3 0 1 0 -2.6 0M360.60 313.10m-1.3 0a1.3 1.3 0 1 0 2.6 0a1.3 1.3 0 1 0 -2.6 0M376.82 304.61m-1.3 0a1.3 1.3 0 1 0 2.6 0a1.3 1.3 0 1 0 -2.6 0M393.04 305.39m-1.3 0a1.3 1.3 0 1 0 2.6 0a1.3 1.3 0 1 0 -2.6 0M409.26 298.60m-1.3 0a1.3 1.3 0 1 0 2.6 0a1.3 1.3 0 1 0 -2.6 0M425.48 287.60m-1.3 0a1.3 1.3 0 1 0 2.6 0a1.3 1.3 0 1 0 -2.6 0M441.70 304.40m-1.3 0a1.3 1.3 0 1 0 2.6 0a1.3 1.3 0 1 0 -2.6 0M457.92 305.53m-1.3 0a1.3 1.3 0 1 0 2.6 0a1.3 1.3 0 1 0 -2.6 0M474.14 307.30m-1.3 0a1.3 1.3 0 1 0 2.6 0a1.3 1.3 0 1 0 -2.6 0M360.60 313.10m-1.3 0a1.3 1.3 0 1 0 2.6 0a1.3 1.3 0 1 0 -2.6 0M376.82 361.10m-1.3 0a1.3 1.3 0 1 0 2.6 0a1.3 1.3 0 1 0 -2.6 0M393.04 369.20m-1.3 0a1.3 1.3 0 1 0 2.6 0a1.3 1.3 0 1 0 -2.6 0M409.26 356.50m-1.3 0a1.3 1.3 0 1 0 2.6 0a1.3 1.3 0 1 0 -2.6 0M457.92 361.30m-1.3 0a1.3 1.3 0 1 0 2.6 0a1.3 1.3 0 1 0 -2.6 0M474.14 368.50m-1.3 0a1.3 1.3 0 1 0 2.6 0a1.3 1.3 0 1 0 -2.6 0M360.60 313.10m-1.3 0a1.3 1.3 0 1 0 2.6 0a1.3 1.3 0 1 0 -2.6 0M376.82 373.40m-1.3 0a1.3 1.3 0 1 0 2.6 0a1.3 1.3 0 1 0 -2.6 0M393.04 358.00m-1.3 0a1.3 1.3 0 1 0 2.6 0a1.3 1.3 0 1 0 -2.6 0M409.26 371.30m-1.3 0a1.3 1.3 0 1 0 2.6 0a1.3 1.3 0 1 0 -2.6 0M425.48 374.00m-1.3 0a1.3 1.3 0 1 0 2.6 0a1.3 1.3 0 1 0 -2.6 0M441.70 353.90m-1.3 0a1.3 1.3 0 1 0 2.6 0a1.3 1.3 0 1 0 -2.6 0M490.36 353.30m-1.3 0a1.3 1.3 0 1 0 2.6 0a1.3 1.3 0 1 0 -2.6 0M360.60 313.10m-1.3 0a1.3 1.3 0 1 0 2.6 0a1.3 1.3 0 1 0 -2.6 0M376.82 334.00m-1.3 0a1.3 1.3 0 1 0 2.6 0a1.3 1.3 0 1 0 -2.6 0M393.04 351.20m-1.3 0a1.3 1.3 0 1 0 2.6 0a1.3 1.3 0 1 0 -2.6 0M409.26 340.00m-1.3 0a1.3 1.3 0 1 0 2.6 0a1.3 1.3 0 1 0 -2.6 0M425.48 365.60m-1.3 0a1.3 1.3 0 1 0 2.6 0a1.3 1.3 0 1 0 -2.6 0M441.70 345.00m-1.3 0a1.3 1.3 0 1 0 2.6 0a1.3 1.3 0 1 0 -2.6 0M457.92 350.00m-1.3 0a1.3 1.3 0 1 0 2.6 0a1.3 1.3 0 1 0 -2.6 0M474.14 351.20m-1.3 0a1.3 1.3 0 1 0 2.6 0a1.3 1.3 0 1 0 -2.6 0M490.36 345.00m-1.3 0a1.3 1.3 0 1 0 2.6 0a1.3 1.3 0 1 0 -2.6 0" fill="#1a1a1a"/>
<path d="M360.60 298.70V296.30H376.82V298.70" stroke="#4D4D4D" stroke-width="0.8" fill="none"/>
<text x="369.31" y="296.80" font-size="7.60" fill="#000" stroke="#000" text-anchor="middle" letter-spacing="1.1">***</text>
<path d="M360.60 292.20V289.80H393.04V292.20" stroke="#4D4D4D" stroke-width="0.8" fill="none"/>
<text x="377.42" y="290.30" font-size="7.60" fill="#000" stroke="#000" text-anchor="middle" letter-spacing="1.1">***</text>
<path d="M360.60 286.00V283.60H409.26V286.00" stroke="#4D4D4D" stroke-width="0.8" fill="none"/>
<text x="385.53" y="284.10" font-size="7.60" fill="#000" stroke="#000" text-anchor="middle" letter-spacing="1.1">***</text>
<path d="M360.60 279.90V277.50H425.48V279.90" stroke="#4D4D4D" stroke-width="0.8" fill="none"/>
<text x="393.64" y="278.00" font-size="7.60" fill="#000" stroke="#000" text-anchor="middle" letter-spacing="1.1">***</text>
<path d="M360.60 273.70V271.30H441.70V273.70" stroke="#4D4D4D" stroke-width="0.8" fill="none"/>
<text x="401.75" y="271.80" font-size="7.60" fill="#000" stroke="#000" text-anchor="middle" letter-spacing="1.1">***</text>
<path d="M360.60 267.50V265.10H457.92V267.50" stroke="#4D4D4D" stroke-width="0.8" fill="none"/>
<text x="409.86" y="265.60" font-size="7.60" fill="#000" stroke="#000" text-anchor="middle" letter-spacing="1.1">***</text>
<path d="M360.60 261.30V258.90H474.14V261.30" stroke="#4D4D4D" stroke-width="0.8" fill="none"/>
<text x="417.97" y="259.40" font-size="7.60" fill="#000" stroke="#000" text-anchor="middle" letter-spacing="1.1">***</text>
<path d="M360.60 255.20V252.80H490.36V255.20" stroke="#4D4D4D" stroke-width="0.8" fill="none"/>
<text x="426.08" y="253.30" font-size="7.60" fill="#000" stroke="#000" text-anchor="middle" letter-spacing="1.1">**</text>
<line x1="541.30" y1="246.60" x2="541.30" y2="380.60" stroke="#4D4D4D" stroke-width="1.0"/>
<line x1="540.80" y1="380.10" x2="680.90" y2="380.10" stroke="#4D4D4D" stroke-width="1.0"/>
<line x1="539.30" y1="359.60" x2="541.30" y2="359.60" stroke="#4D4D4D" stroke-width="0.8"/>
<text x="538.10" y="362.70" font-size="7.80" fill="#4D4D4D" stroke="#4D4D4D" text-anchor="end">−200</text>
<line x1="539.30" y1="329.60" x2="541.30" y2="329.60" stroke="#4D4D4D" stroke-width="0.8"/>
<text x="538.10" y="332.70" font-size="7.80" fill="#4D4D4D" stroke="#4D4D4D" text-anchor="end">−100</text>
<line x1="539.30" y1="299.60" x2="541.30" y2="299.60" stroke="#4D4D4D" stroke-width="0.8"/>
<text x="538.10" y="302.70" font-size="7.80" fill="#4D4D4D" stroke="#4D4D4D" text-anchor="end">0</text>
<line x1="539.30" y1="269.60" x2="541.30" y2="269.60" stroke="#4D4D4D" stroke-width="0.8"/>
<text x="538.10" y="272.70" font-size="7.80" fill="#4D4D4D" stroke="#4D4D4D" text-anchor="end">100</text>
<line x1="550.30" y1="380.10" x2="550.30" y2="382.10" stroke="#4D4D4D" stroke-width="0.8"/>
<text x="550.30" y="389.00" font-size="7.80" fill="#4D4D4D" stroke="#4D4D4D" text-anchor="middle">0</text>
<line x1="565.59" y1="380.10" x2="565.59" y2="382.10" stroke="#4D4D4D" stroke-width="0.8"/>
<text x="565.59" y="389.00" font-size="7.80" fill="#4D4D4D" stroke="#4D4D4D" text-anchor="middle">3</text>
<line x1="580.88" y1="380.10" x2="580.88" y2="382.10" stroke="#4D4D4D" stroke-width="0.8"/>
<text x="580.88" y="389.00" font-size="7.80" fill="#4D4D4D" stroke="#4D4D4D" text-anchor="middle">6</text>
<line x1="596.17" y1="380.10" x2="596.17" y2="382.10" stroke="#4D4D4D" stroke-width="0.8"/>
<text x="596.17" y="389.00" font-size="7.80" fill="#4D4D4D" stroke="#4D4D4D" text-anchor="middle">9</text>
<line x1="611.46" y1="380.10" x2="611.46" y2="382.10" stroke="#4D4D4D" stroke-width="0.8"/>
<text x="611.46" y="389.00" font-size="7.80" fill="#4D4D4D" stroke="#4D4D4D" text-anchor="middle">12</text>
<line x1="626.75" y1="380.10" x2="626.75" y2="382.10" stroke="#4D4D4D" stroke-width="0.8"/>
<text x="626.75" y="389.00" font-size="7.80" fill="#4D4D4D" stroke="#4D4D4D" text-anchor="middle">15</text>
<line x1="642.04" y1="380.10" x2="642.04" y2="382.10" stroke="#4D4D4D" stroke-width="0.8"/>
<text x="642.04" y="389.00" font-size="7.80" fill="#4D4D4D" stroke="#4D4D4D" text-anchor="middle">18</text>
<line x1="657.33" y1="380.10" x2="657.33" y2="382.10" stroke="#4D4D4D" stroke-width="0.8"/>
<text x="657.33" y="389.00" font-size="7.80" fill="#4D4D4D" stroke="#4D4D4D" text-anchor="middle">21</text>
<line x1="672.62" y1="380.10" x2="672.62" y2="382.10" stroke="#4D4D4D" stroke-width="0.8"/>
<text x="672.62" y="389.00" font-size="7.80" fill="#4D4D4D" stroke="#4D4D4D" text-anchor="middle">24</text>
<text x="0" y="0" font-size="9.5" fill="#111" stroke="none" text-anchor="middle" transform="translate(519.60 312.00) rotate(-90)">Delta antibiotic treatment days</text>
<text x="506.00" y="245.70" font-size="11.80" fill="#000" stroke="#000" text-anchor="start">e</text>
<path d="M550.30 299.62L565.59 299.62M565.59 299.62L580.88 299.62M580.88 299.62L596.17 299.62M596.17 299.62L611.46 294.27M611.46 294.27L626.75 294.27M626.75 294.27L642.04 294.27M642.04 294.27L657.33 294.27M657.33 294.27L672.62 299.62M550.30 299.62L565.59 294.27M565.59 294.27L580.88 299.62M580.88 299.62L596.17 296.41M596.17 296.41L611.46 299.62M611.46 299.62L626.75 299.62M626.75 299.62L642.04 299.62M642.04 299.62L657.33 299.62M657.33 299.62L672.62 299.62M550.30 299.62L565.59 299.62M565.59 299.62L580.88 301.75M580.88 301.75L596.17 303.25M596.17 303.25L611.46 303.89M611.46 303.89L626.75 301.75M626.75 301.75L642.04 303.89M642.04 303.89L657.33 303.89M657.33 303.89L672.62 300.26M550.30 299.62L565.59 302.82M565.59 302.82L580.88 299.62M580.88 299.62L596.17 299.62M596.17 299.62L611.46 310.30M611.46 310.30L626.75 310.30M626.75 310.30L642.04 310.30M642.04 310.30L657.33 310.30M657.33 310.30L672.62 310.30M550.30 299.62L565.59 299.62M565.59 299.62L580.88 302.82M580.88 302.82L596.17 308.17M596.17 308.17L611.46 310.30M611.46 310.30L626.75 311.37M626.75 311.37L642.04 310.30M642.04 310.30L657.33 311.37M657.33 311.37L672.62 311.37M550.30 299.62L565.59 308.17M565.59 308.17L580.88 308.17M580.88 308.17L596.17 313.51M596.17 313.51L611.46 316.72M611.46 316.72L626.75 316.72M626.75 316.72L642.04 313.51M642.04 313.51L657.33 313.51M657.33 313.51L672.62 316.72M550.30 299.62L565.59 311.37M565.59 311.37L580.88 314.58M580.88 314.58L596.17 311.37M596.17 311.37L611.46 313.51M611.46 313.51L626.75 319.92M626.75 319.92L642.04 316.72M642.04 316.72L657.33 317.36M657.33 317.36L672.62 319.92M550.30 299.62L565.59 313.51M565.59 313.51L580.88 308.17M580.88 308.17L596.17 332.74M596.17 332.74L611.46 324.20M611.46 324.20L626.75 315.65M626.75 315.65L642.04 327.40M642.04 327.40L657.33 326.76M657.33 326.76L672.62 325.26M550.30 299.62L565.59 311.37M565.59 311.37L580.88 331.68M580.88 331.68L596.17 340.22M596.17 340.22L611.46 350.91M611.46 350.91L626.75 350.91M626.75 350.91L642.04 350.91M642.04 350.91L657.33 350.91M657.33 350.91L672.62 350.91M550.30 299.62L565.59 318.85M565.59 318.85L580.88 335.31M580.88 335.31L596.17 342.36M596.17 342.36L611.46 341.29M611.46 341.29L642.04 347.70M642.04 347.70L657.33 345.99M657.33 345.99L672.62 345.99M550.30 299.62L565.59 302.82M565.59 302.82L580.88 314.58M580.88 314.58L596.17 332.74M596.17 332.74L611.46 335.95M611.46 335.95L626.75 328.47M626.75 328.47L642.04 327.40M642.04 327.40L657.33 326.76M657.33 326.76L672.62 325.26M550.30 299.62L565.59 301.75M565.59 301.75L580.88 308.17M580.88 308.17L596.17 313.51M596.17 313.51L611.46 326.33M611.46 326.33L626.75 327.40M626.75 327.40L642.04 373.99M642.04 373.99L657.33 373.99M657.33 373.99L672.62 373.99M550.30 299.62L565.59 299.62M565.59 299.62L580.88 299.62M580.88 299.62L596.17 303.25M596.17 303.25L611.46 310.30M611.46 310.30L626.75 310.30M626.75 310.30L642.04 310.30M642.04 310.30L657.33 310.30M657.33 310.30L672.62 310.30M550.30 299.62L565.59 300.69M565.59 300.69L580.88 301.75M580.88 301.75L596.17 303.25M596.17 303.25L611.46 313.51M611.46 313.51L626.75 313.51M626.75 313.51L642.04 308.17M642.04 308.17L657.33 307.10M657.33 307.10L672.62 309.23M550.30 299.62L565.59 299.62M565.59 299.62L580.88 300.26M580.88 300.26L596.17 299.62M596.17 299.62L611.46 303.89M611.46 303.89L626.75 308.17M626.75 308.17L642.04 307.10M642.04 307.10L657.33 310.30M657.33 310.30L672.62 313.51M550.30 299.62L565.59 299.62M565.59 299.62L580.88 300.69M580.88 300.69L596.17 310.30M596.17 310.30L611.46 319.92M611.46 319.92L626.75 316.72M626.75 316.72L642.04 316.72M642.04 316.72L657.33 317.36M657.33 317.36L672.62 324.20M550.30 299.62L565.59 304.96M565.59 304.96L580.88 308.17M580.88 308.17L596.17 317.78M596.17 317.78L611.46 344.50M611.46 344.50L626.75 350.91M626.75 350.91L642.04 350.91M642.04 350.91L672.62 350.91M550.30 299.62L565.59 299.62M565.59 299.62L580.88 299.62M580.88 299.62L596.17 299.62M596.17 299.62L611.46 299.62M611.46 299.62L626.75 299.62M626.75 299.62L642.04 299.62M642.04 299.62L657.33 299.62M657.33 299.62L672.62 299.62M550.30 299.62L565.59 308.17M565.59 308.17L580.88 313.51M580.88 313.51L596.17 324.20M596.17 324.20L611.46 332.74M611.46 332.74L626.75 319.92M626.75 319.92L642.04 311.37M642.04 311.37L657.33 310.30M657.33 310.30L672.62 302.82" stroke="#5a5a5a" stroke-opacity="0.6" stroke-width="0.5" fill="none"/>
<line x1="544.50" y1="299.60" x2="556.10" y2="299.60" stroke="#333" stroke-width="1.6"/>
<path d="M565.59 299.00V299.00M565.59 302.40V302.40" stroke="#222" stroke-width="0.9"/>
<rect x="559.79" y="299.00" width="11.60" height="3.40" fill="#D9D36E" fill-opacity="1" stroke="#333333" stroke-width="0.4"/>
<path d="M580.88 299.60V299.60M580.88 308.20V314.60" stroke="#222" stroke-width="0.9"/>
<rect x="575.08" y="299.60" width="11.60" height="8.60" fill="#8FB0D8" fill-opacity="0.8" stroke="#333333" stroke-width="0.8"/>
<line x1="575.08" y1="301.80" x2="586.68" y2="301.80" stroke="#222" stroke-width="1.1"/>
<path d="M596.17 296.40V299.60M596.17 313.50V332.70" stroke="#222" stroke-width="0.9"/>
<rect x="590.37" y="299.60" width="11.60" height="13.90" fill="#8FB0D8" fill-opacity="0.8" stroke="#333333" stroke-width="0.8"/>
<line x1="590.37" y1="303.30" x2="601.97" y2="303.30" stroke="#222" stroke-width="1.1"/>
<path d="M611.46 294.30V303.90M611.46 324.20V350.90" stroke="#222" stroke-width="0.9"/>
<rect x="605.66" y="303.90" width="11.60" height="20.30" fill="#8FB0D8" fill-opacity="0.8" stroke="#333333" stroke-width="0.8"/>
<line x1="605.66" y1="310.30" x2="617.26" y2="310.30" stroke="#222" stroke-width="1.1"/>
<path d="M626.75 294.30V301.80M626.75 319.90V328.50" stroke="#222" stroke-width="0.9"/>
<rect x="620.95" y="301.80" width="11.60" height="18.10" fill="#D9A0BE" fill-opacity="0.8" stroke="#333333" stroke-width="0.8"/>
<line x1="620.95" y1="310.30" x2="632.55" y2="310.30" stroke="#222" stroke-width="1.1"/>
<path d="M642.04 294.30V303.90M642.04 316.70V327.40" stroke="#222" stroke-width="0.9"/>
<rect x="636.24" y="303.90" width="11.60" height="12.80" fill="#D9A0BE" fill-opacity="0.8" stroke="#333333" stroke-width="0.8"/>
<line x1="636.24" y1="310.30" x2="647.84" y2="310.30" stroke="#222" stroke-width="1.1"/>
<path d="M657.33 294.30V303.90M657.33 317.40V326.80" stroke="#222" stroke-width="0.9"/>
<rect x="651.53" y="303.90" width="11.60" height="13.50" fill="#80C9A8" fill-opacity="0.8" stroke="#333333" stroke-width="0.8"/>
<line x1="651.53" y1="310.30" x2="663.13" y2="310.30" stroke="#222" stroke-width="1.1"/>
<path d="M672.62 299.60V300.30M672.62 325.30V350.90" stroke="#222" stroke-width="0.9"/>
<rect x="666.82" y="300.30" width="11.60" height="25.00" fill="#80C9A8" fill-opacity="0.8" stroke="#333333" stroke-width="0.8"/>
<line x1="666.82" y1="310.30" x2="678.42" y2="310.30" stroke="#222" stroke-width="1.1"/>
<path d="M550.30 299.62m-1.3 0a1.3 1.3 0 1 0 2.6 0a1.3 1.3 0 1 0 -2.6 0M565.59 299.62m-1.3 0a1.3 1.3 0 1 0 2.6 0a1.3 1.3 0 1 0 -2.6 0M580.88 299.62m-1.3 0a1.3 1.3 0 1 0 2.6 0a1.3 1.3 0 1 0 -2.6 0M596.17 299.62m-1.3 0a1.3 1.3 0 1 0 2.6 0a1.3 1.3 0 1 0 -2.6 0M611.46 294.27m-1.3 0a1.3 1.3 0 1 0 2.6 0a1.3 1.3 0 1 0 -2.6 0M626.75 294.27m-1.3 0a1.3 1.3 0 1 0 2.6 0a1.3 1.3 0 1 0 -2.6 0M642.04 294.27m-1.3 0a1.3 1.3 0 1 0 2.6 0a1.3 1.3 0 1 0 -2.6 0M657.33 294.27m-1.3 0a1.3 1.3 0 1 0 2.6 0a1.3 1.3 0 1 0 -2.6 0M672.62 299.62m-1.3 0a1.3 1.3 0 1 0 2.6 0a1.3 1.3 0 1 0 -2.6 0M550.30 299.62m-1.3 0a1.3 1.3 0 1 0 2.6 0a1.3 1.3 0 1 0 -2.6 0M565.59 294.27m-1.3 0a1.3 1.3 0 1 0 2.6 0a1.3 1.3 0 1 0 -2.6 0M580.88 299.62m-1.3 0a1.3 1.3 0 1 0 2.6 0a1.3 1.3 0 1 0 -2.6 0M596.17 296.41m-1.3 0a1.3 1.3 0 1 0 2.6 0a1.3 1.3 0 1 0 -2.6 0M611.46 299.62m-1.3 0a1.3 1.3 0 1 0 2.6 0a1.3 1.3 0 1 0 -2.6 0M626.75 299.62m-1.3 0a1.3 1.3 0 1 0 2.6 0a1.3 1.3 0 1 0 -2.6 0M642.04 299.62m-1.3 0a1.3 1.3 0 1 0 2.6 0a1.3 1.3 0 1 0 -2.6 0M657.33 299.62m-1.3 0a1.3 1.3 0 1 0 2.6 0a1.3 1.3 0 1 0 -2.6 0M672.62 299.62m-1.3 0a1.3 1.3 0 1 0 2.6 0a1.3 1.3 0 1 0 -2.6 0M550.30 299.62m-1.3 0a1.3 1.3 0 1 0 2.6 0a1.3 1.3 0 1 0 -2.6 0M565.59 299.62m-1.3 0a1.3 1.3 0 1 0 2.6 0a1.3 1.3 0 1 0 -2.6 0M580.88 301.75m-1.3 0a1.3 1.3 0 1 0 2.6 0a1.3 1.3 0 1 0 -2.6 0M596.17 303.25m-1.3 0a1.3 1.3 0 1 0 2.6 0a1.3 1.3 0 1 0 -2.6 0M611.46 303.89m-1.3 0a1.3 1.3 0 1 0 2.6 0a1.3 1.3 0 1 0 -2.6 0M626.75 301.75m-1.3 0a1.3 1.3 0 1 0 2.6 0a1.3 1.3 0 1 0 -2.6 0M642.04 303.89m-1.3 0a1.3 1.3 0 1 0 2.6 0a1.3 1.3 0 1 0 -2.6 0M657.33 303.89m-1.3 0a1.3 1.3 0 1 0 2.6 0a1.3 1.3 0 1 0 -2.6 0M672.62 300.26m-1.3 0a1.3 1.3 0 1 0 2.6 0a1.3 1.3 0 1 0 -2.6 0M550.30 299.62m-1.3 0a1.3 1.3 0 1 0 2.6 0a1.3 1.3 0 1 0 -2.6 0M565.59 302.82m-1.3 0a1.3 1.3 0 1 0 2.6 0a1.3 1.3 0 1 0 -2.6 0M580.88 299.62m-1.3 0a1.3 1.3 0 1 0 2.6 0a1.3 1.3 0 1 0 -2.6 0M596.17 299.62m-1.3 0a1.3 1.3 0 1 0 2.6 0a1.3 1.3 0 1 0 -2.6 0M611.46 310.30m-1.3 0a1.3 1.3 0 1 0 2.6 0a1.3 1.3 0 1 0 -2.6 0M626.75 310.30m-1.3 0a1.3 1.3 0 1 0 2.6 0a1.3 1.3 0 1 0 -2.6 0M642.04 310.30m-1.3 0a1.3 1.3 0 1 0 2.6 0a1.3 1.3 0 1 0 -2.6 0M657.33 310.30m-1.3 0a1.3 1.3 0 1 0 2.6 0a1.3 1.3 0 1 0 -2.6 0M672.62 310.30m-1.3 0a1.3 1.3 0 1 0 2.6 0a1.3 1.3 0 1 0 -2.6 0M550.30 299.62m-1.3 0a1.3 1.3 0 1 0 2.6 0a1.3 1.3 0 1 0 -2.6 0M565.59 299.62m-1.3 0a1.3 1.3 0 1 0 2.6 0a1.3 1.3 0 1 0 -2.6 0M580.88 302.82m-1.3 0a1.3 1.3 0 1 0 2.6 0a1.3 1.3 0 1 0 -2.6 0M596.17 308.17m-1.3 0a1.3 1.3 0 1 0 2.6 0a1.3 1.3 0 1 0 -2.6 0M611.46 310.30m-1.3 0a1.3 1.3 0 1 0 2.6 0a1.3 1.3 0 1 0 -2.6 0M626.75 311.37m-1.3 0a1.3 1.3 0 1 0 2.6 0a1.3 1.3 0 1 0 -2.6 0M642.04 310.30m-1.3 0a1.3 1.3 0 1 0 2.6 0a1.3 1.3 0 1 0 -2.6 0M657.33 311.37m-1.3 0a1.3 1.3 0 1 0 2.6 0a1.3 1.3 0 1 0 -2.6 0M672.62 311.37m-1.3 0a1.3 1.3 0 1 0 2.6 0a1.3 1.3 0 1 0 -2.6 0M550.30 299.62m-1.3 0a1.3 1.3 0 1 0 2.6 0a1.3 1.3 0 1 0 -2.6 0M565.59 308.17m-1.3 0a1.3 1.3 0 1 0 2.6 0a1.3 1.3 0 1 0 -2.6 0M580.88 308.17m-1.3 0a1.3 1.3 0 1 0 2.6 0a1.3 1.3 0 1 0 -2.6 0M596.17 313.51m-1.3 0a1.3 1.3 0 1 0 2.6 0a1.3 1.3 0 1 0 -2.6 0M611.46 316.72m-1.3 0a1.3 1.3 0 1 0 2.6 0a1.3 1.3 0 1 0 -2.6 0M626.75 316.72m-1.3 0a1.3 1.3 0 1 0 2.6 0a1.3 1.3 0 1 0 -2.6 0M642.04 313.51m-1.3 0a1.3 1.3 0 1 0 2.6 0a1.3 1.3 0 1 0 -2.6 0M657.33 313.51m-1.3 0a1.3 1.3 0 1 0 2.6 0a1.3 1.3 0 1 0 -2.6 0M672.62 316.72m-1.3 0a1.3 1.3 0 1 0 2.6 0a1.3 1.3 0 1 0 -2.6 0M550.30 299.62m-1.3 0a1.3 1.3 0 1 0 2.6 0a1.3 1.3 0 1 0 -2.6 0M565.59 311.37m-1.3 0a1.3 1.3 0 1 0 2.6 0a1.3 1.3 0 1 0 -2.6 0M580.88 314.58m-1.3 0a1.3 1.3 0 1 0 2.6 0a1.3 1.3 0 1 0 -2.6 0M596.17 311.37m-1.3 0a1.3 1.3 0 1 0 2.6 0a1.3 1.3 0 1 0 -2.6 0M611.46 313.51m-1.3 0a1.3 1.3 0 1 0 2.6 0a1.3 1.3 0 1 0 -2.6 0M626.75 319.92m-1.3 0a1.3 1.3 0 1 0 2.6 0a1.3 1.3 0 1 0 -2.6 0M642.04 316.72m-1.3 0a1.3 1.3 0 1 0 2.6 0a1.3 1.3 0 1 0 -2.6 0M657.33 317.36m-1.3 0a1.3 1.3 0 1 0 2.6 0a1.3 1.3 0 1 0 -2.6 0M672.62 319.92m-1.3 0a1.3 1.3 0 1 0 2.6 0a1.3 1.3 0 1 0 -2.6 0M550.30 299.62m-1.3 0a1.3 1.3 0 1 0 2.6 0a1.3 1.3 0 1 0 -2.6 0M565.59 313.51m-1.3 0a1.3 1.3 0 1 0 2.6 0a1.3 1.3 0 1 0 -2.6 0M580.88 308.17m-1.3 0a1.3 1.3 0 1 0 2.6 0a1.3 1.3 0 1 0 -2.6 0M596.17 332.74m-1.3 0a1.3 1.3 0 1 0 2.6 0a1.3 1.3 0 1 0 -2.6 0M611.46 324.20m-1.3 0a1.3 1.3 0 1 0 2.6 0a1.3 1.3 0 1 0 -2.6 0M626.75 315.65m-1.3 0a1.3 1.3 0 1 0 2.6 0a1.3 1.3 0 1 0 -2.6 0M642.04 327.40m-1.3 0a1.3 1.3 0 1 0 2.6 0a1.3 1.3 0 1 0 -2.6 0M657.33 326.76m-1.3 0a1.3 1.3 0 1 0 2.6 0a1.3 1.3 0 1 0 -2.6 0M672.62 325.26m-1.3 0a1.3 1.3 0 1 0 2.6 0a1.3 1.3 0 1 0 -2.6 0M550.30 299.62m-1.3 0a1.3 1.3 0 1 0 2.6 0a1.3 1.3 0 1 0 -2.6 0M565.59 311.37m-1.3 0a1.3 1.3 0 1 0 2.6 0a1.3 1.3 0 1 0 -2.6 0M580.88 331.68m-1.3 0a1.3 1.3 0 1 0 2.6 0a1.3 1.3 0 1 0 -2.6 0M596.17 340.22m-1.3 0a1.3 1.3 0 1 0 2.6 0a1.3 1.3 0 1 0 -2.6 0M611.46 350.91m-1.3 0a1.3 1.3 0 1 0 2.6 0a1.3 1.3 0 1 0 -2.6 0M626.75 350.91m-1.3 0a1.3 1.3 0 1 0 2.6 0a1.3 1.3 0 1 0 -2.6 0M642.04 350.91m-1.3 0a1.3 1.3 0 1 0 2.6 0a1.3 1.3 0 1 0 -2.6 0M657.33 350.91m-1.3 0a1.3 1.3 0 1 0 2.6 0a1.3 1.3 0 1 0 -2.6 0M672.62 350.91m-1.3 0a1.3 1.3 0 1 0 2.6 0a1.3 1.3 0 1 0 -2.6 0M550.30 299.62m-1.3 0a1.3 1.3 0 1 0 2.6 0a1.3 1.3 0 1 0 -2.6 0M565.59 318.85m-1.3 0a1.3 1.3 0 1 0 2.6 0a1.3 1.3 0 1 0 -2.6 0M580.88 335.31m-1.3 0a1.3 1.3 0 1 0 2.6 0a1.3 1.3 0 1 0 -2.6 0M596.17 342.36m-1.3 0a1.3 1.3 0 1 0 2.6 0a1.3 1.3 0 1 0 -2.6 0M611.46 341.29m-1.3 0a1.3 1.3 0 1 0 2.6 0a1.3 1.3 0 1 0 -2.6 0M642.04 347.70m-1.3 0a1.3 1.3 0 1 0 2.6 0a1.3 1.3 0 1 0 -2.6 0M657.33 345.99m-1.3 0a1.3 1.3 0 1 0 2.6 0a1.3 1.3 0 1 0 -2.6 0M672.62 345.99m-1.3 0a1.3 1.3 0 1 0 2.6 0a1.3 1.3 0 1 0 -2.6 0M550.30 299.62m-1.3 0a1.3 1.3 0 1 0 2.6 0a1.3 1.3 0 1 0 -2.6 0M565.59 302.82m-1.3 0a1.3 1.3 0 1 0 2.6 0a1.3 1.3 0 1 0 -2.6 0M580.88 314.58m-1.3 0a1.3 1.3 0 1 0 2.6 0a1.3 1.3 0 1 0 -2.6 0M596.17 332.74m-1.3 0a1.3 1.3 0 1 0 2.6 0a1.3 1.3 0 1 0 -2.6 0M611.46 335.95m-1.3 0a1.3 1.3 0 1 0 2.6 0a1.3 1.3 0 1 0 -2.6 0M626.75 328.47m-1.3 0a1.3 1.3 0 1 0 2.6 0a1.3 1.3 0 1 0 -2.6 0M642.04 327.40m-1.3 0a1.3 1.3 0 1 0 2.6 0a1.3 1.3 0 1 0 -2.6 0M657.33 326.76m-1.3 0a1.3 1.3 0 1 0 2.6 0a1.3 1.3 0 1 0 -2.6 0M672.62 325.26m-1.3 0a1.3 1.3 0 1 0 2.6 0a1.3 1.3 0 1 0 -2.6 0M550.30 299.62m-1.3 0a1.3 1.3 0 1 0 2.6 0a1.3 1.3 0 1 0 -2.6 0M565.59 301.75m-1.3 0a1.3 1.3 0 1 0 2.6 0a1.3 1.3 0 1 0 -2.6 0M580.88 308.17m-1.3 0a1.3 1.3 0 1 0 2.6 0a1.3 1.3 0 1 0 -2.6 0M596.17 313.51m-1.3 0a1.3 1.3 0 1 0 2.6 0a1.3 1.3 0 1 0 -2.6 0M611.46 326.33m-1.3 0a1.3 1.3 0 1 0 2.6 0a1.3 1.3 0 1 0 -2.6 0M626.75 327.40m-1.3 0a1.3 1.3 0 1 0 2.6 0a1.3 1.3 0 1 0 -2.6 0M642.04 373.99m-1.3 0a1.3 1.3 0 1 0 2.6 0a1.3 1.3 0 1 0 -2.6 0M657.33 373.99m-1.3 0a1.3 1.3 0 1 0 2.6 0a1.3 1.3 0 1 0 -2.6 0M672.62 373.99m-1.3 0a1.3 1.3 0 1 0 2.6 0a1.3 1.3 0 1 0 -2.6 0M550.30 299.62m-1.3 0a1.3 1.3 0 1 0 2.6 0a1.3 1.3 0 1 0 -2.6 0M565.59 299.62m-1.3 0a1.3 1.3 0 1 0 2.6 0a1.3 1.3 0 1 0 -2.6 0M580.88 299.62m-1.3 0a1.3 1.3 0 1 0 2.6 0a1.3 1.3 0 1 0 -2.6 0M596.17 303.25m-1.3 0a1.3 1.3 0 1 0 2.6 0a1.3 1.3 0 1 0 -2.6 0M611.46 310.30m-1.3 0a1.3 1.3 0 1 0 2.6 0a1.3 1.3 0 1 0 -2.6 0M626.75 310.30m-1.3 0a1.3 1.3 0 1 0 2.6 0a1.3 1.3 0 1 0 -2.6 0M642.04 310.30m-1.3 0a1.3 1.3 0 1 0 2.6 0a1.3 1.3 0 1 0 -2.6 0M657.33 310.30m-1.3 0a1.3 1.3 0 1 0 2.6 0a1.3 1.3 0 1 0 -2.6 0M672.62 310.30m-1.3 0a1.3 1.3 0 1 0 2.6 0a1.3 1.3 0 1 0 -2.6 0M550.30 299.62m-1.3 0a1.3 1.3 0 1 0 2.6 0a1.3 1.3 0 1 0 -2.6 0M565.59 300.69m-1.3 0a1.3 1.3 0 1 0 2.6 0a1.3 1.3 0 1 0 -2.6 0M580.88 301.75m-1.3 0a1.3 1.3 0 1 0 2.6 0a1.3 1.3 0 1 0 -2.6 0M596.17 303.25m-1.3 0a1.3 1.3 0 1 0 2.6 0a1.3 1.3 0 1 0 -2.6 0M611.46 313.51m-1.3 0a1.3 1.3 0 1 0 2.6 0a1.3 1.3 0 1 0 -2.6 0M626.75 313.51m-1.3 0a1.3 1.3 0 1 0 2.6 0a1.3 1.3 0 1 0 -2.6 0M642.04 308.17m-1.3 0a1.3 1.3 0 1 0 2.6 0a1.3 1.3 0 1 0 -2.6 0M657.33 307.10m-1.3 0a1.3 1.3 0 1 0 2.6 0a1.3 1.3 0 1 0 -2.6 0M672.62 309.23m-1.3 0a1.3 1.3 0 1 0 2.6 0a1.3 1.3 0 1 0 -2.6 0M550.30 299.62m-1.3 0a1.3 1.3 0 1 0 2.6 0a1.3 1.3 0 1 0 -2.6 0M565.59 299.62m-1.3 0a1.3 1.3 0 1 0 2.6 0a1.3 1.3 0 1 0 -2.6 0M580.88 300.26m-1.3 0a1.3 1.3 0 1 0 2.6 0a1.3 1.3 0 1 0 -2.6 0M596.17 299.62m-1.3 0a1.3 1.3 0 1 0 2.6 0a1.3 1.3 0 1 0 -2.6 0M611.46 303.89m-1.3 0a1.3 1.3 0 1 0 2.6 0a1.3 1.3 0 1 0 -2.6 0M626.75 308.17m-1.3 0a1.3 1.3 0 1 0 2.6 0a1.3 1.3 0 1 0 -2.6 0M642.04 307.10m-1.3 0a1.3 1.3 0 1 0 2.6 0a1.3 1.3 0 1 0 -2.6 0M657.33 310.30m-1.3 0a1.3 1.3 0 1 0 2.6 0a1.3 1.3 0 1 0 -2.6 0M672.62 313.51m-1.3 0a1.3 1.3 0 1 0 2.6 0a1.3 1.3 0 1 0 -2.6 0M550.30 299.62m-1.3 0a1.3 1.3 0 1 0 2.6 0a1.3 1.3 0 1 0 -2.6 0M565.59 299.62m-1.3 0a1.3 1.3 0 1 0 2.6 0a1.3 1.3 0 1 0 -2.6 0M580.88 300.69m-1.3 0a1.3 1.3 0 1 0 2.6 0a1.3 1.3 0 1 0 -2.6 0M596.17 310.30m-1.3 0a1.3 1.3 0 1 0 2.6 0a1.3 1.3 0 1 0 -2.6 0M611.46 319.92m-1.3 0a1.3 1.3 0 1 0 2.6 0a1.3 1.3 0 1 0 -2.6 0M626.75 316.72m-1.3 0a1.3 1.3 0 1 0 2.6 0a1.3 1.3 0 1 0 -2.6 0M642.04 316.72m-1.3 0a1.3 1.3 0 1 0 2.6 0a1.3 1.3 0 1 0 -2.6 0M657.33 317.36m-1.3 0a1.3 1.3 0 1 0 2.6 0a1.3 1.3 0 1 0 -2.6 0M672.62 324.20m-1.3 0a1.3 1.3 0 1 0 2.6 0a1.3 1.3 0 1 0 -2.6 0M550.30 299.62m-1.3 0a1.3 1.3 0 1 0 2.6 0a1.3 1.3 0 1 0 -2.6 0M565.59 304.96m-1.3 0a1.3 1.3 0 1 0 2.6 0a1.3 1.3 0 1 0 -2.6 0M580.88 308.17m-1.3 0a1.3 1.3 0 1 0 2.6 0a1.3 1.3 0 1 0 -2.6 0M596.17 317.78m-1.3 0a1.3 1.3 0 1 0 2.6 0a1.3 1.3 0 1 0 -2.6 0M611.46 344.50m-1.3 0a1.3 1.3 0 1 0 2.6 0a1.3 1.3 0 1 0 -2.6 0M626.75 350.91m-1.3 0a1.3 1.3 0 1 0 2.6 0a1.3 1.3 0 1 0 -2.6 0M642.04 350.91m-1.3 0a1.3 1.3 0 1 0 2.6 0a1.3 1.3 0 1 0 -2.6 0M672.62 350.91m-1.3 0a1.3 1.3 0 1 0 2.6 0a1.3 1.3 0 1 0 -2.6 0M550.30 299.62m-1.3 0a1.3 1.3 0 1 0 2.6 0a1.3 1.3 0 1 0 -2.6 0M565.59 299.62m-1.3 0a1.3 1.3 0 1 0 2.6 0a1.3 1.3 0 1 0 -2.6 0M580.88 299.62m-1.3 0a1.3 1.3 0 1 0 2.6 0a1.3 1.3 0 1 0 -2.6 0M596.17 299.62m-1.3 0a1.3 1.3 0 1 0 2.6 0a1.3 1.3 0 1 0 -2.6 0M611.46 299.62m-1.3 0a1.3 1.3 0 1 0 2.6 0a1.3 1.3 0 1 0 -2.6 0M626.75 299.62m-1.3 0a1.3 1.3 0 1 0 2.6 0a1.3 1.3 0 1 0 -2.6 0M642.04 299.62m-1.3 0a1.3 1.3 0 1 0 2.6 0a1.3 1.3 0 1 0 -2.6 0M657.33 299.62m-1.3 0a1.3 1.3 0 1 0 2.6 0a1.3 1.3 0 1 0 -2.6 0M672.62 299.62m-1.3 0a1.3 1.3 0 1 0 2.6 0a1.3 1.3 0 1 0 -2.6 0M550.30 299.62m-1.3 0a1.3 1.3 0 1 0 2.6 0a1.3 1.3 0 1 0 -2.6 0M565.59 308.17m-1.3 0a1.3 1.3 0 1 0 2.6 0a1.3 1.3 0 1 0 -2.6 0M580.88 313.51m-1.3 0a1.3 1.3 0 1 0 2.6 0a1.3 1.3 0 1 0 -2.6 0M596.17 324.20m-1.3 0a1.3 1.3 0 1 0 2.6 0a1.3 1.3 0 1 0 -2.6 0M611.46 332.74m-1.3 0a1.3 1.3 0 1 0 2.6 0a1.3 1.3 0 1 0 -2.6 0M626.75 319.92m-1.3 0a1.3 1.3 0 1 0 2.6 0a1.3 1.3 0 1 0 -2.6 0M642.04 311.37m-1.3 0a1.3 1.3 0 1 0 2.6 0a1.3 1.3 0 1 0 -2.6 0M657.33 310.30m-1.3 0a1.3 1.3 0 1 0 2.6 0a1.3 1.3 0 1 0 -2.6 0M672.62 302.82m-1.3 0a1.3 1.3 0 1 0 2.6 0a1.3 1.3 0 1 0 -2.6 0" fill="#1a1a1a"/>
<path d="M550.30 295.40V293.00H565.59V295.40" stroke="#4D4D4D" stroke-width="0.8" fill="none"/>
<text x="558.14" y="291.60" font-size="10.2" fill="#3a3a3a" text-anchor="middle">ns</text>
<path d="M550.30 289.70V287.30H580.88V289.70" stroke="#4D4D4D" stroke-width="0.8" fill="none"/>
<text x="566.19" y="287.80" font-size="7.60" fill="#000" stroke="#000" text-anchor="middle" letter-spacing="1.1">*</text>
<path d="M550.30 284.20V281.80H596.17V284.20" stroke="#4D4D4D" stroke-width="0.8" fill="none"/>
<text x="573.83" y="282.30" font-size="7.60" fill="#000" stroke="#000" text-anchor="middle" letter-spacing="1.1">***</text>
<path d="M550.30 278.10V275.70H611.46V278.10" stroke="#4D4D4D" stroke-width="0.8" fill="none"/>
<text x="581.48" y="276.20" font-size="7.60" fill="#000" stroke="#000" text-anchor="middle" letter-spacing="1.1">***</text>
<path d="M550.30 272.30V269.90H626.75V272.30" stroke="#4D4D4D" stroke-width="0.8" fill="none"/>
<text x="589.12" y="270.40" font-size="7.60" fill="#000" stroke="#000" text-anchor="middle" letter-spacing="1.1">***</text>
<path d="M550.30 266.40V264.00H642.04V266.40" stroke="#4D4D4D" stroke-width="0.8" fill="none"/>
<text x="596.77" y="264.50" font-size="7.60" fill="#000" stroke="#000" text-anchor="middle" letter-spacing="1.1">***</text>
<path d="M550.30 260.70V258.30H657.33V260.70" stroke="#4D4D4D" stroke-width="0.8" fill="none"/>
<text x="604.41" y="258.80" font-size="7.60" fill="#000" stroke="#000" text-anchor="middle" letter-spacing="1.1">***</text>
<path d="M550.30 255.00V252.60H672.62V255.00" stroke="#4D4D4D" stroke-width="0.8" fill="none"/>
<text x="612.06" y="253.10" font-size="7.60" fill="#000" stroke="#000" text-anchor="middle" letter-spacing="1.1">***</text>
<clipPath id="cb"><rect x="0" y="388" width="139.4" height="20"/></clipPath>
<text x="26.90" y="399.00" font-size="9.50" fill="#000" stroke="#000" text-anchor="start" clip-path="url(#cb)">Months from treatment start</text>
<text x="244.00" y="399.00" font-size="9.50" fill="#000" stroke="#000" text-anchor="middle">Months from treatment start</text>
<text x="425.20" y="399.00" font-size="9.50" fill="#000" stroke="#000" text-anchor="middle">Months from treatment start</text>
<text x="611.40" y="399.00" font-size="9.50" fill="#000" stroke="#000" text-anchor="middle">Months from treatment start</text>
<text x="200.80" y="416.50" font-size="9.55" fill="#000" stroke="#000" text-anchor="start">Months from treatment start</text>
<line x1="330.20" y1="407.9" x2="330.20" y2="409.5" stroke="#333" stroke-width="0.6"/>
<rect x="325.30" y="409.5" width="9.8" height="6.3" fill="#4D4D4D" stroke="#333" stroke-width="0.6"/>
<line x1="325.30" y1="412.6" x2="335.10" y2="412.6" stroke="#333" stroke-width="0.9"/>
<text x="339.90" y="415.50" font-size="7.60" fill="#000" stroke="#000" text-anchor="start">0</text>
<line x1="354.10" y1="407.9" x2="354.10" y2="409.5" stroke="#333" stroke-width="0.6"/>
<rect x="349.20" y="409.5" width="9.8" height="6.3" fill="#D9D36E" stroke="#333" stroke-width="0.6"/>
<line x1="349.20" y1="412.6" x2="359.00" y2="412.6" stroke="#333" stroke-width="0.9"/>
<text x="364.00" y="415.50" font-size="7.60" fill="#000" stroke="#000" text-anchor="start">3</text>
<line x1="378.00" y1="407.9" x2="378.00" y2="409.5" stroke="#333" stroke-width="0.6"/>
<rect x="373.10" y="409.5" width="9.8" height="6.3" fill="#8FB0D8" stroke="#333" stroke-width="0.6"/>
<line x1="373.10" y1="412.6" x2="382.90" y2="412.6" stroke="#333" stroke-width="0.9"/>
<text x="387.90" y="415.50" font-size="7.60" fill="#000" stroke="#000" text-anchor="start">6–12</text>
<line x1="413.10" y1="407.9" x2="413.10" y2="409.5" stroke="#333" stroke-width="0.6"/>
<rect x="408.20" y="409.5" width="9.8" height="6.3" fill="#D9A0BE" stroke="#333" stroke-width="0.6"/>
<line x1="408.20" y1="412.6" x2="418.00" y2="412.6" stroke="#333" stroke-width="0.9"/>
<text x="423.80" y="415.50" font-size="7.60" fill="#000" stroke="#000" text-anchor="start">15–18</text>
<line x1="453.00" y1="407.9" x2="453.00" y2="409.5" stroke="#333" stroke-width="0.6"/>
<rect x="448.10" y="409.5" width="9.8" height="6.3" fill="#80C9A8" stroke="#333" stroke-width="0.6"/>
<line x1="448.10" y1="412.6" x2="457.90" y2="412.6" stroke="#333" stroke-width="0.9"/>
<text x="462.80" y="415.50" font-size="7.60" fill="#000" stroke="#000" text-anchor="start">21–24</text>
</svg></body></html>
